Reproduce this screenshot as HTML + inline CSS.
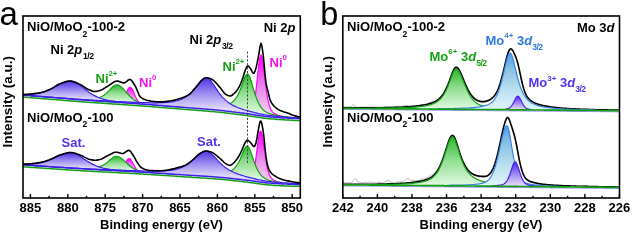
<!DOCTYPE html>
<html><head><meta charset="utf-8"><style>
html,body{margin:0;padding:0;background:#fff;width:632px;height:233px;overflow:hidden}
svg{position:absolute;left:0;top:0;display:block;will-change:transform} path{stroke-linejoin:round}
</style></head><body>
<svg width="632" height="233" viewBox="0 0 632 233">
<defs><linearGradient id="gm1" gradientUnits="userSpaceOnUse" x1="0" y1="87.3" x2="0" y2="103.2"><stop offset="0" stop-color="#ff00ff"/><stop offset="0.5" stop-color="#e884e8"/><stop offset="1" stop-color="#f2d6f2"/></linearGradient><linearGradient id="gm2" gradientUnits="userSpaceOnUse" x1="0" y1="54.8" x2="0" y2="115.8"><stop offset="0" stop-color="#ff00ff"/><stop offset="0.5" stop-color="#e884e8"/><stop offset="1" stop-color="#f2d6f2"/></linearGradient><linearGradient id="gg3" gradientUnits="userSpaceOnUse" x1="0" y1="84.9" x2="0" y2="102.3"><stop offset="0" stop-color="#2cb82c"/><stop offset="0.45" stop-color="#8cdc8c"/><stop offset="1" stop-color="#e2fae2"/></linearGradient><linearGradient id="gg4" gradientUnits="userSpaceOnUse" x1="0" y1="74.1" x2="0" y2="113.8"><stop offset="0" stop-color="#2cb82c"/><stop offset="0.45" stop-color="#8cdc8c"/><stop offset="1" stop-color="#e2fae2"/></linearGradient><linearGradient id="gp5" gradientUnits="userSpaceOnUse" x1="0" y1="81.2" x2="0" y2="99.0"><stop offset="0" stop-color="#4f32e6"/><stop offset="0.45" stop-color="#9484f0"/><stop offset="1" stop-color="#e2dafa"/></linearGradient><linearGradient id="gp6" gradientUnits="userSpaceOnUse" x1="0" y1="77.6" x2="0" y2="109.1"><stop offset="0" stop-color="#4f32e6"/><stop offset="0.45" stop-color="#9484f0"/><stop offset="1" stop-color="#e2dafa"/></linearGradient><linearGradient id="gm7" gradientUnits="userSpaceOnUse" x1="0" y1="158.6" x2="0" y2="171.4"><stop offset="0" stop-color="#ff00ff"/><stop offset="0.5" stop-color="#e884e8"/><stop offset="1" stop-color="#f2d6f2"/></linearGradient><linearGradient id="gm8" gradientUnits="userSpaceOnUse" x1="0" y1="131.1" x2="0" y2="182.2"><stop offset="0" stop-color="#ff00ff"/><stop offset="0.5" stop-color="#e884e8"/><stop offset="1" stop-color="#f2d6f2"/></linearGradient><linearGradient id="gg9" gradientUnits="userSpaceOnUse" x1="0" y1="156.4" x2="0" y2="170.7"><stop offset="0" stop-color="#2cb82c"/><stop offset="0.45" stop-color="#8cdc8c"/><stop offset="1" stop-color="#e2fae2"/></linearGradient><linearGradient id="gg10" gradientUnits="userSpaceOnUse" x1="0" y1="146.1" x2="0" y2="180.2"><stop offset="0" stop-color="#2cb82c"/><stop offset="0.45" stop-color="#8cdc8c"/><stop offset="1" stop-color="#e2fae2"/></linearGradient><linearGradient id="gp11" gradientUnits="userSpaceOnUse" x1="0" y1="152.8" x2="0" y2="168.2"><stop offset="0" stop-color="#4f32e6"/><stop offset="0.45" stop-color="#9484f0"/><stop offset="1" stop-color="#e2dafa"/></linearGradient><linearGradient id="gp12" gradientUnits="userSpaceOnUse" x1="0" y1="151.0" x2="0" y2="176.3"><stop offset="0" stop-color="#4f32e6"/><stop offset="0.45" stop-color="#9484f0"/><stop offset="1" stop-color="#e2dafa"/></linearGradient><linearGradient id="gg13" gradientUnits="userSpaceOnUse" x1="0" y1="69.0" x2="0" y2="109.3"><stop offset="0" stop-color="#2cb82c"/><stop offset="0.45" stop-color="#8cdc8c"/><stop offset="1" stop-color="#e2fae2"/></linearGradient><linearGradient id="gb14" gradientUnits="userSpaceOnUse" x1="0" y1="53.2" x2="0" y2="109.8"><stop offset="0" stop-color="#529ae6"/><stop offset="0.3" stop-color="#8cc2e0"/><stop offset="0.6" stop-color="#b4dcee"/><stop offset="1" stop-color="#e0f5fc"/></linearGradient><linearGradient id="gq15" gradientUnits="userSpaceOnUse" x1="0" y1="96.2" x2="0" y2="109.8"><stop offset="0" stop-color="#5028f0"/><stop offset="0.5" stop-color="#9c88f2"/><stop offset="1" stop-color="#e8e0fb"/></linearGradient><linearGradient id="gg16" gradientUnits="userSpaceOnUse" x1="0" y1="136.9" x2="0" y2="185.8"><stop offset="0" stop-color="#2cb82c"/><stop offset="0.45" stop-color="#8cdc8c"/><stop offset="1" stop-color="#e2fae2"/></linearGradient><linearGradient id="gb17" gradientUnits="userSpaceOnUse" x1="0" y1="125.8" x2="0" y2="186.3"><stop offset="0" stop-color="#529ae6"/><stop offset="0.3" stop-color="#8cc2e0"/><stop offset="0.6" stop-color="#b4dcee"/><stop offset="1" stop-color="#e0f5fc"/></linearGradient><linearGradient id="gq18" gradientUnits="userSpaceOnUse" x1="0" y1="161.9" x2="0" y2="186.4"><stop offset="0" stop-color="#5028f0"/><stop offset="0.5" stop-color="#9c88f2"/><stop offset="1" stop-color="#e8e0fb"/></linearGradient></defs>
<path d="M23 97L24 97.1L25 97.2L26 97.3L27 97.3L28 97.4L29 97.5L30 97.6L31 97.7L32 97.8L33 97.8L34 97.9L35 98L36 98.1L37 98.2L38 98.3L39 98.3L40 98.4L41 98.5L42 98.6L43 98.7L44 98.7L45 98.8L46 98.9L47 99L48 99.1L49 99.2L50 99.2L51 99.3L52 99.4L53 99.5L54 99.6L55 99.6L56 99.7L57 99.8L58 99.9L59 100L60 100.1L61 100.1L62 100.2L63 100.3L64 100.4L65 100.5L66 100.5L67 100.6L68 100.7L69 100.8L70 100.9L71 100.9L72 101L73 101.1L74 101.2L75 101.3L76 101.3L77 101.4L78 101.5L79 101.6L80 101.6L81 101.7L82 101.8L83 101.9L84 101.9L85 102L86 102.1L87 102.2L88 102.2L89 102.3L90 102.4L91 102.5L92 102.5L93 102.6L94 102.7L95 102.7L96 102.8L97 102.9L98 102.9L99 103L100 103.1L101 103.1L102 103.2L103 103.3L104 103.3L105 103.4L106 103.5L107 103.5L108 103.6L109 103.7L110 103.7L111 103.8L112 103.9L113 103.9L114 104L115 104.1L116 104.1L117 104.2L118 104.3L119 104.3L120 104.4L121 104.5L122 104.5L123 104.6L124 104.7L125 104.7L126 104.8L127 104.9L128 104.9L129 105L130 105.1L131 105.2L132 105.2L133 105.3L134 105.4L135 105.4L136 105.5L137 105.6L138 105.7L139 105.7L140 105.8L141 105.9L142 105.9L143 106L144 106.1L145 106.2L146 106.3L147 106.3L148 106.4L149 106.5L150 106.6L151 106.6L152 106.7L153 106.8L154 106.9L155 107L156 107L157 107.1L158 107.2L159 107.3L160 107.4L161 107.4L162 107.5L163 107.6L164 107.7L165 107.8L166 107.8L167 107.9L168 108L169 108.1L170 108.2L171 108.3L172 108.3L173 108.4L174 108.5L175 108.6L176 108.7L177 108.7L178 108.8L179 108.9L180 109L181 109.1L182 109.2L183 109.2L184 109.3L185 109.4L186 109.5L187 109.6L188 109.6L189 109.7L190 109.8L191 109.9L192 110L193 110L194 110.1L195 110.2L196 110.3L197 110.3L198 110.4L199 110.5L200 110.6L201 110.6L202 110.7L203 110.8L204 110.9L205 110.9L206 111L207 111.1L208 111.2L209 111.3L210 111.4L211 111.4L212 111.5L213 111.6L214 111.7L215 111.8L216 111.9L217 112L218 112.1L219 112.2L220 112.3L221 112.4L222 112.5L223 112.6L224 112.7L225 112.8L226 113L227 113.1L228 113.2L229 113.3L230 113.4L231 113.5L232 113.7L233 113.8L234 113.9L235 114L236 114.2L237 114.3L238 114.4L239 114.5L240 114.7L241 114.8L242 114.9L243 115L244 115.2L245 115.3L246 115.4L247 115.6L248 115.7L249 115.9L250 116L251 116.2L252 116.3L253 116.5L254 116.6L255 116.8L256 117L257 117.1L258 117.3L259 117.4L260 117.6L261 117.7L262 117.9L263 118L264 118.2L265 118.3L266 118.4L267 118.5L268 118.6L269 118.7L270 118.8L271 118.9L272 119L273 119L274 119.1L275 119.2L276 119.3L277 119.4L278 119.4L279 119.5L280 119.6L281 119.6L282 119.7L283 119.8L284 119.8L285 119.9L286 120L287 120L288 120.1L289 120.1L290 120.2L291 120.2L292 120.3L293 120.3L294 120.4L295 120.4L296 120.4L297 120.4L298 120.5L299 120.5L300 120.5" fill="none" stroke="#12a012" stroke-width="1.5"/>
<path d="M118 102.2L119 102.1L120 101.8L121 101.3L122 100.5L123 99.4L124 97.8L125 95.8L126 93.6L127 91.3L128 89.3L129 87.9L130 87.3L131 87.7L132 88.9L133 90.8L134 93.2L135 95.6L136 97.8L137 99.7L138 101.2L139 102.3L140 103L141 103.5L142 103.8L142 104L141 104L140 103.9L139 103.8L138 103.8L137 103.7L136 103.6L135 103.5L134 103.5L133 103.4L132 103.3L131 103.3L130 103.2L129 103.1L128 103L127 103L126 102.9L125 102.8L124 102.8L123 102.7L122 102.6L121 102.6L120 102.5L119 102.4L118 102.4Z" fill="url(#gm1)"/>
<path d="M118 102.2L119 102.1L120 101.8L121 101.3L122 100.5L123 99.4L124 97.8L125 95.8L126 93.6L127 91.3L128 89.3L129 87.9L130 87.3L131 87.7L132 88.9L133 90.8L134 93.2L135 95.6L136 97.8L137 99.7L138 101.2L139 102.3L140 103L141 103.5L142 103.8" fill="none" stroke="#ff00ff" stroke-width="1.2"/>
<path d="M236 112.1L237 112.2L238 112.4L239 112.5L240 112.6L241 112.7L242 112.8L243 112.9L244 113L245 113.1L246 113.2L247 113.2L248 113.3L249 113.2L250 112.9L251 112.1L252 110.7L253 108.2L254 104.1L255 98.3L256 90.5L257 81.3L258 71.7L259 63L260 56.9L261 54.8L262 57.2L263 63.3L264 71.4L265 79.9L266 87.9L267 94.7L268 100.2L269 104.4L270 107.5L271 109.7L272 111.3L273 112.4L274 113.3L275 113.9L276 114.4L277 114.8L278 115.2L279 115.5L280 115.8L281 116L282 116.2L283 116.4L284 116.6L285 116.8L286 116.9L287 117.1L288 117.2L289 117.3L290 117.4L291 117.5L292 117.6L293 117.7L294 117.8L295 117.9L296 117.9L297 118L298 118L299 118.1L300 118.1L300 118.6L299 118.6L298 118.6L297 118.5L296 118.5L295 118.5L294 118.5L293 118.4L292 118.4L291 118.3L290 118.3L289 118.2L288 118.2L287 118.1L286 118.1L285 118L284 117.9L283 117.9L282 117.8L281 117.7L280 117.7L279 117.6L278 117.5L277 117.5L276 117.4L275 117.3L274 117.2L273 117.1L272 117.1L271 117L270 116.9L269 116.8L268 116.7L267 116.6L266 116.5L265 116.4L264 116.3L263 116.1L262 116L261 115.8L260 115.7L259 115.5L258 115.4L257 115.2L256 115.1L255 114.9L254 114.7L253 114.6L252 114.4L251 114.3L250 114.1L249 114L248 113.8L247 113.7L246 113.5L245 113.4L244 113.3L243 113.1L242 113L241 112.9L240 112.8L239 112.6L238 112.5L237 112.4L236 112.3Z" fill="url(#gm2)"/>
<path d="M236 112.1L237 112.2L238 112.4L239 112.5L240 112.6L241 112.7L242 112.8L243 112.9L244 113L245 113.1L246 113.2L247 113.2L248 113.3L249 113.2L250 112.9L251 112.1L252 110.7L253 108.2L254 104.1L255 98.3L256 90.5L257 81.3L258 71.7L259 63L260 56.9L261 54.8L262 57.2L263 63.3L264 71.4L265 79.9L266 87.9L267 94.7L268 100.2L269 104.4L270 107.5L271 109.7L272 111.3L273 112.4L274 113.3L275 113.9L276 114.4L277 114.8L278 115.2L279 115.5L280 115.8L281 116L282 116.2L283 116.4L284 116.6L285 116.8L286 116.9L287 117.1L288 117.2L289 117.3L290 117.4L291 117.5L292 117.6L293 117.7L294 117.8L295 117.9L296 117.9L297 118L298 118L299 118.1L300 118.1" fill="none" stroke="#ff00ff" stroke-width="1.2"/>
<path d="M23 95L24 95.1L25 95.1L26 95.2L27 95.3L28 95.4L29 95.5L30 95.5L31 95.6L32 95.7L33 95.8L34 95.9L35 95.9L36 96L37 96.1L38 96.2L39 96.2L40 96.3L41 96.4L42 96.5L43 96.6L44 96.6L45 96.7L46 96.8L47 96.9L48 96.9L49 97L50 97.1L51 97.2L52 97.2L53 97.3L54 97.4L55 97.4L56 97.5L57 97.6L58 97.7L59 97.7L60 97.8L61 97.9L62 97.9L63 98L64 98.1L65 98.1L66 98.2L67 98.3L68 98.3L69 98.4L70 98.5L71 98.5L72 98.6L73 98.6L74 98.7L75 98.7L76 98.8L77 98.8L78 98.9L79 98.9L80 98.9L81 99L82 99L83 99L84 99.1L85 99.1L86 99.1L87 99.1L88 99.1L89 99L90 99L91 99L92 98.9L93 98.8L94 98.7L95 98.6L96 98.4L97 98.2L98 98L99 97.7L100 97.3L101 96.9L102 96.4L103 95.8L104 95.2L105 94.4L106 93.6L107 92.7L108 91.7L109 90.7L110 89.6L111 88.5L112 87.5L113 86.5L114 85.7L115 85.2L116 84.9L117 84.9L118 85.1L119 85.5L120 86.1L121 86.8L122 87.7L123 88.6L124 89.7L125 90.8L126 91.9L127 93.1L128 94.2L129 95.3L130 96.3L131 97.3L132 98.2L133 99.1L134 99.9L135 100.5L136 101.1L137 101.7L138 102.1L139 102.5L140 102.9L141 103.2L142 103.4L143 103.7L144 103.8L145 104L146 104.2L147 104.3L147 104.4L146 104.4L145 104.3L144 104.2L143 104.1L142 104L141 104L140 103.9L139 103.8L138 103.8L137 103.7L136 103.6L135 103.5L134 103.5L133 103.4L132 103.3L131 103.3L130 103.2L129 103.1L128 103L127 103L126 102.9L125 102.8L124 102.8L123 102.7L122 102.6L121 102.6L120 102.5L119 102.4L118 102.4L117 102.3L116 102.2L115 102.2L114 102.1L113 102L112 102L111 101.9L110 101.8L109 101.8L108 101.7L107 101.6L106 101.6L105 101.5L104 101.4L103 101.4L102 101.3L101 101.2L100 101.2L99 101.1L98 101L97 101L96 100.9L95 100.8L94 100.8L93 100.7L92 100.6L91 100.6L90 100.5L89 100.4L88 100.3L87 100.3L86 100.2L85 100.1L84 100L83 100L82 99.9L81 99.8L80 99.7L79 99.7L78 99.6L77 99.5L76 99.4L75 99.4L74 99.3L73 99.2L72 99.1L71 99L70 99L69 98.9L68 98.8L67 98.7L66 98.6L65 98.6L64 98.5L63 98.4L62 98.3L61 98.2L60 98.2L59 98.1L58 98L57 97.9L56 97.8L55 97.7L54 97.7L53 97.6L52 97.5L51 97.4L50 97.3L49 97.3L48 97.2L47 97.1L46 97L45 96.9L44 96.8L43 96.8L42 96.7L41 96.6L40 96.5L39 96.4L38 96.4L37 96.3L36 96.2L35 96.1L34 96L33 95.9L32 95.9L31 95.8L30 95.7L29 95.6L28 95.5L27 95.4L26 95.4L25 95.3L24 95.2L23 95.1Z" fill="url(#gg3)"/>
<path d="M23 95L24 95.1L25 95.1L26 95.2L27 95.3L28 95.4L29 95.5L30 95.5L31 95.6L32 95.7L33 95.8L34 95.9L35 95.9L36 96L37 96.1L38 96.2L39 96.2L40 96.3L41 96.4L42 96.5L43 96.6L44 96.6L45 96.7L46 96.8L47 96.9L48 96.9L49 97L50 97.1L51 97.2L52 97.2L53 97.3L54 97.4L55 97.4L56 97.5L57 97.6L58 97.7L59 97.7L60 97.8L61 97.9L62 97.9L63 98L64 98.1L65 98.1L66 98.2L67 98.3L68 98.3L69 98.4L70 98.5L71 98.5L72 98.6L73 98.6L74 98.7L75 98.7L76 98.8L77 98.8L78 98.9L79 98.9L80 98.9L81 99L82 99L83 99L84 99.1L85 99.1L86 99.1L87 99.1L88 99.1L89 99L90 99L91 99L92 98.9L93 98.8L94 98.7L95 98.6L96 98.4L97 98.2L98 98L99 97.7L100 97.3L101 96.9L102 96.4L103 95.8L104 95.2L105 94.4L106 93.6L107 92.7L108 91.7L109 90.7L110 89.6L111 88.5L112 87.5L113 86.5L114 85.7L115 85.2L116 84.9L117 84.9L118 85.1L119 85.5L120 86.1L121 86.8L122 87.7L123 88.6L124 89.7L125 90.8L126 91.9L127 93.1L128 94.2L129 95.3L130 96.3L131 97.3L132 98.2L133 99.1L134 99.9L135 100.5L136 101.1L137 101.7L138 102.1L139 102.5L140 102.9L141 103.2L142 103.4L143 103.7L144 103.8L145 104L146 104.2L147 104.3" fill="none" stroke="#12a012" stroke-width="1.2"/>
<path d="M91 100.4L92 100.5L93 100.6L94 100.6L95 100.7L96 100.8L97 100.8L98 100.9L99 101L100 101L101 101.1L102 101.2L103 101.2L104 101.3L105 101.4L106 101.4L107 101.5L108 101.6L109 101.6L110 101.7L111 101.7L112 101.8L113 101.9L114 101.9L115 102L116 102.1L117 102.1L118 102.2L119 102.3L120 102.3L121 102.4L122 102.4L123 102.5L124 102.6L125 102.6L126 102.7L127 102.8L128 102.8L129 102.9L130 103L131 103L132 103.1L133 103.2L134 103.2L135 103.3L136 103.4L137 103.4L138 103.5L139 103.6L140 103.6L141 103.7L142 103.8L143 103.9L144 103.9L145 104L146 104.1L147 104.1L148 104.2L149 104.3L150 104.4L151 104.4L152 104.5L153 104.6L154 104.6L155 104.7L156 104.8L157 104.9L158 104.9L159 105L160 105.1L161 105.1L162 105.2L163 105.3L164 105.4L165 105.4L166 105.5L167 105.6L168 105.6L169 105.7L170 105.8L171 105.9L172 105.9L173 106L174 106.1L175 106.1L176 106.2L177 106.3L178 106.3L179 106.4L180 106.4L181 106.5L182 106.6L183 106.6L184 106.7L185 106.8L186 106.8L187 106.9L188 106.9L189 107L190 107L191 107.1L192 107.1L193 107.2L194 107.2L195 107.2L196 107.3L197 107.3L198 107.3L199 107.4L200 107.4L201 107.4L202 107.4L203 107.5L204 107.5L205 107.5L206 107.5L207 107.5L208 107.5L209 107.5L210 107.5L211 107.4L212 107.4L213 107.4L214 107.3L215 107.3L216 107.2L217 107.1L218 107.1L219 107L220 106.8L221 106.7L222 106.5L223 106.3L224 106.1L225 105.9L226 105.6L227 105.2L228 104.8L229 104.3L230 103.8L231 103.1L232 102.4L233 101.5L234 100.5L235 99.4L236 98L237 96.5L238 94.7L239 92.6L240 90.3L241 87.7L242 85L243 82.1L244 79.3L245 76.9L246 75L247 74.1L248 74.1L249 75.3L250 77.5L251 80.5L252 83.8L253 87.3L254 90.8L255 94L256 96.9L257 99.6L258 101.9L259 104L260 105.7L261 107.2L262 108.5L263 109.6L264 110.5L265 111.3L266 112L267 112.5L268 113L269 113.4L270 113.8L271 114.1L272 114.4L273 114.7L274 114.9L275 115.2L276 115.4L277 115.6L278 115.8L279 116L280 116.1L281 116.3L282 116.4L283 116.6L284 116.7L285 116.8L286 116.9L287 117.1L288 117.2L289 117.3L290 117.4L291 117.4L292 117.5L293 117.6L294 117.7L295 117.7L296 117.8L297 117.9L298 117.9L299 117.9L300 118L300 118.6L299 118.6L298 118.6L297 118.5L296 118.5L295 118.5L294 118.5L293 118.4L292 118.4L291 118.3L290 118.3L289 118.2L288 118.2L287 118.1L286 118.1L285 118L284 117.9L283 117.9L282 117.8L281 117.7L280 117.7L279 117.6L278 117.5L277 117.5L276 117.4L275 117.3L274 117.2L273 117.1L272 117.1L271 117L270 116.9L269 116.8L268 116.7L267 116.6L266 116.5L265 116.4L264 116.3L263 116.1L262 116L261 115.8L260 115.7L259 115.5L258 115.4L257 115.2L256 115.1L255 114.9L254 114.7L253 114.6L252 114.4L251 114.3L250 114.1L249 114L248 113.8L247 113.7L246 113.5L245 113.4L244 113.3L243 113.1L242 113L241 112.9L240 112.8L239 112.6L238 112.5L237 112.4L236 112.3L235 112.1L234 112L233 111.9L232 111.8L231 111.6L230 111.5L229 111.4L228 111.3L227 111.2L226 111.1L225 110.9L224 110.8L223 110.7L222 110.6L221 110.5L220 110.4L219 110.3L218 110.2L217 110.1L216 110L215 109.9L214 109.8L213 109.7L212 109.6L211 109.5L210 109.5L209 109.4L208 109.3L207 109.2L206 109.1L205 109L204 109L203 108.9L202 108.8L201 108.7L200 108.7L199 108.6L198 108.5L197 108.4L196 108.4L195 108.3L194 108.2L193 108.1L192 108.1L191 108L190 107.9L189 107.8L188 107.7L187 107.7L186 107.6L185 107.5L184 107.4L183 107.3L182 107.3L181 107.2L180 107.1L179 107L178 106.9L177 106.8L176 106.8L175 106.7L174 106.6L173 106.5L172 106.4L171 106.4L170 106.3L169 106.2L168 106.1L167 106L166 105.9L165 105.9L164 105.8L163 105.7L162 105.6L161 105.5L160 105.5L159 105.4L158 105.3L157 105.2L156 105.1L155 105.1L154 105L153 104.9L152 104.8L151 104.7L150 104.7L149 104.6L148 104.5L147 104.4L146 104.4L145 104.3L144 104.2L143 104.1L142 104L141 104L140 103.9L139 103.8L138 103.8L137 103.7L136 103.6L135 103.5L134 103.5L133 103.4L132 103.3L131 103.3L130 103.2L129 103.1L128 103L127 103L126 102.9L125 102.8L124 102.8L123 102.7L122 102.6L121 102.6L120 102.5L119 102.4L118 102.4L117 102.3L116 102.2L115 102.2L114 102.1L113 102L112 102L111 101.9L110 101.8L109 101.8L108 101.7L107 101.6L106 101.6L105 101.5L104 101.4L103 101.4L102 101.3L101 101.2L100 101.2L99 101.1L98 101L97 101L96 100.9L95 100.8L94 100.8L93 100.7L92 100.6L91 100.6Z" fill="url(#gg4)"/>
<path d="M91 100.4L92 100.5L93 100.6L94 100.6L95 100.7L96 100.8L97 100.8L98 100.9L99 101L100 101L101 101.1L102 101.2L103 101.2L104 101.3L105 101.4L106 101.4L107 101.5L108 101.6L109 101.6L110 101.7L111 101.7L112 101.8L113 101.9L114 101.9L115 102L116 102.1L117 102.1L118 102.2L119 102.3L120 102.3L121 102.4L122 102.4L123 102.5L124 102.6L125 102.6L126 102.7L127 102.8L128 102.8L129 102.9L130 103L131 103L132 103.1L133 103.2L134 103.2L135 103.3L136 103.4L137 103.4L138 103.5L139 103.6L140 103.6L141 103.7L142 103.8L143 103.9L144 103.9L145 104L146 104.1L147 104.1L148 104.2L149 104.3L150 104.4L151 104.4L152 104.5L153 104.6L154 104.6L155 104.7L156 104.8L157 104.9L158 104.9L159 105L160 105.1L161 105.1L162 105.2L163 105.3L164 105.4L165 105.4L166 105.5L167 105.6L168 105.6L169 105.7L170 105.8L171 105.9L172 105.9L173 106L174 106.1L175 106.1L176 106.2L177 106.3L178 106.3L179 106.4L180 106.4L181 106.5L182 106.6L183 106.6L184 106.7L185 106.8L186 106.8L187 106.9L188 106.9L189 107L190 107L191 107.1L192 107.1L193 107.2L194 107.2L195 107.2L196 107.3L197 107.3L198 107.3L199 107.4L200 107.4L201 107.4L202 107.4L203 107.5L204 107.5L205 107.5L206 107.5L207 107.5L208 107.5L209 107.5L210 107.5L211 107.4L212 107.4L213 107.4L214 107.3L215 107.3L216 107.2L217 107.1L218 107.1L219 107L220 106.8L221 106.7L222 106.5L223 106.3L224 106.1L225 105.9L226 105.6L227 105.2L228 104.8L229 104.3L230 103.8L231 103.1L232 102.4L233 101.5L234 100.5L235 99.4L236 98L237 96.5L238 94.7L239 92.6L240 90.3L241 87.7L242 85L243 82.1L244 79.3L245 76.9L246 75L247 74.1L248 74.1L249 75.3L250 77.5L251 80.5L252 83.8L253 87.3L254 90.8L255 94L256 96.9L257 99.6L258 101.9L259 104L260 105.7L261 107.2L262 108.5L263 109.6L264 110.5L265 111.3L266 112L267 112.5L268 113L269 113.4L270 113.8L271 114.1L272 114.4L273 114.7L274 114.9L275 115.2L276 115.4L277 115.6L278 115.8L279 116L280 116.1L281 116.3L282 116.4L283 116.6L284 116.7L285 116.8L286 116.9L287 117.1L288 117.2L289 117.3L290 117.4L291 117.4L292 117.5L293 117.6L294 117.7L295 117.7L296 117.8L297 117.9L298 117.9L299 117.9L300 118" fill="none" stroke="#12a012" stroke-width="1.2"/>
<path d="M23 94.4L24 94.4L25 94.4L26 94.5L27 94.5L28 94.4L29 94.4L30 94.4L31 94.3L32 94.3L33 94.2L34 94.1L35 94L36 93.8L37 93.7L38 93.5L39 93.3L40 93.1L41 92.8L42 92.5L43 92.2L44 91.9L45 91.5L46 91.1L47 90.7L48 90.3L49 89.8L50 89.3L51 88.8L52 88.3L53 87.8L54 87.2L55 86.7L56 86.1L57 85.6L58 85.1L59 84.5L60 84L61 83.5L62 83.1L63 82.7L64 82.3L65 82L66 81.7L67 81.5L68 81.3L69 81.2L70 81.2L71 81.2L72 81.4L73 81.6L74 81.9L75 82.3L76 82.8L77 83.3L78 84L79 84.6L80 85.3L81 86.1L82 86.8L83 87.6L84 88.4L85 89.2L86 89.9L87 90.7L88 91.4L89 92.2L90 92.9L91 93.5L92 94.2L93 94.8L94 95.4L95 95.9L96 96.4L97 96.9L98 97.3L99 97.8L100 98.1L101 98.5L102 98.8L103 99.1L104 99.4L105 99.7L106 99.9L107 100.1L108 100.3L109 100.5L110 100.7L111 100.8L112 101L113 101.1L114 101.2L115 101.4L116 101.5L117 101.6L118 101.7L119 101.8L120 101.9L121 102L122 102.1L123 102.2L124 102.3L125 102.3L126 102.4L127 102.5L128 102.6L129 102.7L130 102.8L131 102.9L132 102.9L133 103L134 103.1L135 103.2L136 103.3L137 103.3L138 103.4L139 103.5L140 103.6L141 103.7L142 103.8L143 103.8L144 103.9L145 104L146 104.1L147 104.2L148 104.3L149 104.3L150 104.4L151 104.5L152 104.6L153 104.7L154 104.8L155 104.8L156 104.9L157 105L158 105.1L159 105.2L160 105.3L161 105.4L162 105.4L163 105.5L164 105.6L165 105.7L166 105.8L167 105.9L168 105.9L169 106L170 106.1L171 106.2L172 106.3L173 106.4L174 106.5L175 106.5L176 106.6L177 106.7L178 106.8L179 106.9L180 107L181 107L182 107.1L183 107.2L183 107.3L182 107.3L181 107.2L180 107.1L179 107L178 106.9L177 106.8L176 106.8L175 106.7L174 106.6L173 106.5L172 106.4L171 106.4L170 106.3L169 106.2L168 106.1L167 106L166 105.9L165 105.9L164 105.8L163 105.7L162 105.6L161 105.5L160 105.5L159 105.4L158 105.3L157 105.2L156 105.1L155 105.1L154 105L153 104.9L152 104.8L151 104.7L150 104.7L149 104.6L148 104.5L147 104.4L146 104.4L145 104.3L144 104.2L143 104.1L142 104L141 104L140 103.9L139 103.8L138 103.8L137 103.7L136 103.6L135 103.5L134 103.5L133 103.4L132 103.3L131 103.3L130 103.2L129 103.1L128 103L127 103L126 102.9L125 102.8L124 102.8L123 102.7L122 102.6L121 102.6L120 102.5L119 102.4L118 102.4L117 102.3L116 102.2L115 102.2L114 102.1L113 102L112 102L111 101.9L110 101.8L109 101.8L108 101.7L107 101.6L106 101.6L105 101.5L104 101.4L103 101.4L102 101.3L101 101.2L100 101.2L99 101.1L98 101L97 101L96 100.9L95 100.8L94 100.8L93 100.7L92 100.6L91 100.6L90 100.5L89 100.4L88 100.3L87 100.3L86 100.2L85 100.1L84 100L83 100L82 99.9L81 99.8L80 99.7L79 99.7L78 99.6L77 99.5L76 99.4L75 99.4L74 99.3L73 99.2L72 99.1L71 99L70 99L69 98.9L68 98.8L67 98.7L66 98.6L65 98.6L64 98.5L63 98.4L62 98.3L61 98.2L60 98.2L59 98.1L58 98L57 97.9L56 97.8L55 97.7L54 97.7L53 97.6L52 97.5L51 97.4L50 97.3L49 97.3L48 97.2L47 97.1L46 97L45 96.9L44 96.8L43 96.8L42 96.7L41 96.6L40 96.5L39 96.4L38 96.4L37 96.3L36 96.2L35 96.1L34 96L33 95.9L32 95.9L31 95.8L30 95.7L29 95.6L28 95.5L27 95.4L26 95.4L25 95.3L24 95.2L23 95.1Z" fill="url(#gp5)"/>
<path d="M23 94.4L24 94.4L25 94.4L26 94.5L27 94.5L28 94.4L29 94.4L30 94.4L31 94.3L32 94.3L33 94.2L34 94.1L35 94L36 93.8L37 93.7L38 93.5L39 93.3L40 93.1L41 92.8L42 92.5L43 92.2L44 91.9L45 91.5L46 91.1L47 90.7L48 90.3L49 89.8L50 89.3L51 88.8L52 88.3L53 87.8L54 87.2L55 86.7L56 86.1L57 85.6L58 85.1L59 84.5L60 84L61 83.5L62 83.1L63 82.7L64 82.3L65 82L66 81.7L67 81.5L68 81.3L69 81.2L70 81.2L71 81.2L72 81.4L73 81.6L74 81.9L75 82.3L76 82.8L77 83.3L78 84L79 84.6L80 85.3L81 86.1L82 86.8L83 87.6L84 88.4L85 89.2L86 89.9L87 90.7L88 91.4L89 92.2L90 92.9L91 93.5L92 94.2L93 94.8L94 95.4L95 95.9L96 96.4L97 96.9L98 97.3L99 97.8L100 98.1L101 98.5L102 98.8L103 99.1L104 99.4L105 99.7L106 99.9L107 100.1L108 100.3L109 100.5L110 100.7L111 100.8L112 101L113 101.1L114 101.2L115 101.4L116 101.5L117 101.6L118 101.7L119 101.8L120 101.9L121 102L122 102.1L123 102.2L124 102.3L125 102.3L126 102.4L127 102.5L128 102.6L129 102.7L130 102.8L131 102.9L132 102.9L133 103L134 103.1L135 103.2L136 103.3L137 103.3L138 103.4L139 103.5L140 103.6L141 103.7L142 103.8L143 103.8L144 103.9L145 104L146 104.1L147 104.2L148 104.3L149 104.3L150 104.4L151 104.5L152 104.6L153 104.7L154 104.8L155 104.8L156 104.9L157 105L158 105.1L159 105.2L160 105.3L161 105.4L162 105.4L163 105.5L164 105.6L165 105.7L166 105.8L167 105.9L168 105.9L169 106L170 106.1L171 106.2L172 106.3L173 106.4L174 106.5L175 106.5L176 106.6L177 106.7L178 106.8L179 106.9L180 107L181 107L182 107.1L183 107.2" fill="none" stroke="#3c20ea" stroke-width="1.2"/>
<path d="M23 94.9L24 95L25 95.1L26 95.2L27 95.2L28 95.3L29 95.4L30 95.5L31 95.6L32 95.6L33 95.7L34 95.8L35 95.9L36 96L37 96L38 96.1L39 96.2L40 96.3L41 96.4L42 96.4L43 96.5L44 96.6L45 96.7L46 96.8L47 96.8L48 96.9L49 97L50 97.1L51 97.2L52 97.2L53 97.3L54 97.4L55 97.5L56 97.5L57 97.6L58 97.7L59 97.8L60 97.9L61 97.9L62 98L63 98.1L64 98.2L65 98.2L66 98.3L67 98.4L68 98.5L69 98.5L70 98.6L71 98.7L72 98.8L73 98.8L74 98.9L75 99L76 99.1L77 99.1L78 99.2L79 99.3L80 99.3L81 99.4L82 99.5L83 99.6L84 99.6L85 99.7L86 99.8L87 99.8L88 99.9L89 99.9L90 100L91 100.1L92 100.1L93 100.2L94 100.3L95 100.3L96 100.4L97 100.4L98 100.5L99 100.5L100 100.6L101 100.7L102 100.7L103 100.8L104 100.8L105 100.9L106 100.9L107 101L108 101L109 101.1L110 101.2L111 101.2L112 101.3L113 101.3L114 101.4L115 101.4L116 101.5L117 101.5L118 101.6L119 101.6L120 101.7L121 101.7L122 101.8L123 101.8L124 101.8L125 101.9L126 101.9L127 102L128 102L129 102.1L130 102.1L131 102.2L132 102.2L133 102.2L134 102.3L135 102.3L136 102.4L137 102.4L138 102.4L139 102.5L140 102.5L141 102.5L142 102.6L143 102.6L144 102.6L145 102.6L146 102.7L147 102.7L148 102.7L149 102.7L150 102.8L151 102.8L152 102.8L153 102.8L154 102.8L155 102.8L156 102.8L157 102.8L158 102.8L159 102.7L160 102.7L161 102.7L162 102.7L163 102.6L164 102.6L165 102.5L166 102.4L167 102.3L168 102.3L169 102.1L170 102L171 101.9L172 101.8L173 101.6L174 101.4L175 101.2L176 101L177 100.7L178 100.4L179 100.1L180 99.8L181 99.4L182 99L183 98.5L184 98L185 97.4L186 96.8L187 96.1L188 95.4L189 94.6L190 93.7L191 92.8L192 91.8L193 90.7L194 89.5L195 88.3L196 87.1L197 85.8L198 84.5L199 83.2L200 82L201 80.8L202 79.8L203 78.9L204 78.3L205 77.8L206 77.6L207 77.8L208 78.2L209 78.9L210 79.9L211 81L212 82.4L213 83.8L214 85.3L215 86.9L216 88.4L217 89.9L218 91.4L219 92.8L220 94.1L221 95.4L222 96.6L223 97.7L224 98.7L225 99.7L226 100.6L227 101.4L228 102.2L229 102.9L230 103.6L231 104.2L232 104.8L233 105.4L234 105.9L235 106.4L236 106.8L237 107.2L238 107.7L239 108L240 108.4L241 108.8L242 109.1L243 109.4L244 109.7L245 110L246 110.3L247 110.6L248 110.8L249 111.1L250 111.4L251 111.6L252 111.9L253 112.2L254 112.4L255 112.7L256 112.9L257 113.1L258 113.4L259 113.6L260 113.8L261 114L262 114.2L263 114.4L264 114.6L265 114.8L266 115L267 115.1L268 115.3L269 115.4L270 115.6L271 115.7L272 115.8L273 115.9L274 116L275 116.1L276 116.2L277 116.3L278 116.5L279 116.6L280 116.7L281 116.8L282 116.8L283 116.9L284 117L285 117.1L286 117.2L287 117.3L288 117.3L289 117.4L290 117.5L291 117.6L292 117.6L293 117.7L294 117.7L295 117.8L296 117.8L297 117.9L298 117.9L299 117.9L300 118L300 118.6L299 118.6L298 118.6L297 118.5L296 118.5L295 118.5L294 118.5L293 118.4L292 118.4L291 118.3L290 118.3L289 118.2L288 118.2L287 118.1L286 118.1L285 118L284 117.9L283 117.9L282 117.8L281 117.7L280 117.7L279 117.6L278 117.5L277 117.5L276 117.4L275 117.3L274 117.2L273 117.1L272 117.1L271 117L270 116.9L269 116.8L268 116.7L267 116.6L266 116.5L265 116.4L264 116.3L263 116.1L262 116L261 115.8L260 115.7L259 115.5L258 115.4L257 115.2L256 115.1L255 114.9L254 114.7L253 114.6L252 114.4L251 114.3L250 114.1L249 114L248 113.8L247 113.7L246 113.5L245 113.4L244 113.3L243 113.1L242 113L241 112.9L240 112.8L239 112.6L238 112.5L237 112.4L236 112.3L235 112.1L234 112L233 111.9L232 111.8L231 111.6L230 111.5L229 111.4L228 111.3L227 111.2L226 111.1L225 110.9L224 110.8L223 110.7L222 110.6L221 110.5L220 110.4L219 110.3L218 110.2L217 110.1L216 110L215 109.9L214 109.8L213 109.7L212 109.6L211 109.5L210 109.5L209 109.4L208 109.3L207 109.2L206 109.1L205 109L204 109L203 108.9L202 108.8L201 108.7L200 108.7L199 108.6L198 108.5L197 108.4L196 108.4L195 108.3L194 108.2L193 108.1L192 108.1L191 108L190 107.9L189 107.8L188 107.7L187 107.7L186 107.6L185 107.5L184 107.4L183 107.3L182 107.3L181 107.2L180 107.1L179 107L178 106.9L177 106.8L176 106.8L175 106.7L174 106.6L173 106.5L172 106.4L171 106.4L170 106.3L169 106.2L168 106.1L167 106L166 105.9L165 105.9L164 105.8L163 105.7L162 105.6L161 105.5L160 105.5L159 105.4L158 105.3L157 105.2L156 105.1L155 105.1L154 105L153 104.9L152 104.8L151 104.7L150 104.7L149 104.6L148 104.5L147 104.4L146 104.4L145 104.3L144 104.2L143 104.1L142 104L141 104L140 103.9L139 103.8L138 103.8L137 103.7L136 103.6L135 103.5L134 103.5L133 103.4L132 103.3L131 103.3L130 103.2L129 103.1L128 103L127 103L126 102.9L125 102.8L124 102.8L123 102.7L122 102.6L121 102.6L120 102.5L119 102.4L118 102.4L117 102.3L116 102.2L115 102.2L114 102.1L113 102L112 102L111 101.9L110 101.8L109 101.8L108 101.7L107 101.6L106 101.6L105 101.5L104 101.4L103 101.4L102 101.3L101 101.2L100 101.2L99 101.1L98 101L97 101L96 100.9L95 100.8L94 100.8L93 100.7L92 100.6L91 100.6L90 100.5L89 100.4L88 100.3L87 100.3L86 100.2L85 100.1L84 100L83 100L82 99.9L81 99.8L80 99.7L79 99.7L78 99.6L77 99.5L76 99.4L75 99.4L74 99.3L73 99.2L72 99.1L71 99L70 99L69 98.9L68 98.8L67 98.7L66 98.6L65 98.6L64 98.5L63 98.4L62 98.3L61 98.2L60 98.2L59 98.1L58 98L57 97.9L56 97.8L55 97.7L54 97.7L53 97.6L52 97.5L51 97.4L50 97.3L49 97.3L48 97.2L47 97.1L46 97L45 96.9L44 96.8L43 96.8L42 96.7L41 96.6L40 96.5L39 96.4L38 96.4L37 96.3L36 96.2L35 96.1L34 96L33 95.9L32 95.9L31 95.8L30 95.7L29 95.6L28 95.5L27 95.4L26 95.4L25 95.3L24 95.2L23 95.1Z" fill="url(#gp6)"/>
<path d="M23 94.9L24 95L25 95.1L26 95.2L27 95.2L28 95.3L29 95.4L30 95.5L31 95.6L32 95.6L33 95.7L34 95.8L35 95.9L36 96L37 96L38 96.1L39 96.2L40 96.3L41 96.4L42 96.4L43 96.5L44 96.6L45 96.7L46 96.8L47 96.8L48 96.9L49 97L50 97.1L51 97.2L52 97.2L53 97.3L54 97.4L55 97.5L56 97.5L57 97.6L58 97.7L59 97.8L60 97.9L61 97.9L62 98L63 98.1L64 98.2L65 98.2L66 98.3L67 98.4L68 98.5L69 98.5L70 98.6L71 98.7L72 98.8L73 98.8L74 98.9L75 99L76 99.1L77 99.1L78 99.2L79 99.3L80 99.3L81 99.4L82 99.5L83 99.6L84 99.6L85 99.7L86 99.8L87 99.8L88 99.9L89 99.9L90 100L91 100.1L92 100.1L93 100.2L94 100.3L95 100.3L96 100.4L97 100.4L98 100.5L99 100.5L100 100.6L101 100.7L102 100.7L103 100.8L104 100.8L105 100.9L106 100.9L107 101L108 101L109 101.1L110 101.2L111 101.2L112 101.3L113 101.3L114 101.4L115 101.4L116 101.5L117 101.5L118 101.6L119 101.6L120 101.7L121 101.7L122 101.8L123 101.8L124 101.8L125 101.9L126 101.9L127 102L128 102L129 102.1L130 102.1L131 102.2L132 102.2L133 102.2L134 102.3L135 102.3L136 102.4L137 102.4L138 102.4L139 102.5L140 102.5L141 102.5L142 102.6L143 102.6L144 102.6L145 102.6L146 102.7L147 102.7L148 102.7L149 102.7L150 102.8L151 102.8L152 102.8L153 102.8L154 102.8L155 102.8L156 102.8L157 102.8L158 102.8L159 102.7L160 102.7L161 102.7L162 102.7L163 102.6L164 102.6L165 102.5L166 102.4L167 102.3L168 102.3L169 102.1L170 102L171 101.9L172 101.8L173 101.6L174 101.4L175 101.2L176 101L177 100.7L178 100.4L179 100.1L180 99.8L181 99.4L182 99L183 98.5L184 98L185 97.4L186 96.8L187 96.1L188 95.4L189 94.6L190 93.7L191 92.8L192 91.8L193 90.7L194 89.5L195 88.3L196 87.1L197 85.8L198 84.5L199 83.2L200 82L201 80.8L202 79.8L203 78.9L204 78.3L205 77.8L206 77.6L207 77.8L208 78.2L209 78.9L210 79.9L211 81L212 82.4L213 83.8L214 85.3L215 86.9L216 88.4L217 89.9L218 91.4L219 92.8L220 94.1L221 95.4L222 96.6L223 97.7L224 98.7L225 99.7L226 100.6L227 101.4L228 102.2L229 102.9L230 103.6L231 104.2L232 104.8L233 105.4L234 105.9L235 106.4L236 106.8L237 107.2L238 107.7L239 108L240 108.4L241 108.8L242 109.1L243 109.4L244 109.7L245 110L246 110.3L247 110.6L248 110.8L249 111.1L250 111.4L251 111.6L252 111.9L253 112.2L254 112.4L255 112.7L256 112.9L257 113.1L258 113.4L259 113.6L260 113.8L261 114L262 114.2L263 114.4L264 114.6L265 114.8L266 115L267 115.1L268 115.3L269 115.4L270 115.6L271 115.7L272 115.8L273 115.9L274 116L275 116.1L276 116.2L277 116.3L278 116.5L279 116.6L280 116.7L281 116.8L282 116.8L283 116.9L284 117L285 117.1L286 117.2L287 117.3L288 117.3L289 117.4L290 117.5L291 117.6L292 117.6L293 117.7L294 117.7L295 117.8L296 117.8L297 117.9L298 117.9L299 117.9L300 118" fill="none" stroke="#3c20ea" stroke-width="1.2"/>
<path d="M23 95.1L24 95.2L25 95.3L26 95.4L27 95.4L28 95.5L29 95.6L30 95.7L31 95.8L32 95.9L33 95.9L34 96L35 96.1L36 96.2L37 96.3L38 96.4L39 96.4L40 96.5L41 96.6L42 96.7L43 96.8L44 96.8L45 96.9L46 97L47 97.1L48 97.2L49 97.3L50 97.3L51 97.4L52 97.5L53 97.6L54 97.7L55 97.7L56 97.8L57 97.9L58 98L59 98.1L60 98.2L61 98.2L62 98.3L63 98.4L64 98.5L65 98.6L66 98.6L67 98.7L68 98.8L69 98.9L70 99L71 99L72 99.1L73 99.2L74 99.3L75 99.4L76 99.4L77 99.5L78 99.6L79 99.7L80 99.7L81 99.8L82 99.9L83 100L84 100L85 100.1L86 100.2L87 100.3L88 100.3L89 100.4L90 100.5L91 100.6L92 100.6L93 100.7L94 100.8L95 100.8L96 100.9L97 101L98 101L99 101.1L100 101.2L101 101.2L102 101.3L103 101.4L104 101.4L105 101.5L106 101.6L107 101.6L108 101.7L109 101.8L110 101.8L111 101.9L112 102L113 102L114 102.1L115 102.2L116 102.2L117 102.3L118 102.4L119 102.4L120 102.5L121 102.6L122 102.6L123 102.7L124 102.8L125 102.8L126 102.9L127 103L128 103L129 103.1L130 103.2L131 103.3L132 103.3L133 103.4L134 103.5L135 103.5L136 103.6L137 103.7L138 103.8L139 103.8L140 103.9L141 104L142 104L143 104.1L144 104.2L145 104.3L146 104.4L147 104.4L148 104.5L149 104.6L150 104.7L151 104.7L152 104.8L153 104.9L154 105L155 105.1L156 105.1L157 105.2L158 105.3L159 105.4L160 105.5L161 105.5L162 105.6L163 105.7L164 105.8L165 105.9L166 105.9L167 106L168 106.1L169 106.2L170 106.3L171 106.4L172 106.4L173 106.5L174 106.6L175 106.7L176 106.8L177 106.8L178 106.9L179 107L180 107.1L181 107.2L182 107.3L183 107.3L184 107.4L185 107.5L186 107.6L187 107.7L188 107.7L189 107.8L190 107.9L191 108L192 108.1L193 108.1L194 108.2L195 108.3L196 108.4L197 108.4L198 108.5L199 108.6L200 108.7L201 108.7L202 108.8L203 108.9L204 109L205 109L206 109.1L207 109.2L208 109.3L209 109.4L210 109.5L211 109.5L212 109.6L213 109.7L214 109.8L215 109.9L216 110L217 110.1L218 110.2L219 110.3L220 110.4L221 110.5L222 110.6L223 110.7L224 110.8L225 110.9L226 111.1L227 111.2L228 111.3L229 111.4L230 111.5L231 111.6L232 111.8L233 111.9L234 112L235 112.1L236 112.3L237 112.4L238 112.5L239 112.6L240 112.8L241 112.9L242 113L243 113.1L244 113.3L245 113.4L246 113.5L247 113.7L248 113.8L249 114L250 114.1L251 114.3L252 114.4L253 114.6L254 114.7L255 114.9L256 115.1L257 115.2L258 115.4L259 115.5L260 115.7L261 115.8L262 116L263 116.1L264 116.3L265 116.4L266 116.5L267 116.6L268 116.7L269 116.8L270 116.9L271 117L272 117.1L273 117.1L274 117.2L275 117.3L276 117.4L277 117.5L278 117.5L279 117.6L280 117.7L281 117.7L282 117.8L283 117.9L284 117.9L285 118L286 118.1L287 118.1L288 118.2L289 118.2L290 118.3L291 118.3L292 118.4L293 118.4L294 118.5L295 118.5L296 118.5L297 118.5L298 118.6L299 118.6L300 118.6" fill="none" stroke="#3c20ea" stroke-width="1.5"/>
<path d="M23 94.5L24 94.5L25 94.5L26 94.4L27 94.4L28 94.3L29 94.2L30 94.1L31 94L32 93.9L33 93.8L34 93.6L35 93.5L36 93.3L37 93.2L38 93L39 92.9L40 92.7L41 92.5L42 92.3L43 92L44 91.7L45 91.4L46 91L47 90.6L48 90.2L49 89.8L50 89.4L51 88.9L52 88.4L53 87.8L54 87.2L55 86.5L56 85.9L57 85.3L58 84.7L59 84.2L60 83.8L61 83.4L62 83L63 82.6L64 82.3L65 81.9L66 81.6L67 81.4L68 81.2L69 81L70 81L71 81.1L72 81.2L73 81.5L74 81.8L75 82.2L76 82.6L77 83L78 83.5L79 84L80 84.4L81 84.9L82 85.5L83 86.1L84 86.8L85 87.5L86 88.2L87 88.8L88 89.3L89 89.7L90 90.1L91 90.5L92 90.9L93 91.2L94 91.4L95 91.5L96 91.4L97 91.3L98 91.1L99 90.8L100 90.5L101 90.1L102 89.7L103 89.1L104 88.5L105 87.9L106 87.2L107 86.6L108 86L109 85.4L110 84.7L111 84L112 83.3L113 82.6L114 82L115 81.5L116 81.2L117 81L118 81.1L119 81.4L120 81.8L121 82.2L122 82.6L123 82.9L124 83L125 82.6L126 81.9L127 81.1L128 80.2L129 79.6L130 79.4L131 79.9L132 81L133 82.5L134 84L135 85.7L136 87.7L137 89.9L138 92.2L139 94.8L140 96.6L141 97.4L142 98.1L143 98.7L144 99.2L145 99.6L146 100L147 100.3L148 100.5L149 100.7L150 100.9L151 101.1L152 101.2L153 101.4L154 101.5L155 101.6L156 101.7L157 101.8L158 101.8L159 101.9L160 101.9L161 101.9L162 101.8L163 101.8L164 101.7L165 101.6L166 101.5L167 101.3L168 101.2L169 101L170 100.9L171 100.7L172 100.6L173 100.4L174 100.2L175 99.9L176 99.7L177 99.4L178 99.1L179 98.8L180 98.5L181 98.2L182 97.8L183 97.5L184 97.1L185 96.6L186 96.2L187 95.6L188 95.1L189 94.5L190 93.8L191 92.9L192 91.8L193 90.6L194 89.4L195 88.3L196 87.1L197 85.9L198 84.8L199 83.5L200 82.1L201 80.9L202 80L203 79.3L204 78.6L205 78L206 77.7L207 77.7L208 77.9L209 78.2L210 78.6L211 79L212 79.5L213 80.1L214 80.9L215 81.8L216 82.9L217 84L218 85.2L219 86.4L220 87.5L221 88.7L222 90L223 91.4L224 92.7L225 93.8L226 94.5L227 95L228 95.5L229 95.8L230 96L231 95.9L232 95.3L233 94.4L234 93.5L235 92.6L236 91.6L237 90.4L238 88.9L239 87.1L240 85L241 82.7L242 80.2L243 77.4L244 74.1L245 71L246 68.5L247 66.4L248 66L249 66.7L250 67.9L251 69.3L252 71.3L253 73.1L254 73.3L255 71.1L256 68L257 63.9L258 58.7L259 53.3L260 46.7L261 43.2L262 46.5L263 53.5L264 63.1L265 73.9L266 82.9L267 87.8L268 91.2L269 95.8L270 99.7L271 101.9L272 103.6L273 104.9L274 106L275 107L276 107.9L277 108.7L278 109.4L279 109.9L280 110.4L281 110.8L282 111.2L283 111.6L284 111.9L285 112.2L286 112.5L287 112.8L288 113.2L289 113.6L290 114L291 114.5L292 114.9L293 115.3L294 115.6L295 115.9L296 116.1L297 116.4L298 116.6L299 116.7L300 116.9" fill="none" stroke="#000" stroke-width="1.6"/>
<path d="M23 166.8L24 166.9L25 166.9L26 167L27 167.1L28 167.1L29 167.2L30 167.3L31 167.4L32 167.4L33 167.5L34 167.6L35 167.6L36 167.7L37 167.8L38 167.8L39 167.9L40 168L41 168L42 168.1L43 168.2L44 168.2L45 168.3L46 168.4L47 168.4L48 168.5L49 168.6L50 168.6L51 168.7L52 168.8L53 168.8L54 168.9L55 169L56 169.1L57 169.1L58 169.2L59 169.3L60 169.3L61 169.4L62 169.5L63 169.5L64 169.6L65 169.7L66 169.7L67 169.8L68 169.9L69 169.9L70 170L71 170.1L72 170.1L73 170.2L74 170.2L75 170.3L76 170.4L77 170.4L78 170.5L79 170.6L80 170.6L81 170.7L82 170.7L83 170.8L84 170.9L85 170.9L86 171L87 171L88 171.1L89 171.2L90 171.2L91 171.3L92 171.3L93 171.4L94 171.4L95 171.5L96 171.5L97 171.6L98 171.7L99 171.7L100 171.8L101 171.8L102 171.9L103 171.9L104 172L105 172L106 172.1L107 172.1L108 172.2L109 172.2L110 172.3L111 172.3L112 172.4L113 172.4L114 172.5L115 172.5L116 172.6L117 172.6L118 172.7L119 172.7L120 172.8L121 172.9L122 172.9L123 173L124 173L125 173.1L126 173.1L127 173.2L128 173.2L129 173.3L130 173.3L131 173.4L132 173.4L133 173.5L134 173.6L135 173.6L136 173.7L137 173.7L138 173.8L139 173.9L140 173.9L141 174L142 174L143 174.1L144 174.2L145 174.2L146 174.3L147 174.3L148 174.4L149 174.5L150 174.5L151 174.6L152 174.7L153 174.7L154 174.8L155 174.9L156 174.9L157 175L158 175L159 175.1L160 175.2L161 175.2L162 175.3L163 175.4L164 175.4L165 175.5L166 175.6L167 175.6L168 175.7L169 175.8L170 175.8L171 175.9L172 176L173 176.1L174 176.1L175 176.2L176 176.3L177 176.3L178 176.4L179 176.5L180 176.5L181 176.6L182 176.7L183 176.7L184 176.8L185 176.9L186 176.9L187 177L188 177.1L189 177.1L190 177.2L191 177.3L192 177.3L193 177.4L194 177.4L195 177.5L196 177.6L197 177.6L198 177.7L199 177.7L200 177.8L201 177.9L202 177.9L203 178L204 178.1L205 178.1L206 178.2L207 178.2L208 178.3L209 178.4L210 178.5L211 178.5L212 178.6L213 178.7L214 178.7L215 178.8L216 178.9L217 179L218 179.1L219 179.2L220 179.3L221 179.3L222 179.4L223 179.5L224 179.6L225 179.7L226 179.8L227 179.9L228 180L229 180.1L230 180.2L231 180.3L232 180.4L233 180.6L234 180.7L235 180.8L236 180.9L237 181L238 181.1L239 181.2L240 181.3L241 181.4L242 181.6L243 181.7L244 181.8L245 181.9L246 182L247 182.1L248 182.3L249 182.4L250 182.5L251 182.7L252 182.8L253 183L254 183.1L255 183.2L256 183.4L257 183.5L258 183.7L259 183.8L260 184L261 184.1L262 184.2L263 184.4L264 184.5L265 184.6L266 184.7L267 184.8L268 184.9L269 185L270 185L271 185.1L272 185.2L273 185.2L274 185.3L275 185.4L276 185.4L277 185.5L278 185.5L279 185.6L280 185.7L281 185.7L282 185.8L283 185.8L284 185.9L285 185.9L286 186L287 186L288 186.1L289 186.1L290 186.1L291 186.2L292 186.2L293 186.2L294 186.2L295 186.3L296 186.3L297 186.3L298 186.3L299 186.3L300 186.3" fill="none" stroke="#12a012" stroke-width="1.5"/>
<path d="M117 170.6L118 170.5L119 170.3L120 169.8L121 169.2L122 168.2L123 166.9L124 165.3L125 163.4L126 161.6L127 160.1L128 159L129 158.6L130 158.9L131 160L132 161.6L133 163.5L134 165.4L135 167.2L136 168.7L137 169.9L138 170.7L139 171.3L140 171.7L141 171.9L141 172.1L140 172L139 172L138 171.9L137 171.8L136 171.8L135 171.7L134 171.7L133 171.6L132 171.5L131 171.5L130 171.4L129 171.4L128 171.3L127 171.3L126 171.2L125 171.2L124 171.1L123 171.1L122 171L121 171L120 170.9L119 170.8L118 170.8L117 170.7Z" fill="url(#gm7)"/>
<path d="M117 170.6L118 170.5L119 170.3L120 169.8L121 169.2L122 168.2L123 166.9L124 165.3L125 163.4L126 161.6L127 160.1L128 159L129 158.6L130 158.9L131 160L132 161.6L133 163.5L134 165.4L135 167.2L136 168.7L137 169.9L138 170.7L139 171.3L140 171.7L141 171.9" fill="none" stroke="#ff00ff" stroke-width="1.2"/>
<path d="M238 179.1L239 179.2L240 179.3L241 179.4L242 179.5L243 179.6L244 179.6L245 179.7L246 179.8L247 179.8L248 179.8L249 179.7L250 179.3L251 178.5L252 177L253 174.4L254 170.4L255 164.8L256 157.8L257 149.8L258 141.8L259 135.2L260 131.4L261 131.1L262 134.5L263 140.5L264 147.6L265 154.7L266 161L267 166.3L268 170.5L269 173.7L270 176L271 177.6L272 178.8L273 179.6L274 180.3L275 180.7L276 181.1L277 181.5L278 181.8L279 182L280 182.2L281 182.4L282 182.6L283 182.8L284 182.9L285 183L286 183.2L287 183.3L288 183.4L289 183.5L290 183.5L291 183.6L292 183.7L293 183.7L294 183.8L295 183.9L296 183.9L297 183.9L298 184L299 184L300 184L300 184.4L299 184.4L298 184.4L297 184.4L296 184.4L295 184.4L294 184.3L293 184.3L292 184.3L291 184.3L290 184.2L289 184.2L288 184.2L287 184.1L286 184.1L285 184L284 184L283 183.9L282 183.9L281 183.8L280 183.8L279 183.7L278 183.6L277 183.6L276 183.5L275 183.5L274 183.4L273 183.3L272 183.3L271 183.2L270 183.1L269 183.1L268 183L267 182.9L266 182.8L265 182.7L264 182.6L263 182.5L262 182.3L261 182.2L260 182.1L259 181.9L258 181.8L257 181.6L256 181.5L255 181.3L254 181.2L253 181.1L252 180.9L251 180.8L250 180.6L249 180.5L248 180.4L247 180.2L246 180.1L245 180L244 179.9L243 179.8L242 179.7L241 179.5L240 179.4L239 179.3L238 179.2Z" fill="url(#gm8)"/>
<path d="M238 179.1L239 179.2L240 179.3L241 179.4L242 179.5L243 179.6L244 179.6L245 179.7L246 179.8L247 179.8L248 179.8L249 179.7L250 179.3L251 178.5L252 177L253 174.4L254 170.4L255 164.8L256 157.8L257 149.8L258 141.8L259 135.2L260 131.4L261 131.1L262 134.5L263 140.5L264 147.6L265 154.7L266 161L267 166.3L268 170.5L269 173.7L270 176L271 177.6L272 178.8L273 179.6L274 180.3L275 180.7L276 181.1L277 181.5L278 181.8L279 182L280 182.2L281 182.4L282 182.6L283 182.8L284 182.9L285 183L286 183.2L287 183.3L288 183.4L289 183.5L290 183.5L291 183.6L292 183.7L293 183.7L294 183.8L295 183.9L296 183.9L297 183.9L298 184L299 184L300 184" fill="none" stroke="#ff00ff" stroke-width="1.2"/>
<path d="M29 165.2L30 165.3L31 165.3L32 165.4L33 165.5L34 165.5L35 165.6L36 165.7L37 165.7L38 165.8L39 165.8L40 165.9L41 166L42 166L43 166.1L44 166.2L45 166.2L46 166.3L47 166.4L48 166.4L49 166.5L50 166.5L51 166.6L52 166.7L53 166.7L54 166.8L55 166.8L56 166.9L57 167L58 167L59 167.1L60 167.1L61 167.2L62 167.2L63 167.3L64 167.4L65 167.4L66 167.5L67 167.5L68 167.6L69 167.6L70 167.7L71 167.7L72 167.8L73 167.8L74 167.8L75 167.9L76 167.9L77 168L78 168L79 168L80 168.1L81 168.1L82 168.1L83 168.1L84 168.1L85 168.1L86 168.1L87 168.1L88 168.1L89 168.1L90 168.1L91 168L92 168L93 167.9L94 167.8L95 167.7L96 167.5L97 167.4L98 167.1L99 166.9L100 166.6L101 166.2L102 165.8L103 165.3L104 164.7L105 164.1L106 163.4L107 162.6L108 161.8L109 160.9L110 160L111 159.1L112 158.3L113 157.5L114 156.9L115 156.5L116 156.4L117 156.4L118 156.7L119 157L120 157.5L121 158.2L122 158.9L123 159.7L124 160.6L125 161.5L126 162.4L127 163.4L128 164.3L129 165.2L130 166L131 166.8L132 167.6L133 168.2L134 168.8L135 169.4L136 169.9L137 170.3L138 170.6L139 171L140 171.2L141 171.5L142 171.7L143 171.8L144 172L145 172.1L146 172.2L146 172.4L145 172.3L144 172.3L143 172.2L142 172.1L141 172.1L140 172L139 172L138 171.9L137 171.8L136 171.8L135 171.7L134 171.7L133 171.6L132 171.5L131 171.5L130 171.4L129 171.4L128 171.3L127 171.3L126 171.2L125 171.2L124 171.1L123 171.1L122 171L121 171L120 170.9L119 170.8L118 170.8L117 170.7L116 170.7L115 170.6L114 170.6L113 170.5L112 170.5L111 170.4L110 170.4L109 170.3L108 170.3L107 170.2L106 170.2L105 170.1L104 170.1L103 170L102 170L101 169.9L100 169.9L99 169.8L98 169.8L97 169.7L96 169.6L95 169.6L94 169.5L93 169.5L92 169.4L91 169.4L90 169.3L89 169.3L88 169.2L87 169.1L86 169.1L85 169L84 169L83 168.9L82 168.8L81 168.8L80 168.7L79 168.7L78 168.6L77 168.5L76 168.5L75 168.4L74 168.3L73 168.3L72 168.2L71 168.2L70 168.1L69 168L68 168L67 167.9L66 167.8L65 167.8L64 167.7L63 167.6L62 167.6L61 167.5L60 167.4L59 167.4L58 167.3L57 167.2L56 167.2L55 167.1L54 167L53 166.9L52 166.9L51 166.8L50 166.7L49 166.7L48 166.6L47 166.5L46 166.5L45 166.4L44 166.3L43 166.3L42 166.2L41 166.1L40 166.1L39 166L38 165.9L37 165.9L36 165.8L35 165.7L34 165.7L33 165.6L32 165.5L31 165.5L30 165.4L29 165.3Z" fill="url(#gg9)"/>
<path d="M29 165.2L30 165.3L31 165.3L32 165.4L33 165.5L34 165.5L35 165.6L36 165.7L37 165.7L38 165.8L39 165.8L40 165.9L41 166L42 166L43 166.1L44 166.2L45 166.2L46 166.3L47 166.4L48 166.4L49 166.5L50 166.5L51 166.6L52 166.7L53 166.7L54 166.8L55 166.8L56 166.9L57 167L58 167L59 167.1L60 167.1L61 167.2L62 167.2L63 167.3L64 167.4L65 167.4L66 167.5L67 167.5L68 167.6L69 167.6L70 167.7L71 167.7L72 167.8L73 167.8L74 167.8L75 167.9L76 167.9L77 168L78 168L79 168L80 168.1L81 168.1L82 168.1L83 168.1L84 168.1L85 168.1L86 168.1L87 168.1L88 168.1L89 168.1L90 168.1L91 168L92 168L93 167.9L94 167.8L95 167.7L96 167.5L97 167.4L98 167.1L99 166.9L100 166.6L101 166.2L102 165.8L103 165.3L104 164.7L105 164.1L106 163.4L107 162.6L108 161.8L109 160.9L110 160L111 159.1L112 158.3L113 157.5L114 156.9L115 156.5L116 156.4L117 156.4L118 156.7L119 157L120 157.5L121 158.2L122 158.9L123 159.7L124 160.6L125 161.5L126 162.4L127 163.4L128 164.3L129 165.2L130 166L131 166.8L132 167.6L133 168.2L134 168.8L135 169.4L136 169.9L137 170.3L138 170.6L139 171L140 171.2L141 171.5L142 171.7L143 171.8L144 172L145 172.1L146 172.2" fill="none" stroke="#12a012" stroke-width="1.2"/>
<path d="M102 169.8L103 169.9L104 169.9L105 170L106 170L107 170.1L108 170.1L109 170.2L110 170.2L111 170.3L112 170.3L113 170.4L114 170.4L115 170.5L116 170.5L117 170.6L118 170.6L119 170.7L120 170.7L121 170.8L122 170.8L123 170.9L124 170.9L125 171L126 171L127 171.1L128 171.1L129 171.2L130 171.3L131 171.3L132 171.4L133 171.4L134 171.5L135 171.5L136 171.6L137 171.6L138 171.7L139 171.7L140 171.8L141 171.8L142 171.9L143 172L144 172L145 172.1L146 172.1L147 172.2L148 172.2L149 172.3L150 172.4L151 172.4L152 172.5L153 172.5L154 172.6L155 172.7L156 172.7L157 172.8L158 172.8L159 172.9L160 172.9L161 173L162 173.1L163 173.1L164 173.2L165 173.2L166 173.3L167 173.4L168 173.4L169 173.5L170 173.5L171 173.6L172 173.6L173 173.7L174 173.7L175 173.8L176 173.9L177 173.9L178 174L179 174L180 174.1L181 174.1L182 174.2L183 174.2L184 174.3L185 174.3L186 174.4L187 174.4L188 174.4L189 174.5L190 174.5L191 174.6L192 174.6L193 174.6L194 174.7L195 174.7L196 174.7L197 174.7L198 174.8L199 174.8L200 174.8L201 174.8L202 174.8L203 174.8L204 174.8L205 174.8L206 174.8L207 174.8L208 174.8L209 174.8L210 174.8L211 174.8L212 174.8L213 174.7L214 174.7L215 174.6L216 174.6L217 174.5L218 174.4L219 174.3L220 174.2L221 174.1L222 174L223 173.8L224 173.6L225 173.4L226 173.1L227 172.8L228 172.4L229 172L230 171.5L231 170.9L232 170.3L233 169.5L234 168.6L235 167.6L236 166.3L237 164.9L238 163.3L239 161.5L240 159.5L241 157.2L242 154.8L243 152.3L244 150L245 148.1L246 146.7L247 146.1L248 146.4L249 147.7L250 149.9L251 152.5L252 155.5L253 158.5L254 161.4L255 164.1L256 166.6L257 168.8L258 170.8L259 172.4L260 173.9L261 175.1L262 176.2L263 177.1L264 177.8L265 178.5L266 179L267 179.5L268 179.9L269 180.2L270 180.5L271 180.8L272 181.1L273 181.3L274 181.5L275 181.7L276 181.8L277 182L278 182.2L279 182.3L280 182.5L281 182.6L282 182.7L283 182.8L284 182.9L285 183L286 183.1L287 183.2L288 183.3L289 183.4L290 183.4L291 183.5L292 183.6L293 183.6L294 183.7L295 183.7L296 183.8L297 183.8L298 183.8L299 183.9L300 183.9L300 184.4L299 184.4L298 184.4L297 184.4L296 184.4L295 184.4L294 184.3L293 184.3L292 184.3L291 184.3L290 184.2L289 184.2L288 184.2L287 184.1L286 184.1L285 184L284 184L283 183.9L282 183.9L281 183.8L280 183.8L279 183.7L278 183.6L277 183.6L276 183.5L275 183.5L274 183.4L273 183.3L272 183.3L271 183.2L270 183.1L269 183.1L268 183L267 182.9L266 182.8L265 182.7L264 182.6L263 182.5L262 182.3L261 182.2L260 182.1L259 181.9L258 181.8L257 181.6L256 181.5L255 181.3L254 181.2L253 181.1L252 180.9L251 180.8L250 180.6L249 180.5L248 180.4L247 180.2L246 180.1L245 180L244 179.9L243 179.8L242 179.7L241 179.5L240 179.4L239 179.3L238 179.2L237 179.1L236 179L235 178.9L234 178.8L233 178.7L232 178.5L231 178.4L230 178.3L229 178.2L228 178.1L227 178L226 177.9L225 177.8L224 177.7L223 177.6L222 177.5L221 177.4L220 177.4L219 177.3L218 177.2L217 177.1L216 177L215 176.9L214 176.8L213 176.8L212 176.7L211 176.6L210 176.6L209 176.5L208 176.4L207 176.3L206 176.3L205 176.2L204 176.2L203 176.1L202 176L201 176L200 175.9L199 175.8L198 175.8L197 175.7L196 175.7L195 175.6L194 175.5L193 175.5L192 175.4L191 175.4L190 175.3L189 175.2L188 175.2L187 175.1L186 175L185 175L184 174.9L183 174.8L182 174.8L181 174.7L180 174.6L179 174.6L178 174.5L177 174.4L176 174.4L175 174.3L174 174.2L173 174.2L172 174.1L171 174L170 173.9L169 173.9L168 173.8L167 173.7L166 173.7L165 173.6L164 173.5L163 173.5L162 173.4L161 173.3L160 173.3L159 173.2L158 173.1L157 173.1L156 173L155 173L154 172.9L153 172.8L152 172.8L151 172.7L150 172.6L149 172.6L148 172.5L147 172.4L146 172.4L145 172.3L144 172.3L143 172.2L142 172.1L141 172.1L140 172L139 172L138 171.9L137 171.8L136 171.8L135 171.7L134 171.7L133 171.6L132 171.5L131 171.5L130 171.4L129 171.4L128 171.3L127 171.3L126 171.2L125 171.2L124 171.1L123 171.1L122 171L121 171L120 170.9L119 170.8L118 170.8L117 170.7L116 170.7L115 170.6L114 170.6L113 170.5L112 170.5L111 170.4L110 170.4L109 170.3L108 170.3L107 170.2L106 170.2L105 170.1L104 170.1L103 170L102 170Z" fill="url(#gg10)"/>
<path d="M102 169.8L103 169.9L104 169.9L105 170L106 170L107 170.1L108 170.1L109 170.2L110 170.2L111 170.3L112 170.3L113 170.4L114 170.4L115 170.5L116 170.5L117 170.6L118 170.6L119 170.7L120 170.7L121 170.8L122 170.8L123 170.9L124 170.9L125 171L126 171L127 171.1L128 171.1L129 171.2L130 171.3L131 171.3L132 171.4L133 171.4L134 171.5L135 171.5L136 171.6L137 171.6L138 171.7L139 171.7L140 171.8L141 171.8L142 171.9L143 172L144 172L145 172.1L146 172.1L147 172.2L148 172.2L149 172.3L150 172.4L151 172.4L152 172.5L153 172.5L154 172.6L155 172.7L156 172.7L157 172.8L158 172.8L159 172.9L160 172.9L161 173L162 173.1L163 173.1L164 173.2L165 173.2L166 173.3L167 173.4L168 173.4L169 173.5L170 173.5L171 173.6L172 173.6L173 173.7L174 173.7L175 173.8L176 173.9L177 173.9L178 174L179 174L180 174.1L181 174.1L182 174.2L183 174.2L184 174.3L185 174.3L186 174.4L187 174.4L188 174.4L189 174.5L190 174.5L191 174.6L192 174.6L193 174.6L194 174.7L195 174.7L196 174.7L197 174.7L198 174.8L199 174.8L200 174.8L201 174.8L202 174.8L203 174.8L204 174.8L205 174.8L206 174.8L207 174.8L208 174.8L209 174.8L210 174.8L211 174.8L212 174.8L213 174.7L214 174.7L215 174.6L216 174.6L217 174.5L218 174.4L219 174.3L220 174.2L221 174.1L222 174L223 173.8L224 173.6L225 173.4L226 173.1L227 172.8L228 172.4L229 172L230 171.5L231 170.9L232 170.3L233 169.5L234 168.6L235 167.6L236 166.3L237 164.9L238 163.3L239 161.5L240 159.5L241 157.2L242 154.8L243 152.3L244 150L245 148.1L246 146.7L247 146.1L248 146.4L249 147.7L250 149.9L251 152.5L252 155.5L253 158.5L254 161.4L255 164.1L256 166.6L257 168.8L258 170.8L259 172.4L260 173.9L261 175.1L262 176.2L263 177.1L264 177.8L265 178.5L266 179L267 179.5L268 179.9L269 180.2L270 180.5L271 180.8L272 181.1L273 181.3L274 181.5L275 181.7L276 181.8L277 182L278 182.2L279 182.3L280 182.5L281 182.6L282 182.7L283 182.8L284 182.9L285 183L286 183.1L287 183.2L288 183.3L289 183.4L290 183.4L291 183.5L292 183.6L293 183.6L294 183.7L295 183.7L296 183.8L297 183.8L298 183.8L299 183.9L300 183.9" fill="none" stroke="#12a012" stroke-width="1.2"/>
<path d="M23 164.3L24 164.3L25 164.3L26 164.3L27 164.3L28 164.3L29 164.3L30 164.3L31 164.2L32 164.2L33 164.1L34 164L35 163.9L36 163.8L37 163.6L38 163.5L39 163.3L40 163.1L41 162.9L42 162.6L43 162.3L44 162L45 161.7L46 161.4L47 161L48 160.6L49 160.2L50 159.8L51 159.4L52 158.9L53 158.5L54 158L55 157.5L56 157L57 156.6L58 156.1L59 155.6L60 155.2L61 154.8L62 154.4L63 154L64 153.7L65 153.4L66 153.2L67 153L68 152.8L69 152.7L70 152.7L71 152.8L72 152.9L73 153.1L74 153.3L75 153.7L76 154.1L77 154.5L78 155.1L79 155.6L80 156.2L81 156.9L82 157.5L83 158.2L84 158.9L85 159.5L86 160.2L87 160.9L88 161.5L89 162.1L90 162.7L91 163.3L92 163.9L93 164.4L94 164.9L95 165.3L96 165.8L97 166.2L98 166.6L99 166.9L100 167.2L101 167.5L102 167.8L103 168.1L104 168.3L105 168.5L106 168.7L107 168.9L108 169.1L109 169.2L110 169.4L111 169.5L112 169.6L113 169.7L114 169.8L115 169.9L116 170L117 170.1L118 170.2L119 170.3L120 170.4L121 170.4L122 170.5L123 170.6L124 170.7L125 170.7L126 170.8L127 170.9L128 170.9L129 171L130 171.1L131 171.1L132 171.2L133 171.3L134 171.3L135 171.4L136 171.5L137 171.5L138 171.6L139 171.7L140 171.7L141 171.8L142 171.9L143 171.9L144 172L145 172.1L146 172.2L147 172.2L148 172.3L149 172.4L150 172.4L151 172.5L152 172.6L153 172.6L154 172.7L155 172.8L156 172.8L157 172.9L158 173L159 173L160 173.1L161 173.2L162 173.3L163 173.3L164 173.4L165 173.5L166 173.5L167 173.6L168 173.7L169 173.7L170 173.8L171 173.9L172 174L173 174L174 174.1L175 174.2L175 174.3L174 174.2L173 174.2L172 174.1L171 174L170 173.9L169 173.9L168 173.8L167 173.7L166 173.7L165 173.6L164 173.5L163 173.5L162 173.4L161 173.3L160 173.3L159 173.2L158 173.1L157 173.1L156 173L155 173L154 172.9L153 172.8L152 172.8L151 172.7L150 172.6L149 172.6L148 172.5L147 172.4L146 172.4L145 172.3L144 172.3L143 172.2L142 172.1L141 172.1L140 172L139 172L138 171.9L137 171.8L136 171.8L135 171.7L134 171.7L133 171.6L132 171.5L131 171.5L130 171.4L129 171.4L128 171.3L127 171.3L126 171.2L125 171.2L124 171.1L123 171.1L122 171L121 171L120 170.9L119 170.8L118 170.8L117 170.7L116 170.7L115 170.6L114 170.6L113 170.5L112 170.5L111 170.4L110 170.4L109 170.3L108 170.3L107 170.2L106 170.2L105 170.1L104 170.1L103 170L102 170L101 169.9L100 169.9L99 169.8L98 169.8L97 169.7L96 169.6L95 169.6L94 169.5L93 169.5L92 169.4L91 169.4L90 169.3L89 169.3L88 169.2L87 169.1L86 169.1L85 169L84 169L83 168.9L82 168.8L81 168.8L80 168.7L79 168.7L78 168.6L77 168.5L76 168.5L75 168.4L74 168.3L73 168.3L72 168.2L71 168.2L70 168.1L69 168L68 168L67 167.9L66 167.8L65 167.8L64 167.7L63 167.6L62 167.6L61 167.5L60 167.4L59 167.4L58 167.3L57 167.2L56 167.2L55 167.1L54 167L53 166.9L52 166.9L51 166.8L50 166.7L49 166.7L48 166.6L47 166.5L46 166.5L45 166.4L44 166.3L43 166.3L42 166.2L41 166.1L40 166.1L39 166L38 165.9L37 165.9L36 165.8L35 165.7L34 165.7L33 165.6L32 165.5L31 165.5L30 165.4L29 165.3L28 165.2L27 165.2L26 165.1L25 165L24 165L23 164.9Z" fill="url(#gp11)"/>
<path d="M23 164.3L24 164.3L25 164.3L26 164.3L27 164.3L28 164.3L29 164.3L30 164.3L31 164.2L32 164.2L33 164.1L34 164L35 163.9L36 163.8L37 163.6L38 163.5L39 163.3L40 163.1L41 162.9L42 162.6L43 162.3L44 162L45 161.7L46 161.4L47 161L48 160.6L49 160.2L50 159.8L51 159.4L52 158.9L53 158.5L54 158L55 157.5L56 157L57 156.6L58 156.1L59 155.6L60 155.2L61 154.8L62 154.4L63 154L64 153.7L65 153.4L66 153.2L67 153L68 152.8L69 152.7L70 152.7L71 152.8L72 152.9L73 153.1L74 153.3L75 153.7L76 154.1L77 154.5L78 155.1L79 155.6L80 156.2L81 156.9L82 157.5L83 158.2L84 158.9L85 159.5L86 160.2L87 160.9L88 161.5L89 162.1L90 162.7L91 163.3L92 163.9L93 164.4L94 164.9L95 165.3L96 165.8L97 166.2L98 166.6L99 166.9L100 167.2L101 167.5L102 167.8L103 168.1L104 168.3L105 168.5L106 168.7L107 168.9L108 169.1L109 169.2L110 169.4L111 169.5L112 169.6L113 169.7L114 169.8L115 169.9L116 170L117 170.1L118 170.2L119 170.3L120 170.4L121 170.4L122 170.5L123 170.6L124 170.7L125 170.7L126 170.8L127 170.9L128 170.9L129 171L130 171.1L131 171.1L132 171.2L133 171.3L134 171.3L135 171.4L136 171.5L137 171.5L138 171.6L139 171.7L140 171.7L141 171.8L142 171.9L143 171.9L144 172L145 172.1L146 172.2L147 172.2L148 172.3L149 172.4L150 172.4L151 172.5L152 172.6L153 172.6L154 172.7L155 172.8L156 172.8L157 172.9L158 173L159 173L160 173.1L161 173.2L162 173.3L163 173.3L164 173.4L165 173.5L166 173.5L167 173.6L168 173.7L169 173.7L170 173.8L171 173.9L172 174L173 174L174 174.1L175 174.2" fill="none" stroke="#3c20ea" stroke-width="1.2"/>
<path d="M23 164.7L24 164.8L25 164.9L26 164.9L27 165L28 165.1L29 165.1L30 165.2L31 165.3L32 165.4L33 165.4L34 165.5L35 165.6L36 165.6L37 165.7L38 165.7L39 165.8L40 165.9L41 165.9L42 166L43 166.1L44 166.1L45 166.2L46 166.3L47 166.3L48 166.4L49 166.5L50 166.5L51 166.6L52 166.7L53 166.7L54 166.8L55 166.9L56 166.9L57 167L58 167L59 167.1L60 167.2L61 167.2L62 167.3L63 167.4L64 167.4L65 167.5L66 167.6L67 167.6L68 167.7L69 167.7L70 167.8L71 167.9L72 167.9L73 168L74 168L75 168.1L76 168.2L77 168.2L78 168.3L79 168.3L80 168.4L81 168.5L82 168.5L83 168.6L84 168.6L85 168.7L86 168.7L87 168.8L88 168.8L89 168.9L90 168.9L91 169L92 169L93 169.1L94 169.1L95 169.2L96 169.2L97 169.3L98 169.3L99 169.4L100 169.4L101 169.4L102 169.5L103 169.5L104 169.6L105 169.6L106 169.7L107 169.7L108 169.7L109 169.8L110 169.8L111 169.9L112 169.9L113 169.9L114 170L115 170L116 170.1L117 170.1L118 170.1L119 170.2L120 170.2L121 170.2L122 170.3L123 170.3L124 170.4L125 170.4L126 170.4L127 170.5L128 170.5L129 170.5L130 170.6L131 170.6L132 170.6L133 170.7L134 170.7L135 170.7L136 170.8L137 170.8L138 170.8L139 170.8L140 170.9L141 170.9L142 170.9L143 170.9L144 171L145 171L146 171L147 171L148 171.1L149 171.1L150 171.1L151 171.1L152 171.1L153 171.1L154 171.1L155 171.1L156 171.1L157 171.1L158 171.1L159 171.1L160 171.1L161 171L162 171L163 170.9L164 170.9L165 170.8L166 170.8L167 170.7L168 170.6L169 170.5L170 170.4L171 170.3L172 170.1L173 169.9L174 169.8L175 169.5L176 169.3L177 169L178 168.8L179 168.4L180 168.1L181 167.7L182 167.3L183 166.8L184 166.3L185 165.8L186 165.2L187 164.5L188 163.9L189 163.1L190 162.4L191 161.6L192 160.7L193 159.9L194 159L195 158L196 157.1L197 156.2L198 155.3L199 154.4L200 153.6L201 152.8L202 152.2L203 151.6L204 151.3L205 151L206 151L207 151.1L208 151.4L209 151.9L210 152.6L211 153.4L212 154.3L213 155.3L214 156.4L215 157.5L216 158.6L217 159.7L218 160.8L219 161.8L220 162.8L221 163.8L222 164.7L223 165.6L224 166.4L225 167.2L226 167.9L227 168.6L228 169.3L229 169.9L230 170.5L231 171L232 171.5L233 172L234 172.5L235 172.9L236 173.3L237 173.7L238 174.1L239 174.5L240 174.8L241 175.1L242 175.4L243 175.7L244 176L245 176.3L246 176.6L247 176.9L248 177.1L249 177.4L250 177.7L251 177.9L252 178.2L253 178.4L254 178.7L255 178.9L256 179.1L257 179.4L258 179.6L259 179.8L260 180L261 180.2L262 180.4L263 180.6L264 180.8L265 180.9L266 181.1L267 181.3L268 181.4L269 181.5L270 181.6L271 181.7L272 181.9L273 182L274 182.1L275 182.2L276 182.3L277 182.4L278 182.4L279 182.5L280 182.6L281 182.7L282 182.8L283 182.9L284 183L285 183L286 183.1L287 183.2L288 183.2L289 183.3L290 183.3L291 183.4L292 183.4L293 183.5L294 183.5L295 183.6L296 183.6L297 183.6L298 183.6L299 183.7L300 183.7L300 184.4L299 184.4L298 184.4L297 184.4L296 184.4L295 184.4L294 184.3L293 184.3L292 184.3L291 184.3L290 184.2L289 184.2L288 184.2L287 184.1L286 184.1L285 184L284 184L283 183.9L282 183.9L281 183.8L280 183.8L279 183.7L278 183.6L277 183.6L276 183.5L275 183.5L274 183.4L273 183.3L272 183.3L271 183.2L270 183.1L269 183.1L268 183L267 182.9L266 182.8L265 182.7L264 182.6L263 182.5L262 182.3L261 182.2L260 182.1L259 181.9L258 181.8L257 181.6L256 181.5L255 181.3L254 181.2L253 181.1L252 180.9L251 180.8L250 180.6L249 180.5L248 180.4L247 180.2L246 180.1L245 180L244 179.9L243 179.8L242 179.7L241 179.5L240 179.4L239 179.3L238 179.2L237 179.1L236 179L235 178.9L234 178.8L233 178.7L232 178.5L231 178.4L230 178.3L229 178.2L228 178.1L227 178L226 177.9L225 177.8L224 177.7L223 177.6L222 177.5L221 177.4L220 177.4L219 177.3L218 177.2L217 177.1L216 177L215 176.9L214 176.8L213 176.8L212 176.7L211 176.6L210 176.6L209 176.5L208 176.4L207 176.3L206 176.3L205 176.2L204 176.2L203 176.1L202 176L201 176L200 175.9L199 175.8L198 175.8L197 175.7L196 175.7L195 175.6L194 175.5L193 175.5L192 175.4L191 175.4L190 175.3L189 175.2L188 175.2L187 175.1L186 175L185 175L184 174.9L183 174.8L182 174.8L181 174.7L180 174.6L179 174.6L178 174.5L177 174.4L176 174.4L175 174.3L174 174.2L173 174.2L172 174.1L171 174L170 173.9L169 173.9L168 173.8L167 173.7L166 173.7L165 173.6L164 173.5L163 173.5L162 173.4L161 173.3L160 173.3L159 173.2L158 173.1L157 173.1L156 173L155 173L154 172.9L153 172.8L152 172.8L151 172.7L150 172.6L149 172.6L148 172.5L147 172.4L146 172.4L145 172.3L144 172.3L143 172.2L142 172.1L141 172.1L140 172L139 172L138 171.9L137 171.8L136 171.8L135 171.7L134 171.7L133 171.6L132 171.5L131 171.5L130 171.4L129 171.4L128 171.3L127 171.3L126 171.2L125 171.2L124 171.1L123 171.1L122 171L121 171L120 170.9L119 170.8L118 170.8L117 170.7L116 170.7L115 170.6L114 170.6L113 170.5L112 170.5L111 170.4L110 170.4L109 170.3L108 170.3L107 170.2L106 170.2L105 170.1L104 170.1L103 170L102 170L101 169.9L100 169.9L99 169.8L98 169.8L97 169.7L96 169.6L95 169.6L94 169.5L93 169.5L92 169.4L91 169.4L90 169.3L89 169.3L88 169.2L87 169.1L86 169.1L85 169L84 169L83 168.9L82 168.8L81 168.8L80 168.7L79 168.7L78 168.6L77 168.5L76 168.5L75 168.4L74 168.3L73 168.3L72 168.2L71 168.2L70 168.1L69 168L68 168L67 167.9L66 167.8L65 167.8L64 167.7L63 167.6L62 167.6L61 167.5L60 167.4L59 167.4L58 167.3L57 167.2L56 167.2L55 167.1L54 167L53 166.9L52 166.9L51 166.8L50 166.7L49 166.7L48 166.6L47 166.5L46 166.5L45 166.4L44 166.3L43 166.3L42 166.2L41 166.1L40 166.1L39 166L38 165.9L37 165.9L36 165.8L35 165.7L34 165.7L33 165.6L32 165.5L31 165.5L30 165.4L29 165.3L28 165.2L27 165.2L26 165.1L25 165L24 165L23 164.9Z" fill="url(#gp12)"/>
<path d="M23 164.7L24 164.8L25 164.9L26 164.9L27 165L28 165.1L29 165.1L30 165.2L31 165.3L32 165.4L33 165.4L34 165.5L35 165.6L36 165.6L37 165.7L38 165.7L39 165.8L40 165.9L41 165.9L42 166L43 166.1L44 166.1L45 166.2L46 166.3L47 166.3L48 166.4L49 166.5L50 166.5L51 166.6L52 166.7L53 166.7L54 166.8L55 166.9L56 166.9L57 167L58 167L59 167.1L60 167.2L61 167.2L62 167.3L63 167.4L64 167.4L65 167.5L66 167.6L67 167.6L68 167.7L69 167.7L70 167.8L71 167.9L72 167.9L73 168L74 168L75 168.1L76 168.2L77 168.2L78 168.3L79 168.3L80 168.4L81 168.5L82 168.5L83 168.6L84 168.6L85 168.7L86 168.7L87 168.8L88 168.8L89 168.9L90 168.9L91 169L92 169L93 169.1L94 169.1L95 169.2L96 169.2L97 169.3L98 169.3L99 169.4L100 169.4L101 169.4L102 169.5L103 169.5L104 169.6L105 169.6L106 169.7L107 169.7L108 169.7L109 169.8L110 169.8L111 169.9L112 169.9L113 169.9L114 170L115 170L116 170.1L117 170.1L118 170.1L119 170.2L120 170.2L121 170.2L122 170.3L123 170.3L124 170.4L125 170.4L126 170.4L127 170.5L128 170.5L129 170.5L130 170.6L131 170.6L132 170.6L133 170.7L134 170.7L135 170.7L136 170.8L137 170.8L138 170.8L139 170.8L140 170.9L141 170.9L142 170.9L143 170.9L144 171L145 171L146 171L147 171L148 171.1L149 171.1L150 171.1L151 171.1L152 171.1L153 171.1L154 171.1L155 171.1L156 171.1L157 171.1L158 171.1L159 171.1L160 171.1L161 171L162 171L163 170.9L164 170.9L165 170.8L166 170.8L167 170.7L168 170.6L169 170.5L170 170.4L171 170.3L172 170.1L173 169.9L174 169.8L175 169.5L176 169.3L177 169L178 168.8L179 168.4L180 168.1L181 167.7L182 167.3L183 166.8L184 166.3L185 165.8L186 165.2L187 164.5L188 163.9L189 163.1L190 162.4L191 161.6L192 160.7L193 159.9L194 159L195 158L196 157.1L197 156.2L198 155.3L199 154.4L200 153.6L201 152.8L202 152.2L203 151.6L204 151.3L205 151L206 151L207 151.1L208 151.4L209 151.9L210 152.6L211 153.4L212 154.3L213 155.3L214 156.4L215 157.5L216 158.6L217 159.7L218 160.8L219 161.8L220 162.8L221 163.8L222 164.7L223 165.6L224 166.4L225 167.2L226 167.9L227 168.6L228 169.3L229 169.9L230 170.5L231 171L232 171.5L233 172L234 172.5L235 172.9L236 173.3L237 173.7L238 174.1L239 174.5L240 174.8L241 175.1L242 175.4L243 175.7L244 176L245 176.3L246 176.6L247 176.9L248 177.1L249 177.4L250 177.7L251 177.9L252 178.2L253 178.4L254 178.7L255 178.9L256 179.1L257 179.4L258 179.6L259 179.8L260 180L261 180.2L262 180.4L263 180.6L264 180.8L265 180.9L266 181.1L267 181.3L268 181.4L269 181.5L270 181.6L271 181.7L272 181.9L273 182L274 182.1L275 182.2L276 182.3L277 182.4L278 182.4L279 182.5L280 182.6L281 182.7L282 182.8L283 182.9L284 183L285 183L286 183.1L287 183.2L288 183.2L289 183.3L290 183.3L291 183.4L292 183.4L293 183.5L294 183.5L295 183.6L296 183.6L297 183.6L298 183.6L299 183.7L300 183.7" fill="none" stroke="#3c20ea" stroke-width="1.2"/>
<path d="M23 164.9L24 165L25 165L26 165.1L27 165.2L28 165.2L29 165.3L30 165.4L31 165.5L32 165.5L33 165.6L34 165.7L35 165.7L36 165.8L37 165.9L38 165.9L39 166L40 166.1L41 166.1L42 166.2L43 166.3L44 166.3L45 166.4L46 166.5L47 166.5L48 166.6L49 166.7L50 166.7L51 166.8L52 166.9L53 166.9L54 167L55 167.1L56 167.2L57 167.2L58 167.3L59 167.4L60 167.4L61 167.5L62 167.6L63 167.6L64 167.7L65 167.8L66 167.8L67 167.9L68 168L69 168L70 168.1L71 168.2L72 168.2L73 168.3L74 168.3L75 168.4L76 168.5L77 168.5L78 168.6L79 168.7L80 168.7L81 168.8L82 168.8L83 168.9L84 169L85 169L86 169.1L87 169.1L88 169.2L89 169.3L90 169.3L91 169.4L92 169.4L93 169.5L94 169.5L95 169.6L96 169.6L97 169.7L98 169.8L99 169.8L100 169.9L101 169.9L102 170L103 170L104 170.1L105 170.1L106 170.2L107 170.2L108 170.3L109 170.3L110 170.4L111 170.4L112 170.5L113 170.5L114 170.6L115 170.6L116 170.7L117 170.7L118 170.8L119 170.8L120 170.9L121 171L122 171L123 171.1L124 171.1L125 171.2L126 171.2L127 171.3L128 171.3L129 171.4L130 171.4L131 171.5L132 171.5L133 171.6L134 171.7L135 171.7L136 171.8L137 171.8L138 171.9L139 172L140 172L141 172.1L142 172.1L143 172.2L144 172.3L145 172.3L146 172.4L147 172.4L148 172.5L149 172.6L150 172.6L151 172.7L152 172.8L153 172.8L154 172.9L155 173L156 173L157 173.1L158 173.1L159 173.2L160 173.3L161 173.3L162 173.4L163 173.5L164 173.5L165 173.6L166 173.7L167 173.7L168 173.8L169 173.9L170 173.9L171 174L172 174.1L173 174.2L174 174.2L175 174.3L176 174.4L177 174.4L178 174.5L179 174.6L180 174.6L181 174.7L182 174.8L183 174.8L184 174.9L185 175L186 175L187 175.1L188 175.2L189 175.2L190 175.3L191 175.4L192 175.4L193 175.5L194 175.5L195 175.6L196 175.7L197 175.7L198 175.8L199 175.8L200 175.9L201 176L202 176L203 176.1L204 176.2L205 176.2L206 176.3L207 176.3L208 176.4L209 176.5L210 176.6L211 176.6L212 176.7L213 176.8L214 176.8L215 176.9L216 177L217 177.1L218 177.2L219 177.3L220 177.4L221 177.4L222 177.5L223 177.6L224 177.7L225 177.8L226 177.9L227 178L228 178.1L229 178.2L230 178.3L231 178.4L232 178.5L233 178.7L234 178.8L235 178.9L236 179L237 179.1L238 179.2L239 179.3L240 179.4L241 179.5L242 179.7L243 179.8L244 179.9L245 180L246 180.1L247 180.2L248 180.4L249 180.5L250 180.6L251 180.8L252 180.9L253 181.1L254 181.2L255 181.3L256 181.5L257 181.6L258 181.8L259 181.9L260 182.1L261 182.2L262 182.3L263 182.5L264 182.6L265 182.7L266 182.8L267 182.9L268 183L269 183.1L270 183.1L271 183.2L272 183.3L273 183.3L274 183.4L275 183.5L276 183.5L277 183.6L278 183.6L279 183.7L280 183.8L281 183.8L282 183.9L283 183.9L284 184L285 184L286 184.1L287 184.1L288 184.2L289 184.2L290 184.2L291 184.3L292 184.3L293 184.3L294 184.3L295 184.4L296 184.4L297 184.4L298 184.4L299 184.4L300 184.4" fill="none" stroke="#3c20ea" stroke-width="1.5"/>
<path d="M23 164.1L24 164.1L25 164.1L26 164L27 164L28 163.9L29 163.8L30 163.8L31 163.7L32 163.6L33 163.5L34 163.3L35 163.2L36 163.1L37 162.9L38 162.8L39 162.6L40 162.5L41 162.3L42 162.1L43 161.9L44 161.6L45 161.3L46 160.9L47 160.6L48 160.2L49 159.9L50 159.5L51 159.1L52 158.7L53 158.2L54 157.7L55 157.2L56 156.7L57 156.2L58 155.7L59 155.3L60 155L61 154.7L62 154.4L63 154.1L64 153.7L65 153.5L66 153.2L67 153L68 152.8L69 152.6L70 152.5L71 152.5L72 152.6L73 152.7L74 152.9L75 153.2L76 153.5L77 153.9L78 154.3L79 154.6L80 155L81 155.4L82 155.8L83 156.3L84 156.9L85 157.4L86 157.9L87 158.4L88 158.9L89 159.2L90 159.5L91 159.7L92 159.9L93 160.1L94 160.3L95 160.3L96 160.3L97 160.1L98 159.9L99 159.7L100 159.5L101 159.2L102 158.8L103 158.3L104 157.7L105 157.1L106 156.5L107 156L108 155.5L109 155L110 154.5L111 154L112 153.5L113 153L114 152.6L115 152.3L116 152.2L117 152.2L118 152.4L119 152.7L120 153L121 153.3L122 153.5L123 153.5L124 153.1L125 152.5L126 151.7L127 151L128 150.5L129 150.3L130 150.9L131 152.1L132 153.5L133 155L134 156.6L135 158.4L136 160.3L137 162L138 163.5L139 165.1L140 166.4L141 167.4L142 168L143 168.5L144 169L145 169.4L146 169.7L147 170L148 170.2L149 170.4L150 170.5L151 170.6L152 170.6L153 170.6L154 170.7L155 170.7L156 170.7L157 170.8L158 170.8L159 170.8L160 170.8L161 170.8L162 170.7L163 170.6L164 170.5L165 170.4L166 170.2L167 170L168 169.9L169 169.7L170 169.5L171 169.3L172 169.1L173 168.9L174 168.7L175 168.4L176 168.1L177 167.9L178 167.6L179 167.3L180 167L181 166.7L182 166.4L183 166.1L184 165.7L185 165.4L186 164.9L187 164.3L188 163.7L189 162.9L190 162.1L191 161.3L192 160.5L193 159.7L194 158.8L195 157.8L196 156.8L197 155.9L198 154.9L199 154.1L200 153.5L201 152.9L202 152.4L203 151.8L204 151.4L205 151.1L206 151L207 151.1L208 151.2L209 151.5L210 151.8L211 152.1L212 152.5L213 152.9L214 153.5L215 154.3L216 155.1L217 155.9L218 156.8L219 157.7L220 158.5L221 159.4L222 160.3L223 161.3L224 162.3L225 163.1L226 163.8L227 164.4L228 164.9L229 165.3L230 165.4L231 165L232 164.3L233 163.5L234 162.6L235 161.6L236 160.3L237 159L238 157.5L239 155.8L240 154L241 152L242 150L243 147.6L244 145.1L245 143L246 141.4L247 140.3L248 140.4L249 141.1L250 142L251 143L252 144.5L253 145.9L254 146.6L255 145.6L256 143L257 138L258 132L259 126.4L260 121.6L261 121L262 124.4L263 129.8L264 137.9L265 148L266 156.5L267 163L268 166.8L269 169.6L270 171.5L271 172.8L272 173.8L273 174.6L274 175.3L275 176L276 176.7L277 177.3L278 177.8L279 178.3L280 178.7L281 179.1L282 179.4L283 179.7L284 180L285 180.2L286 180.5L287 180.7L288 180.9L289 181.1L290 181.3L291 181.5L292 181.7L293 181.9L294 182L295 182.2L296 182.4L297 182.5L298 182.6L299 182.8L300 182.9" fill="none" stroke="#000" stroke-width="1.6"/>
<line x1="247.5" y1="51.5" x2="247.5" y2="164" stroke="#444" stroke-width="1" stroke-dasharray="2.2,1.7"/>
<path d="M342.8 109.4L343.3 109.4L343.8 109.4L344.3 109.4L344.8 109.4L345.3 109.4L345.8 109.4L346.3 109.4L346.8 109.4L347.3 109.4L347.8 109.4L348.3 109.4L348.8 109.5L349.3 109.5L349.8 109.5L350.3 109.5L350.8 109.5L351.3 109.5L351.8 109.5L352.3 109.5L352.8 109.5L353.3 109.5L353.8 109.5L354.3 109.5L354.8 109.5L355.3 109.5L355.8 109.5L356.3 109.5L356.8 109.5L357.3 109.5L357.8 109.5L358.3 109.5L358.8 109.5L359.3 109.5L359.8 109.5L360.3 109.6L360.8 109.6L361.3 109.6L361.8 109.6L362.3 109.6L362.8 109.6L363.3 109.6L363.8 109.6L364.3 109.6L364.8 109.6L365.3 109.6L365.8 109.6L366.3 109.6L366.8 109.6L367.3 109.6L367.8 109.6L368.3 109.6L368.8 109.6L369.3 109.6L369.8 109.6L370.3 109.6L370.8 109.6L371.3 109.6L371.8 109.7L372.3 109.7L372.8 109.7L373.3 109.7L373.8 109.7L374.3 109.7L374.8 109.7L375.3 109.7L375.8 109.7L376.3 109.7L376.8 109.7L377.3 109.7L377.8 109.7L378.3 109.7L378.8 109.7L379.3 109.7L379.8 109.7L380.3 109.7L380.8 109.7L381.3 109.7L381.8 109.7L382.3 109.7L382.8 109.7L383.3 109.8L383.8 109.8L384.3 109.8L384.8 109.8L385.3 109.8L385.8 109.8L386.3 109.8L386.8 109.8L387.3 109.8L387.8 109.8L388.3 109.8L388.8 109.8L389.3 109.8L389.8 109.8L390.3 109.8L390.8 109.8L391.3 109.8L391.8 109.8L392.3 109.8L392.8 109.8L393.3 109.8L393.8 109.8L394.3 109.8L394.8 109.9L395.3 109.9L395.8 109.9L396.3 109.9L396.8 109.9L397.3 109.9L397.8 109.9L398.3 109.9L398.8 109.9L399.3 109.9L399.8 109.9L400.3 109.9L400.8 109.9L401.3 109.9L401.8 109.9L402.3 109.9L402.8 109.9L403.3 109.9L403.8 109.9L404.3 109.9L404.8 109.9L405.3 109.9L405.8 109.9L406.3 110L406.8 110L407.3 110L407.8 110L408.3 110L408.8 110L409.3 110L409.8 110L410.3 110L410.8 110L411.3 110L411.8 110L412.3 110L412.8 110L413.3 110L413.8 110L414.3 110L414.8 110L415.3 110L415.8 110L416.3 110L416.8 110L417.3 110L417.8 110.1L418.3 110.1L418.8 110.1L419.3 110.1L419.8 110.1L420.3 110.1L420.8 110.1L421.3 110.1L421.8 110.1L422.3 110.1L422.8 110.1L423.3 110.1L423.8 110.1L424.3 110.1L424.8 110.1L425.3 110.1L425.8 110.1L426.3 110.1L426.8 110.1L427.3 110.1L427.8 110.1L428.3 110.1L428.8 110.1L429.3 110.2L429.8 110.2L430.3 110.2L430.8 110.2L431.3 110.2L431.8 110.2L432.3 110.2L432.8 110.2L433.3 110.2L433.8 110.2L434.3 110.2L434.8 110.2L435.3 110.2L435.8 110.2L436.3 110.2L436.8 110.2L437.3 110.2L437.8 110.2L438.3 110.2L438.8 110.2L439.3 110.2L439.8 110.2L440.3 110.2L440.8 110.3L441.3 110.3L441.8 110.3L442.3 110.3L442.8 110.3L443.3 110.3L443.8 110.3L444.3 110.3L444.8 110.3L445.3 110.3L445.8 110.3L446.3 110.3L446.8 110.3L447.3 110.3L447.8 110.3L448.3 110.3L448.8 110.3L449.3 110.3L449.8 110.3L450.3 110.3L450.8 110.3L451.3 110.3L451.8 110.3L452.3 110.4L452.8 110.4L453.3 110.4L453.8 110.4L454.3 110.4L454.8 110.4L455.3 110.4L455.8 110.4L456.3 110.4L456.8 110.4L457.3 110.4L457.8 110.4L458.3 110.4L458.8 110.4L459.3 110.4L459.8 110.4L460.3 110.4L460.8 110.4L461.3 110.4L461.8 110.4L462.3 110.4L462.8 110.4L463.3 110.4L463.8 110.5L464.3 110.5L464.8 110.5L465.3 110.5L465.8 110.5L466.3 110.5L466.8 110.5L467.3 110.5L467.8 110.5L468.3 110.5L468.8 110.5L469.3 110.5L469.8 110.5L470.3 110.5L470.8 110.5L471.3 110.5L471.8 110.5L472.3 110.5L472.8 110.5L473.3 110.5L473.8 110.5L474.3 110.5L474.8 110.5L475.3 110.6L475.8 110.6L476.3 110.6L476.8 110.6L477.3 110.6L477.8 110.6L478.3 110.6L478.8 110.6L479.3 110.6L479.8 110.6L480.3 110.6L480.8 110.6L481.3 110.6L481.8 110.6L482.3 110.6L482.8 110.6L483.3 110.6L483.8 110.6L484.3 110.6L484.8 110.6L485.3 110.6L485.8 110.6L486.3 110.6L486.8 110.7L487.3 110.7L487.8 110.7L488.3 110.7L488.8 110.7L489.3 110.7L489.8 110.7L490.3 110.7L490.8 110.7L491.3 110.7L491.8 110.7L492.3 110.7L492.8 110.7L493.3 110.7L493.8 110.7L494.3 110.7L494.8 110.7L495.3 110.7L495.8 110.7L496.3 110.7L496.8 110.7L497.3 110.7L497.8 110.7L498.3 110.8L498.8 110.8L499.3 110.8L499.8 110.8L500.3 110.8L500.8 110.8L501.3 110.8L501.8 110.8L502.3 110.8L502.8 110.8L503.3 110.8L503.8 110.8L504.3 110.8L504.8 110.8L505.3 110.8L505.8 110.8L506.3 110.8L506.8 110.8L507.3 110.8L507.8 110.8L508.3 110.8L508.8 110.8L509.3 110.8L509.8 110.9L510.3 110.9L510.8 110.9L511.3 110.9L511.8 110.9L512.3 110.9L512.8 110.9L513.3 110.9L513.8 110.9L514.3 110.9L514.8 110.9L515.3 110.9L515.8 110.9L516.3 110.9L516.8 110.9L517.3 110.9L517.8 110.9L518.3 110.9L518.8 110.9L519.3 110.9L519.8 110.9L520.3 110.9L520.8 110.9L521.3 111L521.8 111L522.3 111L522.8 111L523.3 111L523.8 111L524.3 111L524.8 111L525.3 111L525.8 111L526.3 111L526.8 111L527.3 111L527.8 111L528.3 111L528.8 111L529.3 111L529.8 111L530.3 111L530.8 111L531.3 111L531.8 111L532.3 111L532.8 111.1L533.3 111.1L533.8 111.1L534.3 111.1L534.8 111.1L535.3 111.1L535.8 111.1L536.3 111.1L536.8 111.1L537.3 111.1L537.8 111.1L538.3 111.1L538.8 111.1L539.3 111.1L539.8 111.1L540.3 111.1L540.8 111.1L541.3 111.1L541.8 111.1L542.3 111.1L542.8 111.1L543.3 111.1L543.8 111.1L544.3 111.2L544.8 111.2L545.3 111.2L545.8 111.2L546.3 111.2L546.8 111.2L547.3 111.2L547.8 111.2L548.3 111.2L548.8 111.2L549.3 111.2L549.8 111.2L550.3 111.2L550.8 111.2L551.3 111.2L551.8 111.2L552.3 111.2L552.8 111.2L553.3 111.2L553.8 111.2L554.3 111.2L554.8 111.2L555.3 111.2L555.8 111.3L556.3 111.3L556.8 111.3L557.3 111.3L557.8 111.3L558.3 111.3L558.8 111.3L559.3 111.3L559.8 111.3L560.3 111.3L560.8 111.3L561.3 111.3L561.8 111.3L562.3 111.3L562.8 111.3L563.3 111.3L563.8 111.3L564.3 111.3L564.8 111.3L565.3 111.3L565.8 111.3L566.3 111.3L566.8 111.3L567.3 111.4L567.8 111.4L568.3 111.4L568.8 111.4L569.3 111.4L569.8 111.4L570.3 111.4L570.8 111.4L571.3 111.4L571.8 111.4L572.3 111.4L572.8 111.4L573.3 111.4L573.8 111.4L574.3 111.4L574.8 111.4L575.3 111.4L575.8 111.4L576.3 111.4L576.8 111.4L577.3 111.4L577.8 111.4L578.3 111.4L578.8 111.5L579.3 111.5L579.8 111.5L580.3 111.5L580.8 111.5L581.3 111.5L581.8 111.5L582.3 111.5L582.8 111.5L583.3 111.5L583.8 111.5L584.3 111.5L584.8 111.5L585.3 111.5L585.8 111.5L586.3 111.5L586.8 111.5L587.3 111.5L587.8 111.5L588.3 111.5L588.8 111.5L589.3 111.5L589.8 111.5L590.3 111.6L590.8 111.6L591.3 111.6L591.8 111.6L592.3 111.6L592.8 111.6L593.3 111.6L593.8 111.6L594.3 111.6L594.8 111.6L595.3 111.6L595.8 111.6L596.3 111.6L596.8 111.6L597.3 111.6L597.8 111.6L598.3 111.6L598.8 111.6L599.3 111.6L599.8 111.6L600.3 111.6L600.8 111.6L601.3 111.6L601.8 111.7L602.3 111.7L602.8 111.7L603.3 111.7L603.8 111.7L604.3 111.7L604.8 111.7L605.3 111.7L605.8 111.7L606.3 111.7L606.8 111.7L607.3 111.7L607.8 111.7L608.3 111.7L608.8 111.7L609.3 111.7L609.8 111.7L610.3 111.7L610.8 111.7L611.3 111.7L611.8 111.7L612.3 111.7L612.8 111.7L613.3 111.8L613.8 111.8L614.3 111.8L614.8 111.8L615.3 111.8L615.8 111.8L616.3 111.8L616.8 111.8L617.3 111.8L617.8 111.8L618.3 111.8L618.8 111.8L619.3 111.8" fill="none" stroke="#6a5af0" stroke-width="0.8"/>
<path d="M342.8 107.2L343.3 107.1L343.8 107L344.3 107.1L344.8 107L345.3 106.9L345.8 106.8L346.3 107L346.8 107.2L347.3 106.7L347.8 106.9L348.3 107.3L348.8 107.1L349.3 106.9L349.8 106.7L350.3 106.7L350.8 106.6L351.3 106.1L351.8 105.7L352.3 105.4L352.8 105.1L353.3 105L353.8 105.3L354.3 105.9L354.8 106.3L355.3 106.3L355.8 106.5L356.3 106.9L356.8 107.2L357.3 107.3L357.8 107.3L358.3 107.3L358.8 107.1L359.3 107.1L359.8 107.2L360.3 107.2L360.8 106.9L361.3 107L361.8 107L362.3 106.9L362.8 107.2L363.3 107.3L363.8 107.2L364.3 107.1L364.8 107.2L365.3 107.2L365.8 106.9L366.3 106.9L366.8 107L367.3 107.1L367.8 107.3L368.3 107.2L368.8 107.3L369.3 107.2L369.8 107.3L370.3 107.1L370.8 106.9L371.3 106.9L371.8 107.1L372.3 107.2L372.8 107L373.3 107L373.8 107.1L374.3 107L374.8 106.8L375.3 107L375.8 107.3L376.3 107.3L376.8 106.9L377.3 107L377.8 107.2L378.3 107.2L378.8 107.2L379.3 107.2L379.8 107.1L380.3 107.3L380.8 107.1L381.3 107.2L381.8 107L382.3 107.1L382.8 107L383.3 106.8L383.8 106.7L384.3 106.8L384.8 107.1L385.3 107L385.8 106.9L386.3 107L386.8 107.1L387.3 106.9L387.8 106.9L388.3 107L388.8 107.2L389.3 107.1L389.8 106.7L390.3 106.7L390.8 107.1L391.3 106.8L391.8 106.8L392.3 107L392.8 107.1L393.3 107.1L393.8 107L394.3 107L394.8 107L395.3 107L395.8 107L396.3 106.8L396.8 106.5L397.3 106.1L397.8 106.1L398.3 106.6L398.8 106.7L399.3 106.5L399.8 106.6L400.3 106.6L400.8 106.5L401.3 106.6L401.8 106.5L402.3 106.2L402.8 106L403.3 106L403.8 106.2L404.3 105.7L404.8 105.5L405.3 105.6L405.8 105.6L406.3 105.5L406.8 105.3L407.3 105.4L407.8 105.7L408.3 106L408.8 105.9L409.3 106.1L409.8 105.9L410.3 106L410.8 106.2L411.3 106.2L411.8 106.2L412.3 106.1L412.8 106.2L413.3 106L413.8 105.7L414.3 106L414.8 105.9L415.3 105.6L415.8 105.7L416.3 106L416.8 105.8L417.3 105.8L417.8 105.8L418.3 105.8L418.8 105.6L419.3 105.4L419.8 105.4L420.3 105.4L420.8 105.3L421.3 105.2L421.8 105.1L422.3 105.2L422.8 105.2L423.3 105.2L423.8 105L424.3 104.7L424.8 104.5L425.3 104.6L425.8 104.6L426.3 104.4L426.8 104.3L427.3 104L427.8 103.5L428.3 103.2L428.8 103L429.3 102.7L429.8 102.5L430.3 102.5L430.8 102.3L431.3 102L431.8 101.6L432.3 101.1L432.8 100.8L433.3 100.8L433.8 101.1L434.3 101.2L434.8 101.1L435.3 100.9L435.8 100.8L436.3 100.6L436.8 100.2L437.3 99.9L437.8 99.7L438.3 99.5L438.8 99L439.3 98.3L439.8 97.8L440.3 97.5L440.8 97.3L441.3 96.5L441.8 95.9L442.3 95.1L442.8 94.4L443.3 93.9L443.8 93.3L444.3 92.4L444.8 91.4L445.3 90.6L445.8 89.6L446.3 88.8L446.8 87.6L447.3 86.4L447.8 85.4L448.3 84.1L448.8 82.8L449.3 81.5L449.8 80.2L450.3 78.8L450.8 77.4L451.3 76L451.8 74.6L452.3 73.3L452.8 72.1L453.3 71L453.8 70.1L454.3 69.3L454.8 68.7L455.3 68.2L455.8 67.9L456.3 67.9L456.8 68L457.3 68.3L457.8 68.8L458.3 69.3L458.8 70.1L459.3 70.9L459.8 71.8L460.3 72.8L460.8 73.9L461.3 75L461.8 76.2L462.3 77.4L462.8 78.6L463.3 79.8L463.8 81.1L464.3 82.3L464.8 83.5L465.3 84.7L465.8 85.8L466.3 86.9L466.8 88L467.3 89.1L467.8 90.1L468.3 91L468.8 91.9L469.3 92.8L469.8 93.6L470.3 94.4L470.8 95.2L471.3 95.9L471.8 96.5L472.3 97.1L472.8 97.7L473.3 98.2L473.8 98.7L474.3 99.2L474.8 99.6L475.3 100L475.8 100.3L476.3 100.6L476.8 100.9L477.3 101.2L477.8 101.4L478.3 101.6L478.8 101.8L479.3 101.9L479.8 102.1L480.3 102.2L480.8 102.3L481.3 102.3L481.8 102.4L482.3 102.4L482.8 102.4L483.3 102.4L483.8 102.4L484.3 102.3L484.8 102.2L485.3 102.2L485.8 102.1L486.3 101.9L486.8 101.8L487.3 101.6L487.8 101.4L488.3 101.2L488.8 101L489.3 100.8L489.8 100.5L490.3 100.2L490.8 99.9L491.3 99.5L491.8 99.2L492.3 98.7L492.8 98.3L493.3 97.8L493.8 97.2L494.3 96.6L494.8 95.9L495.3 95.2L495.8 94.4L496.3 93.6L496.8 92.6L497.3 91.6L497.8 90.5L498.3 89.4L498.8 88.1L499.3 86.7L499.8 85.3L500.3 83.7L500.8 82.1L501.3 80.3L501.8 78.5L502.3 76.6L502.8 74.6L503.3 72.6L503.8 70.5L504.3 68.3L504.8 66.2L505.3 64L505.8 61.9L506.3 59.9L506.8 57.9L507.3 56.1L507.8 54.5L508.3 53L508.8 51.8L509.3 50.9L509.8 50.2L510.3 49.8L510.8 49.6L511.3 49.8L511.8 50.2L512.3 50.7L512.8 51.5L513.3 52.3L513.8 53.3L514.3 54.4L514.8 55.5L515.3 56.6L515.8 57.9L516.3 59.2L516.8 60.7L517.3 62.3L517.8 64.1L518.3 66.1L518.8 68.2L519.3 70.5L519.8 72.8L520.3 75.2L520.8 77.6L521.3 79.9L521.8 82.1L522.3 84.2L522.8 86.2L523.3 88.1L523.8 89.8L524.3 91.3L524.8 92.7L525.3 93.9L525.8 95L526.3 96L526.8 96.9L527.3 97.7L527.8 98.4L528.3 99L528.8 99.6L529.3 100.1L529.8 100.6L530.3 101L530.8 101.4L531.3 101.8L531.8 102.1L532.3 102.4L532.8 102.7L533.3 103L533.8 103.3L534.3 103.5L534.8 103.8L535.3 104L535.8 104.2L536.3 104.4L536.8 104.6L537.3 104.7L537.8 104.9L538.3 105.1L538.8 105.2L539.3 105.4L539.8 105.5L540.3 105.7L540.8 105.8L541.3 105.9L541.8 106L542.3 106.2L542.8 106.3L543.3 106.4L543.8 106.5L544.3 106.6L544.8 106.7L545.3 106.7L545.8 106.8L546.3 106.9L546.8 107L547.3 107.1L547.8 107.2L548.3 107.2L548.8 107.3L549.3 107.4L549.8 107.4L550.3 107.5L550.8 107.6L551.3 107.6L551.8 107.7L552.3 107.7L552.8 107.8L553.3 107.8L553.8 107.9L554.3 107.9L554.8 108L555.3 108L555.8 108.1L556.3 108.1L556.8 108.2L557.3 108.2L557.8 108.3L558.3 108.3L558.8 108.3L559.3 108.4L559.8 108.4L560.3 108.4L560.8 108.5L561.3 108.5L561.8 108.5L562.3 108.6L562.8 108.6L563.3 108.6L563.8 108.7L564.3 108.7L564.8 108.7L565.3 108.8L565.8 108.8L566.3 108.8L566.8 108.8L567.3 108.9L567.8 108.9L568.3 108.9L568.8 109L569.3 109L569.8 109L570.3 109L570.8 109L571.3 109.1L571.8 109.1L572.3 109.1L572.8 109.1L573.3 109.2L573.8 109.2L574.3 109.2L574.8 109.2L575.3 109.2L575.8 109.3L576.3 109.3L576.8 109.3L577.3 109.3L577.8 109.3L578.3 109.3L578.8 109.4L579.3 109.4L579.8 109.4L580.3 109.4L580.8 109.4L581.3 109.4L581.8 109.5L582.3 109.5L582.8 109.5L583.3 109.5L583.8 109.5L584.3 109.5L584.8 109.6L585.3 109.6L585.8 109.6L586.3 109.6L586.8 109.6L587.3 109.6L587.8 109.6L588.3 109.7L588.8 109.7L589.3 109.7L589.8 109.7L590.3 109.7L590.8 109.7L591.3 109.7L591.8 109.7L592.3 109.8L592.8 109.8L593.3 109.8L593.8 109.8L594.3 109.8L594.8 109.8L595.3 109.8L595.8 109.8L596.3 109.9L596.8 109.9L597.3 109.9L597.8 109.9L598.3 109.9L598.8 109.9L599.3 109.9L599.8 109.9L600.3 109.9L600.8 109.9L601.3 110L601.8 110L602.3 110L602.8 110L603.3 110L603.8 110L604.3 110L604.8 110L605.3 110L605.8 110L606.3 110.1L606.8 110.1L607.3 110.1L607.8 110.1L608.3 110.1L608.8 110.1L609.3 110.1L609.8 110.1L610.3 110.1L610.8 110.1L611.3 110.1L611.8 110.2L612.3 110.2L612.8 110.2L613.3 110.2L613.8 110.2L614.3 110.2L614.8 110.2L615.3 110.2L615.8 110.2L616.3 110.2L616.8 110.2L617.3 110.2L617.8 110.3L618.3 110.3L618.8 110.3L619.3 110.3" fill="none" stroke="#a8adad" stroke-width="0.9"/>
<path d="M342.8 107.9L343.3 107.9L343.8 107.9L344.3 107.9L344.8 107.9L345.3 107.9L345.8 107.9L346.3 107.9L346.8 107.9L347.3 107.9L347.8 107.9L348.3 107.9L348.8 107.9L349.3 107.9L349.8 107.9L350.3 107.9L350.8 107.9L351.3 107.9L351.8 107.9L352.3 107.9L352.8 107.9L353.3 107.9L353.8 107.9L354.3 107.9L354.8 107.9L355.3 107.9L355.8 107.9L356.3 107.9L356.8 107.9L357.3 107.9L357.8 107.9L358.3 107.9L358.8 107.9L359.3 107.9L359.8 107.9L360.3 107.9L360.8 107.8L361.3 107.8L361.8 107.8L362.3 107.8L362.8 107.8L363.3 107.8L363.8 107.8L364.3 107.8L364.8 107.8L365.3 107.8L365.8 107.8L366.3 107.8L366.8 107.8L367.3 107.8L367.8 107.8L368.3 107.8L368.8 107.8L369.3 107.8L369.8 107.8L370.3 107.8L370.8 107.8L371.3 107.8L371.8 107.8L372.3 107.8L372.8 107.8L373.3 107.8L373.8 107.8L374.3 107.8L374.8 107.8L375.3 107.8L375.8 107.8L376.3 107.8L376.8 107.8L377.3 107.7L377.8 107.7L378.3 107.7L378.8 107.7L379.3 107.7L379.8 107.7L380.3 107.7L380.8 107.7L381.3 107.7L381.8 107.7L382.3 107.7L382.8 107.7L383.3 107.7L383.8 107.7L384.3 107.7L384.8 107.6L385.3 107.6L385.8 107.6L386.3 107.6L386.8 107.6L387.3 107.6L387.8 107.6L388.3 107.6L388.8 107.6L389.3 107.6L389.8 107.5L390.3 107.5L390.8 107.5L391.3 107.5L391.8 107.5L392.3 107.5L392.8 107.5L393.3 107.5L393.8 107.4L394.3 107.4L394.8 107.4L395.3 107.4L395.8 107.4L396.3 107.4L396.8 107.4L397.3 107.3L397.8 107.3L398.3 107.3L398.8 107.3L399.3 107.3L399.8 107.2L400.3 107.2L400.8 107.2L401.3 107.2L401.8 107.2L402.3 107.1L402.8 107.1L403.3 107.1L403.8 107.1L404.3 107L404.8 107L405.3 107L405.8 106.9L406.3 106.9L406.8 106.9L407.3 106.9L407.8 106.8L408.3 106.8L408.8 106.8L409.3 106.7L409.8 106.7L410.3 106.6L410.8 106.6L411.3 106.6L411.8 106.5L412.3 106.5L412.8 106.4L413.3 106.4L413.8 106.3L414.3 106.3L414.8 106.2L415.3 106.2L415.8 106.1L416.3 106.1L416.8 106L417.3 105.9L417.8 105.9L418.3 105.8L418.8 105.7L419.3 105.7L419.8 105.6L420.3 105.5L420.8 105.4L421.3 105.4L421.8 105.3L422.3 105.2L422.8 105.1L423.3 105L423.8 105L424.3 104.9L424.8 104.8L425.3 104.7L425.8 104.6L426.3 104.5L426.8 104.4L427.3 104.3L427.8 104.2L428.3 104L428.8 103.9L429.3 103.8L429.8 103.6L430.3 103.5L430.8 103.3L431.3 103.2L431.8 103L432.3 102.8L432.8 102.6L433.3 102.4L433.8 102.2L434.3 101.9L434.8 101.7L435.3 101.4L435.8 101.2L436.3 100.9L436.8 100.5L437.3 100.2L437.8 99.8L438.3 99.5L438.8 99L439.3 98.6L439.8 98.1L440.3 97.6L440.8 97.1L441.3 96.5L441.8 95.9L442.3 95.3L442.8 94.6L443.3 93.9L443.8 93.1L444.3 92.3L444.8 91.4L445.3 90.4L445.8 89.5L446.3 88.4L446.8 87.3L447.3 86.2L447.8 85L448.3 83.7L448.8 82.4L449.3 81.1L449.8 79.7L450.3 78.3L450.8 77L451.3 75.6L451.8 74.2L452.3 72.9L452.8 71.7L453.3 70.6L453.8 69.6L454.3 68.7L454.8 68.1L455.3 67.6L455.8 67.3L456.3 67.3L456.8 67.4L457.3 67.6L457.8 68.1L458.3 68.6L458.8 69.3L459.3 70.1L459.8 71L460.3 72L460.8 73.1L461.3 74.2L461.8 75.4L462.3 76.6L462.8 77.8L463.3 79L463.8 80.3L464.3 81.5L464.8 82.7L465.3 83.9L465.8 85L466.3 86.1L466.8 87.2L467.3 88.3L467.8 89.3L468.3 90.2L468.8 91.1L469.3 92L469.8 92.8L470.3 93.6L470.8 94.4L471.3 95.1L471.8 95.7L472.3 96.3L472.8 96.9L473.3 97.4L473.8 97.9L474.3 98.4L474.8 98.8L475.3 99.2L475.8 99.5L476.3 99.8L476.8 100.1L477.3 100.4L477.8 100.6L478.3 100.8L478.8 101L479.3 101.1L479.8 101.3L480.3 101.4L480.8 101.5L481.3 101.5L481.8 101.6L482.3 101.6L482.8 101.6L483.3 101.6L483.8 101.6L484.3 101.5L484.8 101.4L485.3 101.4L485.8 101.3L486.3 101.1L486.8 101L487.3 100.8L487.8 100.6L488.3 100.4L488.8 100.2L489.3 100L489.8 99.7L490.3 99.4L490.8 99.1L491.3 98.7L491.8 98.4L492.3 97.9L492.8 97.5L493.3 97L493.8 96.4L494.3 95.8L494.8 95.1L495.3 94.4L495.8 93.6L496.3 92.8L496.8 91.8L497.3 90.8L497.8 89.7L498.3 88.6L498.8 87.3L499.3 85.9L499.8 84.5L500.3 82.9L500.8 81.3L501.3 79.5L501.8 77.7L502.3 75.8L502.8 73.8L503.3 71.8L503.8 69.7L504.3 67.5L504.8 65.4L505.3 63.2L505.8 61.1L506.3 59.1L506.8 57.1L507.3 55.3L507.8 53.7L508.3 52.2L508.8 51L509.3 50.1L509.8 49.4L510.3 49L510.8 48.8L511.3 49L511.8 49.4L512.3 49.9L512.8 50.7L513.3 51.5L513.8 52.5L514.3 53.6L514.8 54.7L515.3 55.8L515.8 57.1L516.3 58.4L516.8 59.9L517.3 61.5L517.8 63.3L518.3 65.3L518.8 67.4L519.3 69.7L519.8 72L520.3 74.4L520.8 76.8L521.3 79.1L521.8 81.3L522.3 83.4L522.8 85.4L523.3 87.3L523.8 89L524.3 90.5L524.8 91.9L525.3 93.1L525.8 94.2L526.3 95.2L526.8 96.1L527.3 96.9L527.8 97.6L528.3 98.2L528.8 98.8L529.3 99.3L529.8 99.8L530.3 100.2L530.8 100.6L531.3 101L531.8 101.3L532.3 101.6L532.8 101.9L533.3 102.2L533.8 102.5L534.3 102.7L534.8 103L535.3 103.2L535.8 103.4L536.3 103.6L536.8 103.8L537.3 103.9L537.8 104.1L538.3 104.3L538.8 104.4L539.3 104.6L539.8 104.7L540.3 104.9L540.8 105L541.3 105.1L541.8 105.2L542.3 105.4L542.8 105.5L543.3 105.6L543.8 105.7L544.3 105.8L544.8 105.9L545.3 105.9L545.8 106L546.3 106.1L546.8 106.2L547.3 106.3L547.8 106.4L548.3 106.5L548.8 106.6L549.3 106.6L549.8 106.7L550.3 106.8L550.8 106.9L551.3 107L551.8 107L552.3 107.1L552.8 107.2L553.3 107.2L553.8 107.3L554.3 107.4L554.8 107.4L555.3 107.5L555.8 107.5L556.3 107.6L556.8 107.6L557.3 107.7L557.8 107.7L558.3 107.8L558.8 107.8L559.3 107.9L559.8 107.9L560.3 108L560.8 108L561.3 108.1L561.8 108.1L562.3 108.1L562.8 108.2L563.3 108.2L563.8 108.3L564.3 108.3L564.8 108.3L565.3 108.4L565.8 108.4L566.3 108.4L566.8 108.5L567.3 108.5L567.8 108.5L568.3 108.6L568.8 108.6L569.3 108.6L569.8 108.7L570.3 108.7L570.8 108.7L571.3 108.7L571.8 108.8L572.3 108.8L572.8 108.8L573.3 108.8L573.8 108.9L574.3 108.9L574.8 108.9L575.3 108.9L575.8 109L576.3 109L576.8 109L577.3 109L577.8 109.1L578.3 109.1L578.8 109.1L579.3 109.1L579.8 109.1L580.3 109.2L580.8 109.2L581.3 109.2L581.8 109.2L582.3 109.2L582.8 109.3L583.3 109.3L583.8 109.3L584.3 109.3L584.8 109.3L585.3 109.3L585.8 109.4L586.3 109.4L586.8 109.4L587.3 109.4L587.8 109.4L588.3 109.4L588.8 109.5L589.3 109.5L589.8 109.5L590.3 109.5L590.8 109.5L591.3 109.5L591.8 109.6L592.3 109.6L592.8 109.6L593.3 109.6L593.8 109.6L594.3 109.6L594.8 109.6L595.3 109.7L595.8 109.7L596.3 109.7L596.8 109.7L597.3 109.7L597.8 109.7L598.3 109.7L598.8 109.7L599.3 109.8L599.8 109.8L600.3 109.8L600.8 109.8L601.3 109.8L601.8 109.8L602.3 109.8L602.8 109.8L603.3 109.8L603.8 109.9L604.3 109.9L604.8 109.9L605.3 109.9L605.8 109.9L606.3 109.9L606.8 109.9L607.3 109.9L607.8 109.9L608.3 110L608.8 110L609.3 110L609.8 110L610.3 110L610.8 110L611.3 110L611.8 110L612.3 110L612.8 110L613.3 110.1L613.8 110.1L614.3 110.1L614.8 110.1L615.3 110.1L615.8 110.1L616.3 110.1L616.8 110.1L617.3 110.1L617.8 110.1L618.3 110.1L618.8 110.2L619.3 110.2" fill="none" stroke="#000" stroke-width="1.6"/>
<path d="M342.8 108L343.3 108L343.8 108.1L344.3 108.1L344.8 108.1L345.3 108.1L345.8 108.1L346.3 108.1L346.8 108.1L347.3 108.1L347.8 108.1L348.3 108.1L348.8 108.1L349.3 108.1L349.8 108.1L350.3 108.1L350.8 108.1L351.3 108.1L351.8 108.1L352.3 108.1L352.8 108.1L353.3 108.1L353.8 108.1L354.3 108.1L354.8 108.1L355.3 108.1L355.8 108.1L356.3 108.1L356.8 108.1L357.3 108.1L357.8 108.1L358.3 108.1L358.8 108.1L359.3 108.1L359.8 108.1L360.3 108.1L360.8 108.1L361.3 108.1L361.8 108.1L362.3 108.1L362.8 108.1L363.3 108.1L363.8 108.1L364.3 108.1L364.8 108.1L365.3 108.1L365.8 108.1L366.3 108.1L366.8 108.1L367.3 108.1L367.8 108.1L368.3 108.1L368.8 108.1L369.3 108.1L369.8 108.1L370.3 108.1L370.8 108.1L371.3 108.1L371.8 108.1L372.3 108.1L372.8 108.1L373.3 108.1L373.8 108.1L374.3 108.1L374.8 108.1L375.3 108.1L375.8 108.1L376.3 108.1L376.8 108.1L377.3 108.1L377.8 108.1L378.3 108.1L378.8 108.1L379.3 108.1L379.8 108.1L380.3 108.1L380.8 108.1L381.3 108.1L381.8 108.1L382.3 108.1L382.8 108L383.3 108L383.8 108L384.3 108L384.8 108L385.3 108L385.8 108L386.3 108L386.8 108L387.3 108L387.8 108L388.3 108L388.8 108L389.3 108L389.8 108L390.3 108L390.8 108L391.3 108L391.8 108L392.3 107.9L392.8 107.9L393.3 107.9L393.8 107.9L394.3 107.9L394.8 107.9L395.3 107.9L395.8 107.9L396.3 107.9L396.8 107.9L397.3 107.9L397.8 107.8L398.3 107.8L398.8 107.8L399.3 107.8L399.8 107.8L400.3 107.8L400.8 107.8L401.3 107.7L401.8 107.7L402.3 107.7L402.8 107.7L403.3 107.7L403.8 107.7L404.3 107.7L404.8 107.6L405.3 107.6L405.8 107.6L406.3 107.6L406.8 107.6L407.3 107.5L407.8 107.5L408.3 107.5L408.8 107.5L409.3 107.4L409.8 107.4L410.3 107.4L410.8 107.4L411.3 107.3L411.8 107.3L412.3 107.3L412.8 107.2L413.3 107.2L413.8 107.2L414.3 107.1L414.8 107.1L415.3 107.1L415.8 107L416.3 107L416.8 106.9L417.3 106.9L417.8 106.8L418.3 106.8L418.8 106.8L419.3 106.7L419.8 106.6L420.3 106.6L420.8 106.5L421.3 106.5L421.8 106.4L422.3 106.3L422.8 106.3L423.3 106.2L423.8 106.1L424.3 106L424.8 106L425.3 105.9L425.8 105.8L426.3 105.7L426.8 105.6L427.3 105.5L427.8 105.4L428.3 105.2L428.8 105.1L429.3 105L429.8 104.9L430.3 104.7L430.8 104.6L431.3 104.4L431.8 104.2L432.3 104L432.8 103.9L433.3 103.7L433.8 103.4L434.3 103.2L434.8 103L435.3 102.7L435.8 102.4L436.3 102.2L436.8 101.8L437.3 101.5L437.8 101.2L438.3 100.8L438.8 100.4L439.3 99.9L439.8 99.5L440.3 99L440.8 98.5L441.3 97.9L441.8 97.3L442.3 96.7L442.8 96L443.3 95.3L443.8 94.5L444.3 93.7L444.8 92.8L445.3 91.9L445.8 90.9L446.3 89.9L446.8 88.8L447.3 87.7L447.8 86.5L448.3 85.2L448.8 83.9L449.3 82.6L449.8 81.3L450.3 79.9L450.8 78.5L451.3 77.1L451.8 75.8L452.3 74.5L452.8 73.3L453.3 72.2L453.8 71.2L454.3 70.4L454.8 69.7L455.3 69.3L455.8 69L456.3 69L456.8 69.1L457.3 69.4L457.8 69.8L458.3 70.4L458.8 71.1L459.3 72L459.8 72.9L460.3 73.9L460.8 75L461.3 76.1L461.8 77.3L462.3 78.5L462.8 79.8L463.3 81L463.8 82.3L464.3 83.5L464.8 84.8L465.3 86L465.8 87.1L466.3 88.3L466.8 89.4L467.3 90.5L467.8 91.5L468.3 92.5L468.8 93.5L469.3 94.4L469.8 95.2L470.3 96.1L470.8 96.8L471.3 97.6L471.8 98.3L472.3 98.9L472.8 99.6L473.3 100.1L473.8 100.7L474.3 101.2L474.8 101.7L475.3 102.1L475.8 102.5L476.3 102.9L476.8 103.2L477.3 103.6L477.8 103.9L478.3 104.2L478.8 104.4L479.3 104.7L479.8 104.9L480.3 105.1L480.8 105.3L481.3 105.5L481.8 105.7L482.3 105.8L482.8 106L483.3 106.1L483.8 106.3L484.3 106.4L484.8 106.5L485.3 106.6L485.8 106.7L486.3 106.8L486.8 106.9L487.3 107L487.8 107.1L488.3 107.1L488.8 107.2L489.3 107.3L489.8 107.4L490.3 107.4L490.8 107.5L491.3 107.5L491.8 107.6L492.3 107.7L492.8 107.7L493.3 107.8L493.8 107.8L494.3 107.9L494.8 107.9L495.3 108L495.8 108L496.3 108L496.8 108.1L497.3 108.1L497.8 108.2L498.3 108.2L498.8 108.2L499.3 108.3L499.8 108.3L500.3 108.3L500.8 108.4L501.3 108.4L501.8 108.4L502.3 108.5L502.8 108.5L503.3 108.5L503.8 108.5L504.3 108.6L504.8 108.6L505.3 108.6L505.8 108.7L506.3 108.7L506.8 108.7L507.3 108.7L507.8 108.7L508.3 108.8L508.8 108.8L509.3 108.8L509.8 108.8L510.3 108.9L510.8 108.9L511.3 108.9L511.8 108.9L512.3 108.9L512.8 109L513.3 109L513.8 109L514.3 109L514.8 109L515.3 109L515.8 109.1L516.3 109.1L516.8 109.1L517.3 109.1L517.8 109.1L518.3 109.1L518.8 109.2L519.3 109.2L519.8 109.2L520.3 109.2L520.8 109.2L521.3 109.2L521.8 109.2L522.3 109.2L522.8 109.3L523.3 109.3L523.8 109.3L524.3 109.3L524.8 109.3L525.3 109.3L525.8 109.3L526.3 109.4L526.8 109.4L527.3 109.4L527.8 109.4L528.3 109.4L528.8 109.4L529.3 109.4L529.8 109.4L530.3 109.4L530.8 109.5L531.3 109.5L531.8 109.5L532.3 109.5L532.8 109.5L533.3 109.5L533.8 109.5L534.3 109.5L534.8 109.5L535.3 109.5L535.8 109.6L536.3 109.6L536.8 109.6L537.3 109.6L537.8 109.6L538.3 109.6L538.8 109.6L539.3 109.6L539.8 109.6L540.3 109.6L540.8 109.6L541.3 109.7L541.8 109.7L542.3 109.7L542.8 109.7L543.3 109.7L543.8 109.7L544.3 109.7L544.8 109.7L545.3 109.7L545.8 109.7L546.3 109.7L546.8 109.7L547.3 109.8L547.8 109.8L548.3 109.8L548.8 109.8L549.3 109.8L549.8 109.8L550.3 109.8L550.8 109.8L551.3 109.8L551.8 109.8L552.3 109.8L552.8 109.8L553.3 109.8L553.8 109.9L554.3 109.9L554.8 109.9L555.3 109.9L555.8 109.9L556.3 109.9L556.8 109.9L557.3 109.9L557.8 109.9L558.3 109.9L558.8 109.9L559.3 109.9L559.8 109.9L560.3 109.9L560.8 109.9L561.3 110L561.8 110L562.3 110L562.8 110L563.3 110L563.8 110L564.3 110L564.8 110L565.3 110L565.8 110L566.3 110L566.8 110L567.3 110L567.8 110L568.3 110L568.8 110.1L569.3 110.1L569.8 110.1L570.3 110.1L570.8 110.1L571.3 110.1L571.8 110.1L572.3 110.1L572.8 110.1L573.3 110.1L573.8 110.1L574.3 110.1L574.8 110.1L575.3 110.1L575.8 110.1L576.3 110.1L576.8 110.1L577.3 110.2L577.8 110.2L578.3 110.2L578.8 110.2L579.3 110.2L579.8 110.2L580.3 110.2L580.8 110.2L581.3 110.2L581.8 110.2L582.3 110.2L582.8 110.2L583.3 110.2L583.8 110.2L584.3 110.2L584.8 110.2L585.3 110.2L585.8 110.3L586.3 110.3L586.8 110.3L587.3 110.3L587.8 110.3L588.3 110.3L588.8 110.3L589.3 110.3L589.8 110.3L590.3 110.3L590.8 110.3L591.3 110.3L591.8 110.3L592.3 110.3L592.8 110.3L593.3 110.3L593.8 110.3L594.3 110.3L594.8 110.4L595.3 110.4L595.8 110.4L596.3 110.4L596.8 110.4L597.3 110.4L597.8 110.4L598.3 110.4L598.8 110.4L599.3 110.4L599.8 110.4L600.3 110.4L600.8 110.4L601.3 110.4L601.8 110.4L602.3 110.4L602.8 110.4L603.3 110.4L603.8 110.4L604.3 110.5L604.8 110.5L605.3 110.5L605.8 110.5L606.3 110.5L606.8 110.5L606.8 110.6L606.3 110.6L605.8 110.6L605.3 110.6L604.8 110.6L604.3 110.6L603.8 110.6L603.3 110.6L602.8 110.6L602.3 110.6L601.8 110.6L601.3 110.5L600.8 110.5L600.3 110.5L599.8 110.5L599.3 110.5L598.8 110.5L598.3 110.5L597.8 110.5L597.3 110.5L596.8 110.5L596.3 110.5L595.8 110.5L595.3 110.5L594.8 110.5L594.3 110.5L593.8 110.5L593.3 110.5L592.8 110.5L592.3 110.5L591.8 110.5L591.3 110.5L590.8 110.5L590.3 110.5L589.8 110.4L589.3 110.4L588.8 110.4L588.3 110.4L587.8 110.4L587.3 110.4L586.8 110.4L586.3 110.4L585.8 110.4L585.3 110.4L584.8 110.4L584.3 110.4L583.8 110.4L583.3 110.4L582.8 110.4L582.3 110.4L581.8 110.4L581.3 110.4L580.8 110.4L580.3 110.4L579.8 110.4L579.3 110.4L578.8 110.4L578.3 110.3L577.8 110.3L577.3 110.3L576.8 110.3L576.3 110.3L575.8 110.3L575.3 110.3L574.8 110.3L574.3 110.3L573.8 110.3L573.3 110.3L572.8 110.3L572.3 110.3L571.8 110.3L571.3 110.3L570.8 110.3L570.3 110.3L569.8 110.3L569.3 110.3L568.8 110.3L568.3 110.3L567.8 110.3L567.3 110.3L566.8 110.2L566.3 110.2L565.8 110.2L565.3 110.2L564.8 110.2L564.3 110.2L563.8 110.2L563.3 110.2L562.8 110.2L562.3 110.2L561.8 110.2L561.3 110.2L560.8 110.2L560.3 110.2L559.8 110.2L559.3 110.2L558.8 110.2L558.3 110.2L557.8 110.2L557.3 110.2L556.8 110.2L556.3 110.2L555.8 110.2L555.3 110.1L554.8 110.1L554.3 110.1L553.8 110.1L553.3 110.1L552.8 110.1L552.3 110.1L551.8 110.1L551.3 110.1L550.8 110.1L550.3 110.1L549.8 110.1L549.3 110.1L548.8 110.1L548.3 110.1L547.8 110.1L547.3 110.1L546.8 110.1L546.3 110.1L545.8 110.1L545.3 110.1L544.8 110.1L544.3 110.1L543.8 110L543.3 110L542.8 110L542.3 110L541.8 110L541.3 110L540.8 110L540.3 110L539.8 110L539.3 110L538.8 110L538.3 110L537.8 110L537.3 110L536.8 110L536.3 110L535.8 110L535.3 110L534.8 110L534.3 110L533.8 110L533.3 110L532.8 110L532.3 109.9L531.8 109.9L531.3 109.9L530.8 109.9L530.3 109.9L529.8 109.9L529.3 109.9L528.8 109.9L528.3 109.9L527.8 109.9L527.3 109.9L526.8 109.9L526.3 109.9L525.8 109.9L525.3 109.9L524.8 109.9L524.3 109.9L523.8 109.9L523.3 109.9L522.8 109.9L522.3 109.9L521.8 109.9L521.3 109.9L520.8 109.8L520.3 109.8L519.8 109.8L519.3 109.8L518.8 109.8L518.3 109.8L517.8 109.8L517.3 109.8L516.8 109.8L516.3 109.8L515.8 109.8L515.3 109.8L514.8 109.8L514.3 109.8L513.8 109.8L513.3 109.8L512.8 109.8L512.3 109.8L511.8 109.8L511.3 109.8L510.8 109.8L510.3 109.8L509.8 109.8L509.3 109.7L508.8 109.7L508.3 109.7L507.8 109.7L507.3 109.7L506.8 109.7L506.3 109.7L505.8 109.7L505.3 109.7L504.8 109.7L504.3 109.7L503.8 109.7L503.3 109.7L502.8 109.7L502.3 109.7L501.8 109.7L501.3 109.7L500.8 109.7L500.3 109.7L499.8 109.7L499.3 109.7L498.8 109.7L498.3 109.7L497.8 109.6L497.3 109.6L496.8 109.6L496.3 109.6L495.8 109.6L495.3 109.6L494.8 109.6L494.3 109.6L493.8 109.6L493.3 109.6L492.8 109.6L492.3 109.6L491.8 109.6L491.3 109.6L490.8 109.6L490.3 109.6L489.8 109.6L489.3 109.6L488.8 109.6L488.3 109.6L487.8 109.6L487.3 109.6L486.8 109.6L486.3 109.5L485.8 109.5L485.3 109.5L484.8 109.5L484.3 109.5L483.8 109.5L483.3 109.5L482.8 109.5L482.3 109.5L481.8 109.5L481.3 109.5L480.8 109.5L480.3 109.5L479.8 109.5L479.3 109.5L478.8 109.5L478.3 109.5L477.8 109.5L477.3 109.5L476.8 109.5L476.3 109.5L475.8 109.5L475.3 109.5L474.8 109.4L474.3 109.4L473.8 109.4L473.3 109.4L472.8 109.4L472.3 109.4L471.8 109.4L471.3 109.4L470.8 109.4L470.3 109.4L469.8 109.4L469.3 109.4L468.8 109.4L468.3 109.4L467.8 109.4L467.3 109.4L466.8 109.4L466.3 109.4L465.8 109.4L465.3 109.4L464.8 109.4L464.3 109.4L463.8 109.4L463.3 109.3L462.8 109.3L462.3 109.3L461.8 109.3L461.3 109.3L460.8 109.3L460.3 109.3L459.8 109.3L459.3 109.3L458.8 109.3L458.3 109.3L457.8 109.3L457.3 109.3L456.8 109.3L456.3 109.3L455.8 109.3L455.3 109.3L454.8 109.3L454.3 109.3L453.8 109.3L453.3 109.3L452.8 109.3L452.3 109.3L451.8 109.2L451.3 109.2L450.8 109.2L450.3 109.2L449.8 109.2L449.3 109.2L448.8 109.2L448.3 109.2L447.8 109.2L447.3 109.2L446.8 109.2L446.3 109.2L445.8 109.2L445.3 109.2L444.8 109.2L444.3 109.2L443.8 109.2L443.3 109.2L442.8 109.2L442.3 109.2L441.8 109.2L441.3 109.2L440.8 109.2L440.3 109.1L439.8 109.1L439.3 109.1L438.8 109.1L438.3 109.1L437.8 109.1L437.3 109.1L436.8 109.1L436.3 109.1L435.8 109.1L435.3 109.1L434.8 109.1L434.3 109.1L433.8 109.1L433.3 109.1L432.8 109.1L432.3 109.1L431.8 109.1L431.3 109.1L430.8 109.1L430.3 109.1L429.8 109.1L429.3 109.1L428.8 109L428.3 109L427.8 109L427.3 109L426.8 109L426.3 109L425.8 109L425.3 109L424.8 109L424.3 109L423.8 109L423.3 109L422.8 109L422.3 109L421.8 109L421.3 109L420.8 109L420.3 109L419.8 109L419.3 109L418.8 109L418.3 109L417.8 109L417.3 108.9L416.8 108.9L416.3 108.9L415.8 108.9L415.3 108.9L414.8 108.9L414.3 108.9L413.8 108.9L413.3 108.9L412.8 108.9L412.3 108.9L411.8 108.9L411.3 108.9L410.8 108.9L410.3 108.9L409.8 108.9L409.3 108.9L408.8 108.9L408.3 108.9L407.8 108.9L407.3 108.9L406.8 108.9L406.3 108.9L405.8 108.8L405.3 108.8L404.8 108.8L404.3 108.8L403.8 108.8L403.3 108.8L402.8 108.8L402.3 108.8L401.8 108.8L401.3 108.8L400.8 108.8L400.3 108.8L399.8 108.8L399.3 108.8L398.8 108.8L398.3 108.8L397.8 108.8L397.3 108.8L396.8 108.8L396.3 108.8L395.8 108.8L395.3 108.8L394.8 108.8L394.3 108.7L393.8 108.7L393.3 108.7L392.8 108.7L392.3 108.7L391.8 108.7L391.3 108.7L390.8 108.7L390.3 108.7L389.8 108.7L389.3 108.7L388.8 108.7L388.3 108.7L387.8 108.7L387.3 108.7L386.8 108.7L386.3 108.7L385.8 108.7L385.3 108.7L384.8 108.7L384.3 108.7L383.8 108.7L383.3 108.7L382.8 108.6L382.3 108.6L381.8 108.6L381.3 108.6L380.8 108.6L380.3 108.6L379.8 108.6L379.3 108.6L378.8 108.6L378.3 108.6L377.8 108.6L377.3 108.6L376.8 108.6L376.3 108.6L375.8 108.6L375.3 108.6L374.8 108.6L374.3 108.6L373.8 108.6L373.3 108.6L372.8 108.6L372.3 108.6L371.8 108.6L371.3 108.5L370.8 108.5L370.3 108.5L369.8 108.5L369.3 108.5L368.8 108.5L368.3 108.5L367.8 108.5L367.3 108.5L366.8 108.5L366.3 108.5L365.8 108.5L365.3 108.5L364.8 108.5L364.3 108.5L363.8 108.5L363.3 108.5L362.8 108.5L362.3 108.5L361.8 108.5L361.3 108.5L360.8 108.5L360.3 108.5L359.8 108.4L359.3 108.4L358.8 108.4L358.3 108.4L357.8 108.4L357.3 108.4L356.8 108.4L356.3 108.4L355.8 108.4L355.3 108.4L354.8 108.4L354.3 108.4L353.8 108.4L353.3 108.4L352.8 108.4L352.3 108.4L351.8 108.4L351.3 108.4L350.8 108.4L350.3 108.4L349.8 108.4L349.3 108.4L348.8 108.4L348.3 108.3L347.8 108.3L347.3 108.3L346.8 108.3L346.3 108.3L345.8 108.3L345.3 108.3L344.8 108.3L344.3 108.3L343.8 108.3L343.3 108.3L342.8 108.3Z" fill="url(#gg13)"/>
<path d="M375.8 108.1L376.3 108.1L376.8 108.1L377.3 108.1L377.8 108.1L378.3 108.1L378.8 108.1L379.3 108.1L379.8 108.1L380.3 108.1L380.8 108.1L381.3 108.1L381.8 108.1L382.3 108.1L382.8 108L383.3 108L383.8 108L384.3 108L384.8 108L385.3 108L385.8 108L386.3 108L386.8 108L387.3 108L387.8 108L388.3 108L388.8 108L389.3 108L389.8 108L390.3 108L390.8 108L391.3 108L391.8 108L392.3 107.9L392.8 107.9L393.3 107.9L393.8 107.9L394.3 107.9L394.8 107.9L395.3 107.9L395.8 107.9L396.3 107.9L396.8 107.9L397.3 107.9L397.8 107.8L398.3 107.8L398.8 107.8L399.3 107.8L399.8 107.8L400.3 107.8L400.8 107.8L401.3 107.7L401.8 107.7L402.3 107.7L402.8 107.7L403.3 107.7L403.8 107.7L404.3 107.7L404.8 107.6L405.3 107.6L405.8 107.6L406.3 107.6L406.8 107.6L407.3 107.5L407.8 107.5L408.3 107.5L408.8 107.5L409.3 107.4L409.8 107.4L410.3 107.4L410.8 107.4L411.3 107.3L411.8 107.3L412.3 107.3L412.8 107.2L413.3 107.2L413.8 107.2L414.3 107.1L414.8 107.1L415.3 107.1L415.8 107L416.3 107L416.8 106.9L417.3 106.9L417.8 106.8L418.3 106.8L418.8 106.8L419.3 106.7L419.8 106.6L420.3 106.6L420.8 106.5L421.3 106.5L421.8 106.4L422.3 106.3L422.8 106.3L423.3 106.2L423.8 106.1L424.3 106L424.8 106L425.3 105.9L425.8 105.8L426.3 105.7L426.8 105.6L427.3 105.5L427.8 105.4L428.3 105.2L428.8 105.1L429.3 105L429.8 104.9L430.3 104.7L430.8 104.6L431.3 104.4L431.8 104.2L432.3 104L432.8 103.9L433.3 103.7L433.8 103.4L434.3 103.2L434.8 103L435.3 102.7L435.8 102.4L436.3 102.2L436.8 101.8L437.3 101.5L437.8 101.2L438.3 100.8L438.8 100.4L439.3 99.9L439.8 99.5L440.3 99L440.8 98.5L441.3 97.9L441.8 97.3L442.3 96.7L442.8 96L443.3 95.3L443.8 94.5L444.3 93.7L444.8 92.8L445.3 91.9L445.8 90.9L446.3 89.9L446.8 88.8L447.3 87.7L447.8 86.5L448.3 85.2L448.8 83.9L449.3 82.6L449.8 81.3L450.3 79.9L450.8 78.5L451.3 77.1L451.8 75.8L452.3 74.5L452.8 73.3L453.3 72.2L453.8 71.2L454.3 70.4L454.8 69.7L455.3 69.3L455.8 69L456.3 69L456.8 69.1L457.3 69.4L457.8 69.8L458.3 70.4L458.8 71.1L459.3 72L459.8 72.9L460.3 73.9L460.8 75L461.3 76.1L461.8 77.3L462.3 78.5L462.8 79.8L463.3 81L463.8 82.3L464.3 83.5L464.8 84.8L465.3 86L465.8 87.1L466.3 88.3L466.8 89.4L467.3 90.5L467.8 91.5L468.3 92.5L468.8 93.5L469.3 94.4L469.8 95.2L470.3 96.1L470.8 96.8L471.3 97.6L471.8 98.3L472.3 98.9L472.8 99.6L473.3 100.1L473.8 100.7L474.3 101.2L474.8 101.7L475.3 102.1L475.8 102.5L476.3 102.9L476.8 103.2L477.3 103.6L477.8 103.9L478.3 104.2L478.8 104.4L479.3 104.7L479.8 104.9L480.3 105.1L480.8 105.3L481.3 105.5L481.8 105.7L482.3 105.8L482.8 106L483.3 106.1L483.8 106.3L484.3 106.4L484.8 106.5L485.3 106.6L485.8 106.7L486.3 106.8L486.8 106.9L487.3 107L487.8 107.1L488.3 107.1L488.8 107.2L489.3 107.3L489.8 107.4L490.3 107.4L490.8 107.5L491.3 107.5L491.8 107.6L492.3 107.7L492.8 107.7L493.3 107.8L493.8 107.8L494.3 107.9L494.8 107.9L495.3 108L495.8 108L496.3 108L496.8 108.1L497.3 108.1L497.8 108.2L498.3 108.2L498.8 108.2L499.3 108.3L499.8 108.3L500.3 108.3L500.8 108.4L501.3 108.4L501.8 108.4L502.3 108.5L502.8 108.5L503.3 108.5L503.8 108.5L504.3 108.6L504.8 108.6L505.3 108.6L505.8 108.7L506.3 108.7L506.8 108.7L507.3 108.7L507.8 108.7L508.3 108.8L508.8 108.8L509.3 108.8L509.8 108.8L510.3 108.9L510.8 108.9L511.3 108.9L511.8 108.9L512.3 108.9L512.8 109L513.3 109L513.8 109L514.3 109L514.8 109L515.3 109L515.8 109.1L516.3 109.1L516.8 109.1L517.3 109.1L517.8 109.1L518.3 109.1L518.8 109.2L519.3 109.2L519.8 109.2L520.3 109.2L520.8 109.2L521.3 109.2L521.8 109.2L522.3 109.2L522.8 109.3L523.3 109.3L523.8 109.3L524.3 109.3L524.8 109.3L525.3 109.3L525.8 109.3L526.3 109.4L526.8 109.4L527.3 109.4L527.8 109.4L528.3 109.4L528.8 109.4L529.3 109.4" fill="none" stroke="#12a012" stroke-width="1.2"/>
<path d="M361.8 108.3L362.3 108.3L362.8 108.4L363.3 108.4L363.8 108.4L364.3 108.4L364.8 108.4L365.3 108.4L365.8 108.4L366.3 108.4L366.8 108.4L367.3 108.4L367.8 108.4L368.3 108.4L368.8 108.4L369.3 108.4L369.8 108.4L370.3 108.4L370.8 108.4L371.3 108.4L371.8 108.4L372.3 108.4L372.8 108.4L373.3 108.4L373.8 108.4L374.3 108.4L374.8 108.4L375.3 108.4L375.8 108.4L376.3 108.4L376.8 108.4L377.3 108.4L377.8 108.5L378.3 108.5L378.8 108.5L379.3 108.5L379.8 108.5L380.3 108.5L380.8 108.5L381.3 108.5L381.8 108.5L382.3 108.5L382.8 108.5L383.3 108.5L383.8 108.5L384.3 108.5L384.8 108.5L385.3 108.5L385.8 108.5L386.3 108.5L386.8 108.5L387.3 108.5L387.8 108.5L388.3 108.5L388.8 108.5L389.3 108.5L389.8 108.5L390.3 108.5L390.8 108.5L391.3 108.5L391.8 108.5L392.3 108.5L392.8 108.5L393.3 108.5L393.8 108.5L394.3 108.6L394.8 108.6L395.3 108.6L395.8 108.6L396.3 108.6L396.8 108.6L397.3 108.6L397.8 108.6L398.3 108.6L398.8 108.6L399.3 108.6L399.8 108.6L400.3 108.6L400.8 108.6L401.3 108.6L401.8 108.6L402.3 108.6L402.8 108.6L403.3 108.6L403.8 108.6L404.3 108.6L404.8 108.6L405.3 108.6L405.8 108.6L406.3 108.6L406.8 108.6L407.3 108.6L407.8 108.6L408.3 108.6L408.8 108.6L409.3 108.6L409.8 108.6L410.3 108.6L410.8 108.6L411.3 108.6L411.8 108.6L412.3 108.6L412.8 108.6L413.3 108.6L413.8 108.6L414.3 108.6L414.8 108.6L415.3 108.6L415.8 108.6L416.3 108.6L416.8 108.6L417.3 108.6L417.8 108.6L418.3 108.6L418.8 108.6L419.3 108.6L419.8 108.6L420.3 108.6L420.8 108.6L421.3 108.6L421.8 108.6L422.3 108.6L422.8 108.7L423.3 108.7L423.8 108.7L424.3 108.7L424.8 108.7L425.3 108.7L425.8 108.7L426.3 108.7L426.8 108.7L427.3 108.7L427.8 108.7L428.3 108.7L428.8 108.7L429.3 108.6L429.8 108.6L430.3 108.6L430.8 108.6L431.3 108.6L431.8 108.6L432.3 108.6L432.8 108.6L433.3 108.6L433.8 108.6L434.3 108.6L434.8 108.6L435.3 108.6L435.8 108.6L436.3 108.6L436.8 108.6L437.3 108.6L437.8 108.6L438.3 108.6L438.8 108.6L439.3 108.6L439.8 108.6L440.3 108.6L440.8 108.6L441.3 108.6L441.8 108.6L442.3 108.6L442.8 108.6L443.3 108.6L443.8 108.6L444.3 108.6L444.8 108.6L445.3 108.6L445.8 108.6L446.3 108.6L446.8 108.6L447.3 108.5L447.8 108.5L448.3 108.5L448.8 108.5L449.3 108.5L449.8 108.5L450.3 108.5L450.8 108.5L451.3 108.5L451.8 108.5L452.3 108.5L452.8 108.5L453.3 108.5L453.8 108.4L454.3 108.4L454.8 108.4L455.3 108.4L455.8 108.4L456.3 108.4L456.8 108.4L457.3 108.4L457.8 108.4L458.3 108.3L458.8 108.3L459.3 108.3L459.8 108.3L460.3 108.3L460.8 108.3L461.3 108.2L461.8 108.2L462.3 108.2L462.8 108.2L463.3 108.2L463.8 108.2L464.3 108.1L464.8 108.1L465.3 108.1L465.8 108.1L466.3 108L466.8 108L467.3 108L467.8 108L468.3 107.9L468.8 107.9L469.3 107.9L469.8 107.8L470.3 107.8L470.8 107.8L471.3 107.7L471.8 107.7L472.3 107.7L472.8 107.6L473.3 107.6L473.8 107.5L474.3 107.5L474.8 107.4L475.3 107.4L475.8 107.3L476.3 107.3L476.8 107.2L477.3 107.2L477.8 107.1L478.3 107L478.8 107L479.3 106.9L479.8 106.8L480.3 106.7L480.8 106.6L481.3 106.5L481.8 106.4L482.3 106.3L482.8 106.2L483.3 106.1L483.8 106L484.3 105.9L484.8 105.8L485.3 105.6L485.8 105.5L486.3 105.3L486.8 105.1L487.3 104.9L487.8 104.7L488.3 104.5L488.8 104.2L489.3 104L489.8 103.7L490.3 103.4L490.8 103L491.3 102.7L491.8 102.2L492.3 101.8L492.8 101.3L493.3 100.8L493.8 100.2L494.3 99.5L494.8 98.8L495.3 98L495.8 97.2L496.3 96.3L496.8 95.3L497.3 94.2L497.8 93L498.3 91.8L498.8 90.5L499.3 89L499.8 87.5L500.3 85.9L500.8 84.2L501.3 82.4L501.8 80.5L502.3 78.5L502.8 76.5L503.3 74.4L503.8 72.3L504.3 70.1L504.8 68L505.3 65.8L505.8 63.7L506.3 61.7L506.8 59.8L507.3 58.1L507.8 56.5L508.3 55.3L508.8 54.3L509.3 53.6L509.8 53.2L510.3 53.2L510.8 53.6L511.3 54.3L511.8 55.3L512.3 56.6L512.8 58.2L513.3 60L513.8 61.9L514.3 64L514.8 66.1L515.3 68.2L515.8 70.4L516.3 72.5L516.8 74.5L517.3 76.5L517.8 78.4L518.3 80.2L518.8 82L519.3 83.6L519.8 85.2L520.3 86.6L520.8 88L521.3 89.3L521.8 90.5L522.3 91.6L522.8 92.7L523.3 93.6L523.8 94.6L524.3 95.4L524.8 96.2L525.3 96.9L525.8 97.6L526.3 98.2L526.8 98.8L527.3 99.4L527.8 99.9L528.3 100.4L528.8 100.8L529.3 101.3L529.8 101.6L530.3 102L530.8 102.4L531.3 102.7L531.8 103L532.3 103.3L532.8 103.5L533.3 103.8L533.8 104L534.3 104.2L534.8 104.5L535.3 104.7L535.8 104.8L536.3 105L536.8 105.2L537.3 105.4L537.8 105.5L538.3 105.7L538.8 105.8L539.3 105.9L539.8 106.1L540.3 106.2L540.8 106.3L541.3 106.4L541.8 106.5L542.3 106.6L542.8 106.7L543.3 106.8L543.8 106.9L544.3 107L544.8 107.1L545.3 107.2L545.8 107.3L546.3 107.4L546.8 107.4L547.3 107.5L547.8 107.6L548.3 107.6L548.8 107.7L549.3 107.8L549.8 107.8L550.3 107.9L550.8 107.9L551.3 108L551.8 108L552.3 108.1L552.8 108.1L553.3 108.2L553.8 108.2L554.3 108.3L554.8 108.3L555.3 108.4L555.8 108.4L556.3 108.5L556.8 108.5L557.3 108.5L557.8 108.6L558.3 108.6L558.8 108.6L559.3 108.7L559.8 108.7L560.3 108.7L560.8 108.8L561.3 108.8L561.8 108.8L562.3 108.9L562.8 108.9L563.3 108.9L563.8 109L564.3 109L564.8 109L565.3 109L565.8 109.1L566.3 109.1L566.8 109.1L567.3 109.1L567.8 109.2L568.3 109.2L568.8 109.2L569.3 109.2L569.8 109.2L570.3 109.3L570.8 109.3L571.3 109.3L571.8 109.3L572.3 109.3L572.8 109.4L573.3 109.4L573.8 109.4L574.3 109.4L574.8 109.4L575.3 109.5L575.8 109.5L576.3 109.5L576.8 109.5L577.3 109.5L577.8 109.5L578.3 109.6L578.8 109.6L579.3 109.6L579.8 109.6L580.3 109.6L580.8 109.6L581.3 109.6L581.8 109.7L582.3 109.7L582.8 109.7L583.3 109.7L583.8 109.7L584.3 109.7L584.8 109.7L585.3 109.8L585.8 109.8L586.3 109.8L586.8 109.8L587.3 109.8L587.8 109.8L588.3 109.8L588.8 109.8L589.3 109.9L589.8 109.9L590.3 109.9L590.8 109.9L591.3 109.9L591.8 109.9L592.3 109.9L592.8 109.9L593.3 109.9L593.8 110L594.3 110L594.8 110L595.3 110L595.8 110L596.3 110L596.8 110L597.3 110L597.8 110L598.3 110L598.8 110.1L599.3 110.1L599.8 110.1L600.3 110.1L600.8 110.1L601.3 110.1L601.8 110.1L602.3 110.1L602.8 110.1L603.3 110.1L603.8 110.1L604.3 110.2L604.8 110.2L605.3 110.2L605.8 110.2L606.3 110.2L606.8 110.2L607.3 110.2L607.8 110.2L608.3 110.2L608.8 110.2L609.3 110.2L609.8 110.2L610.3 110.3L610.8 110.3L611.3 110.3L611.8 110.3L612.3 110.3L612.8 110.3L613.3 110.3L613.8 110.3L614.3 110.3L614.8 110.3L615.3 110.3L615.8 110.3L616.3 110.3L616.8 110.4L617.3 110.4L617.8 110.4L618.3 110.4L618.8 110.4L619.3 110.4L619.3 110.7L618.8 110.7L618.3 110.7L617.8 110.7L617.3 110.7L616.8 110.7L616.3 110.7L615.8 110.7L615.3 110.7L614.8 110.7L614.3 110.7L613.8 110.7L613.3 110.7L612.8 110.6L612.3 110.6L611.8 110.6L611.3 110.6L610.8 110.6L610.3 110.6L609.8 110.6L609.3 110.6L608.8 110.6L608.3 110.6L607.8 110.6L607.3 110.6L606.8 110.6L606.3 110.6L605.8 110.6L605.3 110.6L604.8 110.6L604.3 110.6L603.8 110.6L603.3 110.6L602.8 110.6L602.3 110.6L601.8 110.6L601.3 110.5L600.8 110.5L600.3 110.5L599.8 110.5L599.3 110.5L598.8 110.5L598.3 110.5L597.8 110.5L597.3 110.5L596.8 110.5L596.3 110.5L595.8 110.5L595.3 110.5L594.8 110.5L594.3 110.5L593.8 110.5L593.3 110.5L592.8 110.5L592.3 110.5L591.8 110.5L591.3 110.5L590.8 110.5L590.3 110.5L589.8 110.4L589.3 110.4L588.8 110.4L588.3 110.4L587.8 110.4L587.3 110.4L586.8 110.4L586.3 110.4L585.8 110.4L585.3 110.4L584.8 110.4L584.3 110.4L583.8 110.4L583.3 110.4L582.8 110.4L582.3 110.4L581.8 110.4L581.3 110.4L580.8 110.4L580.3 110.4L579.8 110.4L579.3 110.4L578.8 110.4L578.3 110.3L577.8 110.3L577.3 110.3L576.8 110.3L576.3 110.3L575.8 110.3L575.3 110.3L574.8 110.3L574.3 110.3L573.8 110.3L573.3 110.3L572.8 110.3L572.3 110.3L571.8 110.3L571.3 110.3L570.8 110.3L570.3 110.3L569.8 110.3L569.3 110.3L568.8 110.3L568.3 110.3L567.8 110.3L567.3 110.3L566.8 110.2L566.3 110.2L565.8 110.2L565.3 110.2L564.8 110.2L564.3 110.2L563.8 110.2L563.3 110.2L562.8 110.2L562.3 110.2L561.8 110.2L561.3 110.2L560.8 110.2L560.3 110.2L559.8 110.2L559.3 110.2L558.8 110.2L558.3 110.2L557.8 110.2L557.3 110.2L556.8 110.2L556.3 110.2L555.8 110.2L555.3 110.1L554.8 110.1L554.3 110.1L553.8 110.1L553.3 110.1L552.8 110.1L552.3 110.1L551.8 110.1L551.3 110.1L550.8 110.1L550.3 110.1L549.8 110.1L549.3 110.1L548.8 110.1L548.3 110.1L547.8 110.1L547.3 110.1L546.8 110.1L546.3 110.1L545.8 110.1L545.3 110.1L544.8 110.1L544.3 110.1L543.8 110L543.3 110L542.8 110L542.3 110L541.8 110L541.3 110L540.8 110L540.3 110L539.8 110L539.3 110L538.8 110L538.3 110L537.8 110L537.3 110L536.8 110L536.3 110L535.8 110L535.3 110L534.8 110L534.3 110L533.8 110L533.3 110L532.8 110L532.3 109.9L531.8 109.9L531.3 109.9L530.8 109.9L530.3 109.9L529.8 109.9L529.3 109.9L528.8 109.9L528.3 109.9L527.8 109.9L527.3 109.9L526.8 109.9L526.3 109.9L525.8 109.9L525.3 109.9L524.8 109.9L524.3 109.9L523.8 109.9L523.3 109.9L522.8 109.9L522.3 109.9L521.8 109.9L521.3 109.9L520.8 109.8L520.3 109.8L519.8 109.8L519.3 109.8L518.8 109.8L518.3 109.8L517.8 109.8L517.3 109.8L516.8 109.8L516.3 109.8L515.8 109.8L515.3 109.8L514.8 109.8L514.3 109.8L513.8 109.8L513.3 109.8L512.8 109.8L512.3 109.8L511.8 109.8L511.3 109.8L510.8 109.8L510.3 109.8L509.8 109.8L509.3 109.7L508.8 109.7L508.3 109.7L507.8 109.7L507.3 109.7L506.8 109.7L506.3 109.7L505.8 109.7L505.3 109.7L504.8 109.7L504.3 109.7L503.8 109.7L503.3 109.7L502.8 109.7L502.3 109.7L501.8 109.7L501.3 109.7L500.8 109.7L500.3 109.7L499.8 109.7L499.3 109.7L498.8 109.7L498.3 109.7L497.8 109.6L497.3 109.6L496.8 109.6L496.3 109.6L495.8 109.6L495.3 109.6L494.8 109.6L494.3 109.6L493.8 109.6L493.3 109.6L492.8 109.6L492.3 109.6L491.8 109.6L491.3 109.6L490.8 109.6L490.3 109.6L489.8 109.6L489.3 109.6L488.8 109.6L488.3 109.6L487.8 109.6L487.3 109.6L486.8 109.6L486.3 109.5L485.8 109.5L485.3 109.5L484.8 109.5L484.3 109.5L483.8 109.5L483.3 109.5L482.8 109.5L482.3 109.5L481.8 109.5L481.3 109.5L480.8 109.5L480.3 109.5L479.8 109.5L479.3 109.5L478.8 109.5L478.3 109.5L477.8 109.5L477.3 109.5L476.8 109.5L476.3 109.5L475.8 109.5L475.3 109.5L474.8 109.4L474.3 109.4L473.8 109.4L473.3 109.4L472.8 109.4L472.3 109.4L471.8 109.4L471.3 109.4L470.8 109.4L470.3 109.4L469.8 109.4L469.3 109.4L468.8 109.4L468.3 109.4L467.8 109.4L467.3 109.4L466.8 109.4L466.3 109.4L465.8 109.4L465.3 109.4L464.8 109.4L464.3 109.4L463.8 109.4L463.3 109.3L462.8 109.3L462.3 109.3L461.8 109.3L461.3 109.3L460.8 109.3L460.3 109.3L459.8 109.3L459.3 109.3L458.8 109.3L458.3 109.3L457.8 109.3L457.3 109.3L456.8 109.3L456.3 109.3L455.8 109.3L455.3 109.3L454.8 109.3L454.3 109.3L453.8 109.3L453.3 109.3L452.8 109.3L452.3 109.3L451.8 109.2L451.3 109.2L450.8 109.2L450.3 109.2L449.8 109.2L449.3 109.2L448.8 109.2L448.3 109.2L447.8 109.2L447.3 109.2L446.8 109.2L446.3 109.2L445.8 109.2L445.3 109.2L444.8 109.2L444.3 109.2L443.8 109.2L443.3 109.2L442.8 109.2L442.3 109.2L441.8 109.2L441.3 109.2L440.8 109.2L440.3 109.1L439.8 109.1L439.3 109.1L438.8 109.1L438.3 109.1L437.8 109.1L437.3 109.1L436.8 109.1L436.3 109.1L435.8 109.1L435.3 109.1L434.8 109.1L434.3 109.1L433.8 109.1L433.3 109.1L432.8 109.1L432.3 109.1L431.8 109.1L431.3 109.1L430.8 109.1L430.3 109.1L429.8 109.1L429.3 109.1L428.8 109L428.3 109L427.8 109L427.3 109L426.8 109L426.3 109L425.8 109L425.3 109L424.8 109L424.3 109L423.8 109L423.3 109L422.8 109L422.3 109L421.8 109L421.3 109L420.8 109L420.3 109L419.8 109L419.3 109L418.8 109L418.3 109L417.8 109L417.3 108.9L416.8 108.9L416.3 108.9L415.8 108.9L415.3 108.9L414.8 108.9L414.3 108.9L413.8 108.9L413.3 108.9L412.8 108.9L412.3 108.9L411.8 108.9L411.3 108.9L410.8 108.9L410.3 108.9L409.8 108.9L409.3 108.9L408.8 108.9L408.3 108.9L407.8 108.9L407.3 108.9L406.8 108.9L406.3 108.9L405.8 108.8L405.3 108.8L404.8 108.8L404.3 108.8L403.8 108.8L403.3 108.8L402.8 108.8L402.3 108.8L401.8 108.8L401.3 108.8L400.8 108.8L400.3 108.8L399.8 108.8L399.3 108.8L398.8 108.8L398.3 108.8L397.8 108.8L397.3 108.8L396.8 108.8L396.3 108.8L395.8 108.8L395.3 108.8L394.8 108.8L394.3 108.7L393.8 108.7L393.3 108.7L392.8 108.7L392.3 108.7L391.8 108.7L391.3 108.7L390.8 108.7L390.3 108.7L389.8 108.7L389.3 108.7L388.8 108.7L388.3 108.7L387.8 108.7L387.3 108.7L386.8 108.7L386.3 108.7L385.8 108.7L385.3 108.7L384.8 108.7L384.3 108.7L383.8 108.7L383.3 108.7L382.8 108.6L382.3 108.6L381.8 108.6L381.3 108.6L380.8 108.6L380.3 108.6L379.8 108.6L379.3 108.6L378.8 108.6L378.3 108.6L377.8 108.6L377.3 108.6L376.8 108.6L376.3 108.6L375.8 108.6L375.3 108.6L374.8 108.6L374.3 108.6L373.8 108.6L373.3 108.6L372.8 108.6L372.3 108.6L371.8 108.6L371.3 108.5L370.8 108.5L370.3 108.5L369.8 108.5L369.3 108.5L368.8 108.5L368.3 108.5L367.8 108.5L367.3 108.5L366.8 108.5L366.3 108.5L365.8 108.5L365.3 108.5L364.8 108.5L364.3 108.5L363.8 108.5L363.3 108.5L362.8 108.5L362.3 108.5L361.8 108.5Z" fill="url(#gb14)"/>
<path d="M437.8 108.6L438.3 108.6L438.8 108.6L439.3 108.6L439.8 108.6L440.3 108.6L440.8 108.6L441.3 108.6L441.8 108.6L442.3 108.6L442.8 108.6L443.3 108.6L443.8 108.6L444.3 108.6L444.8 108.6L445.3 108.6L445.8 108.6L446.3 108.6L446.8 108.6L447.3 108.5L447.8 108.5L448.3 108.5L448.8 108.5L449.3 108.5L449.8 108.5L450.3 108.5L450.8 108.5L451.3 108.5L451.8 108.5L452.3 108.5L452.8 108.5L453.3 108.5L453.8 108.4L454.3 108.4L454.8 108.4L455.3 108.4L455.8 108.4L456.3 108.4L456.8 108.4L457.3 108.4L457.8 108.4L458.3 108.3L458.8 108.3L459.3 108.3L459.8 108.3L460.3 108.3L460.8 108.3L461.3 108.2L461.8 108.2L462.3 108.2L462.8 108.2L463.3 108.2L463.8 108.2L464.3 108.1L464.8 108.1L465.3 108.1L465.8 108.1L466.3 108L466.8 108L467.3 108L467.8 108L468.3 107.9L468.8 107.9L469.3 107.9L469.8 107.8L470.3 107.8L470.8 107.8L471.3 107.7L471.8 107.7L472.3 107.7L472.8 107.6L473.3 107.6L473.8 107.5L474.3 107.5L474.8 107.4L475.3 107.4L475.8 107.3L476.3 107.3L476.8 107.2L477.3 107.2L477.8 107.1L478.3 107L478.8 107L479.3 106.9L479.8 106.8L480.3 106.7L480.8 106.6L481.3 106.5L481.8 106.4L482.3 106.3L482.8 106.2L483.3 106.1L483.8 106L484.3 105.9L484.8 105.8L485.3 105.6L485.8 105.5L486.3 105.3L486.8 105.1L487.3 104.9L487.8 104.7L488.3 104.5L488.8 104.2L489.3 104L489.8 103.7L490.3 103.4L490.8 103L491.3 102.7L491.8 102.2L492.3 101.8L492.8 101.3L493.3 100.8L493.8 100.2L494.3 99.5L494.8 98.8L495.3 98L495.8 97.2L496.3 96.3L496.8 95.3L497.3 94.2L497.8 93L498.3 91.8L498.8 90.5L499.3 89L499.8 87.5L500.3 85.9L500.8 84.2L501.3 82.4L501.8 80.5L502.3 78.5L502.8 76.5L503.3 74.4L503.8 72.3L504.3 70.1L504.8 68L505.3 65.8L505.8 63.7L506.3 61.7L506.8 59.8L507.3 58.1L507.8 56.5L508.3 55.3L508.8 54.3L509.3 53.6L509.8 53.2L510.3 53.2L510.8 53.6L511.3 54.3L511.8 55.3L512.3 56.6L512.8 58.2L513.3 60L513.8 61.9L514.3 64L514.8 66.1L515.3 68.2L515.8 70.4L516.3 72.5L516.8 74.5L517.3 76.5L517.8 78.4L518.3 80.2L518.8 82L519.3 83.6L519.8 85.2L520.3 86.6L520.8 88L521.3 89.3L521.8 90.5L522.3 91.6L522.8 92.7L523.3 93.6L523.8 94.6L524.3 95.4L524.8 96.2L525.3 96.9L525.8 97.6L526.3 98.2L526.8 98.8L527.3 99.4L527.8 99.9L528.3 100.4L528.8 100.8L529.3 101.3L529.8 101.6L530.3 102L530.8 102.4L531.3 102.7L531.8 103L532.3 103.3L532.8 103.5L533.3 103.8L533.8 104L534.3 104.2L534.8 104.5L535.3 104.7L535.8 104.8L536.3 105L536.8 105.2L537.3 105.4L537.8 105.5L538.3 105.7L538.8 105.8L539.3 105.9L539.8 106.1L540.3 106.2L540.8 106.3L541.3 106.4L541.8 106.5L542.3 106.6L542.8 106.7L543.3 106.8L543.8 106.9L544.3 107L544.8 107.1L545.3 107.2L545.8 107.3L546.3 107.4L546.8 107.4L547.3 107.5L547.8 107.6L548.3 107.6L548.8 107.7L549.3 107.8L549.8 107.8L550.3 107.9L550.8 107.9L551.3 108L551.8 108L552.3 108.1L552.8 108.1L553.3 108.2L553.8 108.2L554.3 108.3L554.8 108.3L555.3 108.4L555.8 108.4L556.3 108.5L556.8 108.5L557.3 108.5L557.8 108.6L558.3 108.6L558.8 108.6L559.3 108.7L559.8 108.7L560.3 108.7L560.8 108.8L561.3 108.8L561.8 108.8L562.3 108.9L562.8 108.9L563.3 108.9L563.8 109L564.3 109L564.8 109L565.3 109L565.8 109.1L566.3 109.1L566.8 109.1L567.3 109.1L567.8 109.2L568.3 109.2L568.8 109.2L569.3 109.2L569.8 109.2L570.3 109.3L570.8 109.3L571.3 109.3L571.8 109.3L572.3 109.3L572.8 109.4L573.3 109.4L573.8 109.4L574.3 109.4L574.8 109.4L575.3 109.5L575.8 109.5L576.3 109.5L576.8 109.5L577.3 109.5L577.8 109.5L578.3 109.6L578.8 109.6L579.3 109.6L579.8 109.6L580.3 109.6L580.8 109.6L581.3 109.6L581.8 109.7L582.3 109.7L582.8 109.7L583.3 109.7L583.8 109.7L584.3 109.7L584.8 109.7L585.3 109.8L585.8 109.8L586.3 109.8L586.8 109.8L587.3 109.8L587.8 109.8L588.3 109.8L588.8 109.8L589.3 109.9L589.8 109.9L590.3 109.9L590.8 109.9L591.3 109.9L591.8 109.9L592.3 109.9L592.8 109.9L593.3 109.9L593.8 110L594.3 110L594.8 110L595.3 110L595.8 110L596.3 110" fill="none" stroke="#3a84e2" stroke-width="1.2"/>
<path d="M492.3 109.5L492.8 109.5L493.3 109.5L493.8 109.5L494.3 109.5L494.8 109.5L495.3 109.5L495.8 109.5L496.3 109.5L496.8 109.5L497.3 109.5L497.8 109.5L498.3 109.4L498.8 109.4L499.3 109.4L499.8 109.4L500.3 109.4L500.8 109.4L501.3 109.4L501.8 109.4L502.3 109.4L502.8 109.3L503.3 109.3L503.8 109.3L504.3 109.3L504.8 109.2L505.3 109.2L505.8 109.1L506.3 109.1L506.8 109L507.3 108.9L507.8 108.7L508.3 108.6L508.8 108.3L509.3 108L509.8 107.7L510.3 107.3L510.8 106.8L511.3 106.2L511.8 105.5L512.3 104.7L512.8 103.9L513.3 102.9L513.8 102L514.3 100.9L514.8 99.9L515.3 99L515.8 98.1L516.3 97.3L516.8 96.7L517.3 96.3L517.8 96.2L518.3 96.4L518.8 96.8L519.3 97.4L519.8 98.2L520.3 99.1L520.8 100.1L521.3 101.1L521.8 102.1L522.3 103.1L522.8 104L523.3 104.9L523.8 105.7L524.3 106.3L524.8 106.9L525.3 107.4L525.8 107.9L526.3 108.2L526.8 108.5L527.3 108.7L527.8 108.9L528.3 109.1L528.8 109.2L529.3 109.3L529.8 109.4L530.3 109.4L530.8 109.5L531.3 109.5L531.8 109.6L532.3 109.6L532.8 109.6L533.3 109.6L533.8 109.7L534.3 109.7L534.8 109.7L535.3 109.7L535.8 109.7L536.3 109.8L536.8 109.8L537.3 109.8L537.8 109.8L538.3 109.8L538.8 109.8L539.3 109.8L539.8 109.9L540.3 109.9L540.8 109.9L541.3 109.9L541.8 109.9L542.3 109.9L542.8 109.9L543.3 109.9L543.3 110L542.8 110L542.3 110L541.8 110L541.3 110L540.8 110L540.3 110L539.8 110L539.3 110L538.8 110L538.3 110L537.8 110L537.3 110L536.8 110L536.3 110L535.8 110L535.3 110L534.8 110L534.3 110L533.8 110L533.3 110L532.8 110L532.3 109.9L531.8 109.9L531.3 109.9L530.8 109.9L530.3 109.9L529.8 109.9L529.3 109.9L528.8 109.9L528.3 109.9L527.8 109.9L527.3 109.9L526.8 109.9L526.3 109.9L525.8 109.9L525.3 109.9L524.8 109.9L524.3 109.9L523.8 109.9L523.3 109.9L522.8 109.9L522.3 109.9L521.8 109.9L521.3 109.9L520.8 109.8L520.3 109.8L519.8 109.8L519.3 109.8L518.8 109.8L518.3 109.8L517.8 109.8L517.3 109.8L516.8 109.8L516.3 109.8L515.8 109.8L515.3 109.8L514.8 109.8L514.3 109.8L513.8 109.8L513.3 109.8L512.8 109.8L512.3 109.8L511.8 109.8L511.3 109.8L510.8 109.8L510.3 109.8L509.8 109.8L509.3 109.7L508.8 109.7L508.3 109.7L507.8 109.7L507.3 109.7L506.8 109.7L506.3 109.7L505.8 109.7L505.3 109.7L504.8 109.7L504.3 109.7L503.8 109.7L503.3 109.7L502.8 109.7L502.3 109.7L501.8 109.7L501.3 109.7L500.8 109.7L500.3 109.7L499.8 109.7L499.3 109.7L498.8 109.7L498.3 109.7L497.8 109.6L497.3 109.6L496.8 109.6L496.3 109.6L495.8 109.6L495.3 109.6L494.8 109.6L494.3 109.6L493.8 109.6L493.3 109.6L492.8 109.6L492.3 109.6Z" fill="url(#gq15)"/>
<path d="M505.3 109.2L505.8 109.1L506.3 109.1L506.8 109L507.3 108.9L507.8 108.7L508.3 108.6L508.8 108.3L509.3 108L509.8 107.7L510.3 107.3L510.8 106.8L511.3 106.2L511.8 105.5L512.3 104.7L512.8 103.9L513.3 102.9L513.8 102L514.3 100.9L514.8 99.9L515.3 99L515.8 98.1L516.3 97.3L516.8 96.7L517.3 96.3L517.8 96.2L518.3 96.4L518.8 96.8L519.3 97.4L519.8 98.2L520.3 99.1L520.8 100.1L521.3 101.1L521.8 102.1L522.3 103.1L522.8 104L523.3 104.9L523.8 105.7L524.3 106.3L524.8 106.9L525.3 107.4L525.8 107.9L526.3 108.2L526.8 108.5L527.3 108.7L527.8 108.9L528.3 109.1L528.8 109.2L529.3 109.3L529.8 109.4L530.3 109.4" fill="none" stroke="#4a20f0" stroke-width="1.2"/>
<path d="M342.8 108.3L343.3 108.3L343.8 108.3L344.3 108.3L344.8 108.3L345.3 108.3L345.8 108.3L346.3 108.3L346.8 108.3L347.3 108.3L347.8 108.3L348.3 108.3L348.8 108.4L349.3 108.4L349.8 108.4L350.3 108.4L350.8 108.4L351.3 108.4L351.8 108.4L352.3 108.4L352.8 108.4L353.3 108.4L353.8 108.4L354.3 108.4L354.8 108.4L355.3 108.4L355.8 108.4L356.3 108.4L356.8 108.4L357.3 108.4L357.8 108.4L358.3 108.4L358.8 108.4L359.3 108.4L359.8 108.4L360.3 108.5L360.8 108.5L361.3 108.5L361.8 108.5L362.3 108.5L362.8 108.5L363.3 108.5L363.8 108.5L364.3 108.5L364.8 108.5L365.3 108.5L365.8 108.5L366.3 108.5L366.8 108.5L367.3 108.5L367.8 108.5L368.3 108.5L368.8 108.5L369.3 108.5L369.8 108.5L370.3 108.5L370.8 108.5L371.3 108.5L371.8 108.6L372.3 108.6L372.8 108.6L373.3 108.6L373.8 108.6L374.3 108.6L374.8 108.6L375.3 108.6L375.8 108.6L376.3 108.6L376.8 108.6L377.3 108.6L377.8 108.6L378.3 108.6L378.8 108.6L379.3 108.6L379.8 108.6L380.3 108.6L380.8 108.6L381.3 108.6L381.8 108.6L382.3 108.6L382.8 108.6L383.3 108.7L383.8 108.7L384.3 108.7L384.8 108.7L385.3 108.7L385.8 108.7L386.3 108.7L386.8 108.7L387.3 108.7L387.8 108.7L388.3 108.7L388.8 108.7L389.3 108.7L389.8 108.7L390.3 108.7L390.8 108.7L391.3 108.7L391.8 108.7L392.3 108.7L392.8 108.7L393.3 108.7L393.8 108.7L394.3 108.7L394.8 108.8L395.3 108.8L395.8 108.8L396.3 108.8L396.8 108.8L397.3 108.8L397.8 108.8L398.3 108.8L398.8 108.8L399.3 108.8L399.8 108.8L400.3 108.8L400.8 108.8L401.3 108.8L401.8 108.8L402.3 108.8L402.8 108.8L403.3 108.8L403.8 108.8L404.3 108.8L404.8 108.8L405.3 108.8L405.8 108.8L406.3 108.9L406.8 108.9L407.3 108.9L407.8 108.9L408.3 108.9L408.8 108.9L409.3 108.9L409.8 108.9L410.3 108.9L410.8 108.9L411.3 108.9L411.8 108.9L412.3 108.9L412.8 108.9L413.3 108.9L413.8 108.9L414.3 108.9L414.8 108.9L415.3 108.9L415.8 108.9L416.3 108.9L416.8 108.9L417.3 108.9L417.8 109L418.3 109L418.8 109L419.3 109L419.8 109L420.3 109L420.8 109L421.3 109L421.8 109L422.3 109L422.8 109L423.3 109L423.8 109L424.3 109L424.8 109L425.3 109L425.8 109L426.3 109L426.8 109L427.3 109L427.8 109L428.3 109L428.8 109L429.3 109.1L429.8 109.1L430.3 109.1L430.8 109.1L431.3 109.1L431.8 109.1L432.3 109.1L432.8 109.1L433.3 109.1L433.8 109.1L434.3 109.1L434.8 109.1L435.3 109.1L435.8 109.1L436.3 109.1L436.8 109.1L437.3 109.1L437.8 109.1L438.3 109.1L438.8 109.1L439.3 109.1L439.8 109.1L440.3 109.1L440.8 109.2L441.3 109.2L441.8 109.2L442.3 109.2L442.8 109.2L443.3 109.2L443.8 109.2L444.3 109.2L444.8 109.2L445.3 109.2L445.8 109.2L446.3 109.2L446.8 109.2L447.3 109.2L447.8 109.2L448.3 109.2L448.8 109.2L449.3 109.2L449.8 109.2L450.3 109.2L450.8 109.2L451.3 109.2L451.8 109.2L452.3 109.3L452.8 109.3L453.3 109.3L453.8 109.3L454.3 109.3L454.8 109.3L455.3 109.3L455.8 109.3L456.3 109.3L456.8 109.3L457.3 109.3L457.8 109.3L458.3 109.3L458.8 109.3L459.3 109.3L459.8 109.3L460.3 109.3L460.8 109.3L461.3 109.3L461.8 109.3L462.3 109.3L462.8 109.3L463.3 109.3L463.8 109.4L464.3 109.4L464.8 109.4L465.3 109.4L465.8 109.4L466.3 109.4L466.8 109.4L467.3 109.4L467.8 109.4L468.3 109.4L468.8 109.4L469.3 109.4L469.8 109.4L470.3 109.4L470.8 109.4L471.3 109.4L471.8 109.4L472.3 109.4L472.8 109.4L473.3 109.4L473.8 109.4L474.3 109.4L474.8 109.4L475.3 109.5L475.8 109.5L476.3 109.5L476.8 109.5L477.3 109.5L477.8 109.5L478.3 109.5L478.8 109.5L479.3 109.5L479.8 109.5L480.3 109.5L480.8 109.5L481.3 109.5L481.8 109.5L482.3 109.5L482.8 109.5L483.3 109.5L483.8 109.5L484.3 109.5L484.8 109.5L485.3 109.5L485.8 109.5L486.3 109.5L486.8 109.6L487.3 109.6L487.8 109.6L488.3 109.6L488.8 109.6L489.3 109.6L489.8 109.6L490.3 109.6L490.8 109.6L491.3 109.6L491.8 109.6L492.3 109.6L492.8 109.6L493.3 109.6L493.8 109.6L494.3 109.6L494.8 109.6L495.3 109.6L495.8 109.6L496.3 109.6L496.8 109.6L497.3 109.6L497.8 109.6L498.3 109.7L498.8 109.7L499.3 109.7L499.8 109.7L500.3 109.7L500.8 109.7L501.3 109.7L501.8 109.7L502.3 109.7L502.8 109.7L503.3 109.7L503.8 109.7L504.3 109.7L504.8 109.7L505.3 109.7L505.8 109.7L506.3 109.7L506.8 109.7L507.3 109.7L507.8 109.7L508.3 109.7L508.8 109.7L509.3 109.7L509.8 109.8L510.3 109.8L510.8 109.8L511.3 109.8L511.8 109.8L512.3 109.8L512.8 109.8L513.3 109.8L513.8 109.8L514.3 109.8L514.8 109.8L515.3 109.8L515.8 109.8L516.3 109.8L516.8 109.8L517.3 109.8L517.8 109.8L518.3 109.8L518.8 109.8L519.3 109.8L519.8 109.8L520.3 109.8L520.8 109.8L521.3 109.9L521.8 109.9L522.3 109.9L522.8 109.9L523.3 109.9L523.8 109.9L524.3 109.9L524.8 109.9L525.3 109.9L525.8 109.9L526.3 109.9L526.8 109.9L527.3 109.9L527.8 109.9L528.3 109.9L528.8 109.9L529.3 109.9L529.8 109.9L530.3 109.9L530.8 109.9L531.3 109.9L531.8 109.9L532.3 109.9L532.8 110L533.3 110L533.8 110L534.3 110L534.8 110L535.3 110L535.8 110L536.3 110L536.8 110L537.3 110L537.8 110L538.3 110L538.8 110L539.3 110L539.8 110L540.3 110L540.8 110L541.3 110L541.8 110L542.3 110L542.8 110L543.3 110L543.8 110L544.3 110.1L544.8 110.1L545.3 110.1L545.8 110.1L546.3 110.1L546.8 110.1L547.3 110.1L547.8 110.1L548.3 110.1L548.8 110.1L549.3 110.1L549.8 110.1L550.3 110.1L550.8 110.1L551.3 110.1L551.8 110.1L552.3 110.1L552.8 110.1L553.3 110.1L553.8 110.1L554.3 110.1L554.8 110.1L555.3 110.1L555.8 110.2L556.3 110.2L556.8 110.2L557.3 110.2L557.8 110.2L558.3 110.2L558.8 110.2L559.3 110.2L559.8 110.2L560.3 110.2L560.8 110.2L561.3 110.2L561.8 110.2L562.3 110.2L562.8 110.2L563.3 110.2L563.8 110.2L564.3 110.2L564.8 110.2L565.3 110.2L565.8 110.2L566.3 110.2L566.8 110.2L567.3 110.3L567.8 110.3L568.3 110.3L568.8 110.3L569.3 110.3L569.8 110.3L570.3 110.3L570.8 110.3L571.3 110.3L571.8 110.3L572.3 110.3L572.8 110.3L573.3 110.3L573.8 110.3L574.3 110.3L574.8 110.3L575.3 110.3L575.8 110.3L576.3 110.3L576.8 110.3L577.3 110.3L577.8 110.3L578.3 110.3L578.8 110.4L579.3 110.4L579.8 110.4L580.3 110.4L580.8 110.4L581.3 110.4L581.8 110.4L582.3 110.4L582.8 110.4L583.3 110.4L583.8 110.4L584.3 110.4L584.8 110.4L585.3 110.4L585.8 110.4L586.3 110.4L586.8 110.4L587.3 110.4L587.8 110.4L588.3 110.4L588.8 110.4L589.3 110.4L589.8 110.4L590.3 110.5L590.8 110.5L591.3 110.5L591.8 110.5L592.3 110.5L592.8 110.5L593.3 110.5L593.8 110.5L594.3 110.5L594.8 110.5L595.3 110.5L595.8 110.5L596.3 110.5L596.8 110.5L597.3 110.5L597.8 110.5L598.3 110.5L598.8 110.5L599.3 110.5L599.8 110.5L600.3 110.5L600.8 110.5L601.3 110.5L601.8 110.6L602.3 110.6L602.8 110.6L603.3 110.6L603.8 110.6L604.3 110.6L604.8 110.6L605.3 110.6L605.8 110.6L606.3 110.6L606.8 110.6L607.3 110.6L607.8 110.6L608.3 110.6L608.8 110.6L609.3 110.6L609.8 110.6L610.3 110.6L610.8 110.6L611.3 110.6L611.8 110.6L612.3 110.6L612.8 110.6L613.3 110.7L613.8 110.7L614.3 110.7L614.8 110.7L615.3 110.7L615.8 110.7L616.3 110.7L616.8 110.7L617.3 110.7L617.8 110.7L618.3 110.7L618.8 110.7L619.3 110.7" fill="none" stroke="#12a012" stroke-width="1.7"/>
<path d="M342.8 185.9L343.3 185.9L343.8 185.9L344.3 185.9L344.8 185.9L345.3 185.9L345.8 185.9L346.3 185.9L346.8 185.9L347.3 185.9L347.8 185.9L348.3 186L348.8 186L349.3 186L349.8 186L350.3 186L350.8 186L351.3 186L351.8 186L352.3 186L352.8 186L353.3 186L353.8 186L354.3 186L354.8 186L355.3 186L355.8 186L356.3 186L356.8 186L357.3 186L357.8 186L358.3 186L358.8 186.1L359.3 186.1L359.8 186.1L360.3 186.1L360.8 186.1L361.3 186.1L361.8 186.1L362.3 186.1L362.8 186.1L363.3 186.1L363.8 186.1L364.3 186.1L364.8 186.1L365.3 186.1L365.8 186.1L366.3 186.1L366.8 186.1L367.3 186.1L367.8 186.1L368.3 186.1L368.8 186.1L369.3 186.1L369.8 186.2L370.3 186.2L370.8 186.2L371.3 186.2L371.8 186.2L372.3 186.2L372.8 186.2L373.3 186.2L373.8 186.2L374.3 186.2L374.8 186.2L375.3 186.2L375.8 186.2L376.3 186.2L376.8 186.2L377.3 186.2L377.8 186.2L378.3 186.2L378.8 186.2L379.3 186.2L379.8 186.2L380.3 186.3L380.8 186.3L381.3 186.3L381.8 186.3L382.3 186.3L382.8 186.3L383.3 186.3L383.8 186.3L384.3 186.3L384.8 186.3L385.3 186.3L385.8 186.3L386.3 186.3L386.8 186.3L387.3 186.3L387.8 186.3L388.3 186.3L388.8 186.3L389.3 186.3L389.8 186.3L390.3 186.3L390.8 186.4L391.3 186.4L391.8 186.4L392.3 186.4L392.8 186.4L393.3 186.4L393.8 186.4L394.3 186.4L394.8 186.4L395.3 186.4L395.8 186.4L396.3 186.4L396.8 186.4L397.3 186.4L397.8 186.4L398.3 186.4L398.8 186.4L399.3 186.4L399.8 186.4L400.3 186.4L400.8 186.4L401.3 186.4L401.8 186.5L402.3 186.5L402.8 186.5L403.3 186.5L403.8 186.5L404.3 186.5L404.8 186.5L405.3 186.5L405.8 186.5L406.3 186.5L406.8 186.5L407.3 186.5L407.8 186.5L408.3 186.5L408.8 186.5L409.3 186.5L409.8 186.5L410.3 186.5L410.8 186.5L411.3 186.5L411.8 186.5L412.3 186.6L412.8 186.6L413.3 186.6L413.8 186.6L414.3 186.6L414.8 186.6L415.3 186.6L415.8 186.6L416.3 186.6L416.8 186.6L417.3 186.6L417.8 186.6L418.3 186.6L418.8 186.6L419.3 186.6L419.8 186.6L420.3 186.6L420.8 186.6L421.3 186.6L421.8 186.6L422.3 186.6L422.8 186.7L423.3 186.7L423.8 186.7L424.3 186.7L424.8 186.7L425.3 186.7L425.8 186.7L426.3 186.7L426.8 186.7L427.3 186.7L427.8 186.7L428.3 186.7L428.8 186.7L429.3 186.7L429.8 186.7L430.3 186.7L430.8 186.7L431.3 186.7L431.8 186.7L432.3 186.7L432.8 186.7L433.3 186.8L433.8 186.8L434.3 186.8L434.8 186.8L435.3 186.8L435.8 186.8L436.3 186.8L436.8 186.8L437.3 186.8L437.8 186.8L438.3 186.8L438.8 186.8L439.3 186.8L439.8 186.8L440.3 186.8L440.8 186.8L441.3 186.8L441.8 186.8L442.3 186.8L442.8 186.8L443.3 186.8L443.8 186.8L444.3 186.9L444.8 186.9L445.3 186.9L445.8 186.9L446.3 186.9L446.8 186.9L447.3 186.9L447.8 186.9L448.3 186.9L448.8 186.9L449.3 186.9L449.8 186.9L450.3 186.9L450.8 186.9L451.3 186.9L451.8 186.9L452.3 186.9L452.8 186.9L453.3 186.9L453.8 186.9L454.3 186.9L454.8 187L455.3 187L455.8 187L456.3 187L456.8 187L457.3 187L457.8 187L458.3 187L458.8 187L459.3 187L459.8 187L460.3 187L460.8 187L461.3 187L461.8 187L462.3 187L462.8 187L463.3 187L463.8 187L464.3 187L464.8 187L465.3 187.1L465.8 187.1L466.3 187.1L466.8 187.1L467.3 187.1L467.8 187.1L468.3 187.1L468.8 187.1L469.3 187.1L469.8 187.1L470.3 187.1L470.8 187.1L471.3 187.1L471.8 187.1L472.3 187.1L472.8 187.1L473.3 187.1L473.8 187.1L474.3 187.1L474.8 187.1L475.3 187.1L475.8 187.2L476.3 187.2L476.8 187.2L477.3 187.2L477.8 187.2L478.3 187.2L478.8 187.2L479.3 187.2L479.8 187.2L480.3 187.2L480.8 187.2L481.3 187.2L481.8 187.2L482.3 187.2L482.8 187.2L483.3 187.2L483.8 187.2L484.3 187.2L484.8 187.2L485.3 187.2L485.8 187.2L486.3 187.2L486.8 187.3L487.3 187.3L487.8 187.3L488.3 187.3L488.8 187.3L489.3 187.3L489.8 187.3L490.3 187.3L490.8 187.3L491.3 187.3L491.8 187.3L492.3 187.3L492.8 187.3L493.3 187.3L493.8 187.3L494.3 187.3L494.8 187.3L495.3 187.3L495.8 187.3L496.3 187.3L496.8 187.3L497.3 187.4L497.8 187.4L498.3 187.4L498.8 187.4L499.3 187.4L499.8 187.4L500.3 187.4L500.8 187.4L501.3 187.4L501.8 187.4L502.3 187.4L502.8 187.4L503.3 187.4L503.8 187.4L504.3 187.4L504.8 187.4L505.3 187.4L505.8 187.4L506.3 187.4L506.8 187.4L507.3 187.4L507.8 187.5L508.3 187.5L508.8 187.5L509.3 187.5L509.8 187.5L510.3 187.5L510.8 187.5L511.3 187.5L511.8 187.5L512.3 187.5L512.8 187.5L513.3 187.5L513.8 187.5L514.3 187.5L514.8 187.5L515.3 187.5L515.8 187.5L516.3 187.5L516.8 187.5L517.3 187.5L517.8 187.5L518.3 187.5L518.8 187.6L519.3 187.6L519.8 187.6L520.3 187.6L520.8 187.6L521.3 187.6L521.8 187.6L522.3 187.6L522.8 187.6L523.3 187.6L523.8 187.6L524.3 187.6L524.8 187.6L525.3 187.6L525.8 187.6L526.3 187.6L526.8 187.6L527.3 187.6L527.8 187.6L528.3 187.6L528.8 187.6L529.3 187.7L529.8 187.7L530.3 187.7L530.8 187.7L531.3 187.7L531.8 187.7L532.3 187.7L532.8 187.7L533.3 187.7L533.8 187.7L534.3 187.7L534.8 187.7L535.3 187.7L535.8 187.7L536.3 187.7L536.8 187.7L537.3 187.7L537.8 187.7L538.3 187.7L538.8 187.7L539.3 187.7L539.8 187.8L540.3 187.8L540.8 187.8L541.3 187.8L541.8 187.8L542.3 187.8L542.8 187.8L543.3 187.8L543.8 187.8L544.3 187.8L544.8 187.8L545.3 187.8L545.8 187.8L546.3 187.8L546.8 187.8L547.3 187.8L547.8 187.8L548.3 187.8L548.8 187.8L549.3 187.8L549.8 187.8L550.3 187.9L550.8 187.9L551.3 187.9L551.8 187.9L552.3 187.9L552.8 187.9L553.3 187.9L553.8 187.9L554.3 187.9L554.8 187.9L555.3 187.9L555.8 187.9L556.3 187.9L556.8 187.9L557.3 187.9L557.8 187.9L558.3 187.9L558.8 187.9L559.3 187.9L559.8 187.9L560.3 187.9L560.8 187.9L561.3 188L561.8 188L562.3 188L562.8 188L563.3 188L563.8 188L564.3 188L564.8 188L565.3 188L565.8 188L566.3 188L566.8 188L567.3 188L567.8 188L568.3 188L568.8 188L569.3 188L569.8 188L570.3 188L570.8 188L571.3 188L571.8 188.1L572.3 188.1L572.8 188.1L573.3 188.1L573.8 188.1L574.3 188.1L574.8 188.1L575.3 188.1L575.8 188.1L576.3 188.1L576.8 188.1L577.3 188.1L577.8 188.1L578.3 188.1L578.8 188.1L579.3 188.1L579.8 188.1L580.3 188.1L580.8 188.1L581.3 188.1L581.8 188.1L582.3 188.2L582.8 188.2L583.3 188.2L583.8 188.2L584.3 188.2L584.8 188.2L585.3 188.2L585.8 188.2L586.3 188.2L586.8 188.2L587.3 188.2L587.8 188.2L588.3 188.2L588.8 188.2L589.3 188.2L589.8 188.2L590.3 188.2L590.8 188.2L591.3 188.2L591.8 188.2L592.3 188.2L592.8 188.2L593.3 188.3L593.8 188.3L594.3 188.3L594.8 188.3L595.3 188.3L595.8 188.3L596.3 188.3L596.8 188.3L597.3 188.3L597.8 188.3L598.3 188.3L598.8 188.3L599.3 188.3L599.8 188.3L600.3 188.3L600.8 188.3L601.3 188.3L601.8 188.3L602.3 188.3L602.8 188.3L603.3 188.3L603.8 188.4L604.3 188.4L604.8 188.4L605.3 188.4L605.8 188.4L606.3 188.4L606.8 188.4L607.3 188.4L607.8 188.4L608.3 188.4L608.8 188.4L609.3 188.4L609.8 188.4L610.3 188.4L610.8 188.4L611.3 188.4L611.8 188.4L612.3 188.4L612.8 188.4L613.3 188.4L613.8 188.4L614.3 188.5L614.8 188.5L615.3 188.5L615.8 188.5L616.3 188.5L616.8 188.5L617.3 188.5L617.8 188.5L618.3 188.5L618.8 188.5L619.3 188.5" fill="none" stroke="#6a5af0" stroke-width="0.8"/>
<path d="M342.8 182.5L343.3 182L343.8 182.2L344.3 182.9L344.8 182.7L345.3 182.8L345.8 182.9L346.3 182.8L346.8 183L347.3 182.9L347.8 182.8L348.3 182.5L348.8 182.7L349.3 182.9L349.8 183L350.3 182.6L350.8 182.5L351.3 182.6L351.8 182.6L352.3 182.2L352.8 181.3L353.3 180.6L353.8 180.2L354.3 179.4L354.8 178.6L355.3 178.5L355.8 178.8L356.3 179L356.8 179.6L357.3 180.9L357.8 181.6L358.3 182.2L358.8 182.4L359.3 182.6L359.8 182.5L360.3 182.6L360.8 182.5L361.3 182.5L361.8 183L362.3 182.8L362.8 183L363.3 182.6L363.8 182.9L364.3 182.5L364.8 182L365.3 181.8L365.8 181.9L366.3 182.6L366.8 183L367.3 182.7L367.8 182.2L368.3 182L368.8 182.1L369.3 182.2L369.8 182.5L370.3 182.5L370.8 182.4L371.3 182.2L371.8 181.7L372.3 181.9L372.8 182.3L373.3 182.3L373.8 182.6L374.3 182.7L374.8 182.8L375.3 182.8L375.8 182.9L376.3 182.8L376.8 182.8L377.3 182.7L377.8 182.4L378.3 182.3L378.8 182.4L379.3 182.1L379.8 181.7L380.3 182L380.8 182.7L381.3 182.7L381.8 182.6L382.3 182.8L382.8 182.7L383.3 182.8L383.8 182.7L384.3 182.4L384.8 182.3L385.3 181.8L385.8 181.1L386.3 181.1L386.8 181.1L387.3 180L387.8 180.2L388.3 180.8L388.8 180.9L389.3 180.9L389.8 180.7L390.3 181.4L390.8 182.2L391.3 182.4L391.8 182.5L392.3 182.3L392.8 182.4L393.3 182.6L393.8 182.5L394.3 182.6L394.8 182.1L395.3 181.9L395.8 182.3L396.3 182.4L396.8 182.5L397.3 182.4L397.8 182L398.3 181.3L398.8 181.2L399.3 181.9L399.8 182L400.3 182.1L400.8 181.3L401.3 180.8L401.8 181.6L402.3 181.5L402.8 181.2L403.3 180.8L403.8 180.5L404.3 180.4L404.8 180L405.3 179.4L405.8 179.2L406.3 179.2L406.8 179.5L407.3 178.8L407.8 178.2L408.3 178.5L408.8 179.5L409.3 180L409.8 179.9L410.3 179.6L410.8 179.6L411.3 179.8L411.8 180.3L412.3 181.2L412.8 180.7L413.3 180.5L413.8 180.4L414.3 180.4L414.8 180.7L415.3 181L415.8 181L416.3 180.5L416.8 180.1L417.3 180.6L417.8 180.7L418.3 180.2L418.8 180.5L419.3 180.7L419.8 180.5L420.3 179.5L420.8 178.8L421.3 178.5L421.8 178.8L422.3 179.6L422.8 179.7L423.3 179.4L423.8 179.1L424.3 179L424.8 179.1L425.3 178.9L425.8 178.2L426.3 177.9L426.8 177.8L427.3 177.7L427.8 177.6L428.3 176.8L428.8 176.2L429.3 175.9L429.8 175.8L430.3 175.7L430.8 175.1L431.3 174.7L431.8 174.5L432.3 174.4L432.8 174L433.3 173.9L433.8 173.4L434.3 173.1L434.8 172.5L435.3 171.9L435.8 171.5L436.3 171.1L436.8 170.6L437.3 169.6L437.8 168.6L438.3 168.3L438.8 167.6L439.3 166.8L439.8 165.3L440.3 164.1L440.8 163.3L441.3 162.5L441.8 161.3L442.3 160.1L442.8 158.7L443.3 157.1L443.8 155.9L444.3 154L444.8 152.5L445.3 151L445.8 149.4L446.3 148L446.8 146.5L447.3 145.1L447.8 143.6L448.3 142.2L448.8 140.8L449.3 139.4L449.8 138.3L450.3 137.3L450.8 136.2L451.3 135.8L451.8 135.6L452.3 135.6L452.8 135.7L453.3 136L453.8 136.5L454.3 137.2L454.8 138.3L455.3 139.5L455.8 140.8L456.3 142.3L456.8 143.8L457.3 145.6L457.8 147.2L458.3 148.9L458.8 150.5L459.3 152.2L459.8 153.7L460.3 155.2L460.8 156.7L461.3 158.1L461.8 159.4L462.3 160.6L462.8 161.8L463.3 162.9L463.8 164L464.3 165L464.8 165.9L465.3 166.8L465.8 167.6L466.3 168.4L466.8 169.2L467.3 169.8L467.8 170.5L468.3 171.1L468.8 171.6L469.3 172.2L469.8 172.6L470.3 173.1L470.8 173.5L471.3 173.9L471.8 174.2L472.3 174.6L472.8 174.9L473.3 175.1L473.8 175.4L474.3 175.6L474.8 175.8L475.3 176L475.8 176.1L476.3 176.3L476.8 176.4L477.3 176.5L477.8 176.6L478.3 176.7L478.8 176.8L479.3 176.9L479.8 177L480.3 177L480.8 177.1L481.3 177.1L481.8 177.2L482.3 177.2L482.8 177.2L483.3 177.3L483.8 177.3L484.3 177.2L484.8 177.2L485.3 177.1L485.8 177L486.3 176.9L486.8 176.7L487.3 176.5L487.8 176.2L488.3 175.9L488.8 175.5L489.3 175.1L489.8 174.6L490.3 174L490.8 173.3L491.3 172.6L491.8 171.7L492.3 170.8L492.8 169.8L493.3 168.7L493.8 167.4L494.3 166.1L494.8 164.7L495.3 163.1L495.8 161.5L496.3 159.7L496.8 157.9L497.3 155.9L497.8 153.9L498.3 151.8L498.8 149.6L499.3 147.3L499.8 145L500.3 142.7L500.8 140.4L501.3 138.1L501.8 135.7L502.3 133.5L502.8 131.3L503.3 129.2L503.8 127.2L504.3 125.4L504.8 123.7L505.3 122.2L505.8 120.9L506.3 119.8L506.8 119L507.3 118.4L507.8 118.3L508.3 118.7L508.8 119.5L509.3 120.6L509.8 121.8L510.3 123.3L510.8 124.8L511.3 126.3L511.8 127.8L512.3 129.4L512.8 130.9L513.3 132.5L513.8 134.2L514.3 135.9L514.8 137.9L515.3 140L515.8 142.3L516.3 144.7L516.8 147.3L517.3 150L517.8 152.7L518.3 155.4L518.8 158L519.3 160.5L519.8 162.9L520.3 165.2L520.8 167.2L521.3 169.1L521.8 170.9L522.3 172.4L522.8 173.8L523.3 175L523.8 176.1L524.3 177.1L524.8 177.9L525.3 178.6L525.8 179.2L526.3 179.8L526.8 180.2L527.3 180.7L527.8 181L528.3 181.3L528.8 181.6L529.3 181.9L529.8 182.1L530.3 182.3L530.8 182.5L531.3 182.6L531.8 182.8L532.3 182.9L532.8 183.1L533.3 183.2L533.8 183.3L534.3 183.4L534.8 183.5L535.3 183.6L535.8 183.7L536.3 183.8L536.8 183.9L537.3 184L537.8 184.1L538.3 184.1L538.8 184.2L539.3 184.3L539.8 184.4L540.3 184.4L540.8 184.5L541.3 184.5L541.8 184.6L542.3 184.6L542.8 184.7L543.3 184.8L543.8 184.8L544.3 184.8L544.8 184.9L545.3 184.9L545.8 185L546.3 185L546.8 185.1L547.3 185.1L547.8 185.1L548.3 185.2L548.8 185.2L549.3 185.2L549.8 185.3L550.3 185.3L550.8 185.3L551.3 185.4L551.8 185.4L552.3 185.4L552.8 185.5L553.3 185.5L553.8 185.5L554.3 185.5L554.8 185.6L555.3 185.6L555.8 185.6L556.3 185.6L556.8 185.7L557.3 185.7L557.8 185.7L558.3 185.7L558.8 185.8L559.3 185.8L559.8 185.8L560.3 185.8L560.8 185.8L561.3 185.9L561.8 185.9L562.3 185.9L562.8 185.9L563.3 185.9L563.8 186L564.3 186L564.8 186L565.3 186L565.8 186L566.3 186L566.8 186.1L567.3 186.1L567.8 186.1L568.3 186.1L568.8 186.1L569.3 186.1L569.8 186.1L570.3 186.2L570.8 186.2L571.3 186.2L571.8 186.2L572.3 186.2L572.8 186.2L573.3 186.2L573.8 186.3L574.3 186.3L574.8 186.3L575.3 186.3L575.8 186.3L576.3 186.3L576.8 186.3L577.3 186.3L577.8 186.4L578.3 186.4L578.8 186.4L579.3 186.4L579.8 186.4L580.3 186.4L580.8 186.4L581.3 186.3L581.8 186.3L582.3 186.2L582.8 186L583.3 185.9L583.8 185.7L584.3 185.6L584.8 185.5L585.3 185.5L585.8 185.6L586.3 185.8L586.8 186L587.3 186.1L587.8 186.3L588.3 186.4L588.8 186.5L589.3 186.6L589.8 186.6L590.3 186.6L590.8 186.6L591.3 186.6L591.8 186.7L592.3 186.7L592.8 186.7L593.3 186.7L593.8 186.7L594.3 186.7L594.8 186.7L595.3 186.7L595.8 186.7L596.3 186.7L596.8 186.7L597.3 186.8L597.8 186.8L598.3 186.8L598.8 186.8L599.3 186.8L599.8 186.8L600.3 186.8L600.8 186.8L601.3 186.8L601.8 186.8L602.3 186.8L602.8 186.8L603.3 186.9L603.8 186.9L604.3 186.9L604.8 186.9L605.3 186.9L605.8 186.9L606.3 186.9L606.8 186.9L607.3 186.9L607.8 186.9L608.3 186.8L608.8 186.8L609.3 186.7L609.8 186.6L610.3 186.5L610.8 186.3L611.3 186.2L611.8 186.2L612.3 186.2L612.8 186.3L613.3 186.4L613.8 186.5L614.3 186.7L614.8 186.8L615.3 186.9L615.8 187L616.3 187L616.8 187L617.3 187.1L617.8 187.1L618.3 187.1L618.8 187.1L619.3 187.1" fill="none" stroke="#a8adad" stroke-width="0.9"/>
<path d="M342.8 184.3L343.3 184.3L343.8 184.3L344.3 184.3L344.8 184.3L345.3 184.3L345.8 184.3L346.3 184.3L346.8 184.3L347.3 184.3L347.8 184.3L348.3 184.3L348.8 184.3L349.3 184.3L349.8 184.3L350.3 184.3L350.8 184.3L351.3 184.3L351.8 184.3L352.3 184.3L352.8 184.3L353.3 184.3L353.8 184.3L354.3 184.3L354.8 184.3L355.3 184.3L355.8 184.3L356.3 184.3L356.8 184.3L357.3 184.3L357.8 184.3L358.3 184.3L358.8 184.3L359.3 184.3L359.8 184.3L360.3 184.3L360.8 184.3L361.3 184.3L361.8 184.3L362.3 184.3L362.8 184.3L363.3 184.3L363.8 184.3L364.3 184.3L364.8 184.3L365.3 184.3L365.8 184.3L366.3 184.3L366.8 184.3L367.3 184.3L367.8 184.3L368.3 184.3L368.8 184.2L369.3 184.2L369.8 184.2L370.3 184.2L370.8 184.2L371.3 184.2L371.8 184.2L372.3 184.2L372.8 184.2L373.3 184.2L373.8 184.2L374.3 184.2L374.8 184.2L375.3 184.2L375.8 184.2L376.3 184.2L376.8 184.2L377.3 184.2L377.8 184.1L378.3 184.1L378.8 184.1L379.3 184.1L379.8 184.1L380.3 184.1L380.8 184.1L381.3 184.1L381.8 184.1L382.3 184.1L382.8 184.1L383.3 184.1L383.8 184L384.3 184L384.8 184L385.3 184L385.8 184L386.3 184L386.8 184L387.3 184L387.8 183.9L388.3 183.9L388.8 183.9L389.3 183.9L389.8 183.9L390.3 183.9L390.8 183.9L391.3 183.8L391.8 183.8L392.3 183.8L392.8 183.8L393.3 183.8L393.8 183.8L394.3 183.7L394.8 183.7L395.3 183.7L395.8 183.7L396.3 183.7L396.8 183.6L397.3 183.6L397.8 183.6L398.3 183.6L398.8 183.5L399.3 183.5L399.8 183.5L400.3 183.5L400.8 183.4L401.3 183.4L401.8 183.4L402.3 183.3L402.8 183.3L403.3 183.3L403.8 183.2L404.3 183.2L404.8 183.2L405.3 183.1L405.8 183.1L406.3 183L406.8 183L407.3 183L407.8 182.9L408.3 182.9L408.8 182.8L409.3 182.8L409.8 182.7L410.3 182.7L410.8 182.6L411.3 182.6L411.8 182.5L412.3 182.4L412.8 182.4L413.3 182.3L413.8 182.2L414.3 182.2L414.8 182.1L415.3 182L415.8 181.9L416.3 181.8L416.8 181.8L417.3 181.7L417.8 181.6L418.3 181.5L418.8 181.4L419.3 181.4L419.8 181.3L420.3 181.2L420.8 181.1L421.3 181L421.8 180.9L422.3 180.8L422.8 180.7L423.3 180.5L423.8 180.4L424.3 180.3L424.8 180.1L425.3 180L425.8 179.8L426.3 179.7L426.8 179.5L427.3 179.3L427.8 179.1L428.3 178.9L428.8 178.6L429.3 178.4L429.8 178.1L430.3 177.8L430.8 177.5L431.3 177.2L431.8 176.9L432.3 176.5L432.8 176.1L433.3 175.7L433.8 175.2L434.3 174.7L434.8 174.2L435.3 173.6L435.8 173L436.3 172.4L436.8 171.7L437.3 170.9L437.8 170.2L438.3 169.3L438.8 168.4L439.3 167.5L439.8 166.5L440.3 165.4L440.8 164.3L441.3 163.1L441.8 161.9L442.3 160.6L442.8 159.2L443.3 157.8L443.8 156.3L444.3 154.8L444.8 153.3L445.3 151.7L445.8 150.1L446.3 148.5L446.8 146.9L447.3 145.3L447.8 143.7L448.3 142.2L448.8 140.8L449.3 139.5L449.8 138.4L450.3 137.4L450.8 136.6L451.3 136L451.8 135.6L452.3 135.4L452.8 135.5L453.3 135.8L453.8 136.4L454.3 137.1L454.8 138.1L455.3 139.3L455.8 140.6L456.3 142L456.8 143.5L457.3 145.1L457.8 146.7L458.3 148.3L458.8 149.9L459.3 151.4L459.8 153L460.3 154.4L460.8 155.9L461.3 157.3L461.8 158.6L462.3 159.8L462.8 161L463.3 162.1L463.8 163.2L464.3 164.2L464.8 165.1L465.3 166L465.8 166.8L466.3 167.6L466.8 168.4L467.3 169L467.8 169.7L468.3 170.3L468.8 170.8L469.3 171.4L469.8 171.8L470.3 172.3L470.8 172.7L471.3 173.1L471.8 173.4L472.3 173.8L472.8 174.1L473.3 174.3L473.8 174.6L474.3 174.8L474.8 175L475.3 175.2L475.8 175.3L476.3 175.5L476.8 175.6L477.3 175.7L477.8 175.8L478.3 175.9L478.8 176L479.3 176.1L479.8 176.2L480.3 176.2L480.8 176.3L481.3 176.3L481.8 176.4L482.3 176.4L482.8 176.4L483.3 176.5L483.8 176.5L484.3 176.4L484.8 176.4L485.3 176.3L485.8 176.2L486.3 176.1L486.8 175.9L487.3 175.7L487.8 175.4L488.3 175.1L488.8 174.7L489.3 174.3L489.8 173.8L490.3 173.2L490.8 172.5L491.3 171.8L491.8 170.9L492.3 170L492.8 169L493.3 167.9L493.8 166.6L494.3 165.3L494.8 163.9L495.3 162.3L495.8 160.7L496.3 158.9L496.8 157.1L497.3 155.1L497.8 153.1L498.3 151L498.8 148.8L499.3 146.5L499.8 144.2L500.3 141.9L500.8 139.6L501.3 137.3L501.8 134.9L502.3 132.7L502.8 130.5L503.3 128.4L503.8 126.4L504.3 124.6L504.8 122.9L505.3 121.4L505.8 120.1L506.3 119L506.8 118.2L507.3 117.6L507.8 117.5L508.3 117.9L508.8 118.7L509.3 119.8L509.8 121L510.3 122.5L510.8 124L511.3 125.5L511.8 127L512.3 128.6L512.8 130.1L513.3 131.7L513.8 133.4L514.3 135.1L514.8 137.1L515.3 139.2L515.8 141.5L516.3 143.9L516.8 146.5L517.3 149.2L517.8 151.9L518.3 154.6L518.8 157.2L519.3 159.7L519.8 162.1L520.3 164.4L520.8 166.4L521.3 168.3L521.8 170.1L522.3 171.6L522.8 173L523.3 174.2L523.8 175.3L524.3 176.3L524.8 177.1L525.3 177.8L525.8 178.4L526.3 179L526.8 179.4L527.3 179.9L527.8 180.2L528.3 180.5L528.8 180.8L529.3 181.1L529.8 181.3L530.3 181.5L530.8 181.7L531.3 181.8L531.8 182L532.3 182.1L532.8 182.3L533.3 182.4L533.8 182.5L534.3 182.6L534.8 182.7L535.3 182.8L535.8 183L536.3 183.1L536.8 183.2L537.3 183.3L537.8 183.4L538.3 183.5L538.8 183.6L539.3 183.7L539.8 183.7L540.3 183.8L540.8 183.9L541.3 184L541.8 184L542.3 184.1L542.8 184.2L543.3 184.2L543.8 184.3L544.3 184.4L544.8 184.4L545.3 184.5L545.8 184.5L546.3 184.6L546.8 184.6L547.3 184.7L547.8 184.7L548.3 184.8L548.8 184.8L549.3 184.8L549.8 184.9L550.3 184.9L550.8 185L551.3 185L551.8 185L552.3 185.1L552.8 185.1L553.3 185.1L553.8 185.2L554.3 185.2L554.8 185.2L555.3 185.3L555.8 185.3L556.3 185.3L556.8 185.4L557.3 185.4L557.8 185.4L558.3 185.4L558.8 185.5L559.3 185.5L559.8 185.5L560.3 185.5L560.8 185.6L561.3 185.6L561.8 185.6L562.3 185.6L562.8 185.7L563.3 185.7L563.8 185.7L564.3 185.7L564.8 185.8L565.3 185.8L565.8 185.8L566.3 185.8L566.8 185.8L567.3 185.8L567.8 185.9L568.3 185.9L568.8 185.9L569.3 185.9L569.8 185.9L570.3 186L570.8 186L571.3 186L571.8 186L572.3 186L572.8 186L573.3 186.1L573.8 186.1L574.3 186.1L574.8 186.1L575.3 186.1L575.8 186.1L576.3 186.1L576.8 186.2L577.3 186.2L577.8 186.2L578.3 186.2L578.8 186.2L579.3 186.2L579.8 186.2L580.3 186.3L580.8 186.3L581.3 186.3L581.8 186.3L582.3 186.3L582.8 186.3L583.3 186.3L583.8 186.3L584.3 186.4L584.8 186.4L585.3 186.4L585.8 186.4L586.3 186.4L586.8 186.4L587.3 186.4L587.8 186.4L588.3 186.5L588.8 186.5L589.3 186.5L589.8 186.5L590.3 186.5L590.8 186.5L591.3 186.5L591.8 186.5L592.3 186.5L592.8 186.5L593.3 186.6L593.8 186.6L594.3 186.6L594.8 186.6L595.3 186.6L595.8 186.6L596.3 186.6L596.8 186.6L597.3 186.6L597.8 186.6L598.3 186.7L598.8 186.7L599.3 186.7L599.8 186.7L600.3 186.7L600.8 186.7L601.3 186.7L601.8 186.7L602.3 186.7L602.8 186.7L603.3 186.8L603.8 186.8L604.3 186.8L604.8 186.8L605.3 186.8L605.8 186.8L606.3 186.8L606.8 186.8L607.3 186.8L607.8 186.8L608.3 186.8L608.8 186.8L609.3 186.9L609.8 186.9L610.3 186.9L610.8 186.9L611.3 186.9L611.8 186.9L612.3 186.9L612.8 186.9L613.3 186.9L613.8 186.9L614.3 186.9L614.8 186.9L615.3 187L615.8 187L616.3 187L616.8 187L617.3 187L617.8 187L618.3 187L618.8 187L619.3 187" fill="none" stroke="#000" stroke-width="1.6"/>
<path d="M342.8 184.5L343.3 184.5L343.8 184.5L344.3 184.5L344.8 184.5L345.3 184.5L345.8 184.5L346.3 184.5L346.8 184.5L347.3 184.5L347.8 184.5L348.3 184.5L348.8 184.5L349.3 184.5L349.8 184.5L350.3 184.5L350.8 184.5L351.3 184.5L351.8 184.5L352.3 184.5L352.8 184.5L353.3 184.5L353.8 184.5L354.3 184.5L354.8 184.5L355.3 184.5L355.8 184.5L356.3 184.5L356.8 184.5L357.3 184.5L357.8 184.5L358.3 184.5L358.8 184.5L359.3 184.5L359.8 184.5L360.3 184.5L360.8 184.5L361.3 184.5L361.8 184.5L362.3 184.5L362.8 184.5L363.3 184.5L363.8 184.5L364.3 184.5L364.8 184.5L365.3 184.5L365.8 184.5L366.3 184.5L366.8 184.5L367.3 184.5L367.8 184.5L368.3 184.5L368.8 184.5L369.3 184.5L369.8 184.5L370.3 184.5L370.8 184.5L371.3 184.5L371.8 184.5L372.3 184.5L372.8 184.5L373.3 184.5L373.8 184.5L374.3 184.5L374.8 184.5L375.3 184.5L375.8 184.5L376.3 184.5L376.8 184.5L377.3 184.5L377.8 184.5L378.3 184.5L378.8 184.5L379.3 184.5L379.8 184.5L380.3 184.5L380.8 184.5L381.3 184.4L381.8 184.4L382.3 184.4L382.8 184.4L383.3 184.4L383.8 184.4L384.3 184.4L384.8 184.4L385.3 184.4L385.8 184.4L386.3 184.4L386.8 184.4L387.3 184.4L387.8 184.4L388.3 184.4L388.8 184.3L389.3 184.3L389.8 184.3L390.3 184.3L390.8 184.3L391.3 184.3L391.8 184.3L392.3 184.3L392.8 184.3L393.3 184.3L393.8 184.2L394.3 184.2L394.8 184.2L395.3 184.2L395.8 184.2L396.3 184.2L396.8 184.2L397.3 184.1L397.8 184.1L398.3 184.1L398.8 184.1L399.3 184.1L399.8 184.1L400.3 184L400.8 184L401.3 184L401.8 184L402.3 184L402.8 183.9L403.3 183.9L403.8 183.9L404.3 183.9L404.8 183.8L405.3 183.8L405.8 183.8L406.3 183.7L406.8 183.7L407.3 183.7L407.8 183.7L408.3 183.6L408.8 183.6L409.3 183.5L409.8 183.5L410.3 183.5L410.8 183.4L411.3 183.4L411.8 183.3L412.3 183.3L412.8 183.3L413.3 183.2L413.8 183.2L414.3 183.1L414.8 183L415.3 183L415.8 182.9L416.3 182.9L416.8 182.8L417.3 182.7L417.8 182.7L418.3 182.6L418.8 182.5L419.3 182.4L419.8 182.4L420.3 182.3L420.8 182.2L421.3 182.1L421.8 182L422.3 181.9L422.8 181.8L423.3 181.6L423.8 181.5L424.3 181.4L424.8 181.2L425.3 181.1L425.8 180.9L426.3 180.8L426.8 180.6L427.3 180.4L427.8 180.2L428.3 180L428.8 179.8L429.3 179.5L429.8 179.3L430.3 179L430.8 178.7L431.3 178.4L431.8 178L432.3 177.7L432.8 177.3L433.3 176.9L433.8 176.4L434.3 175.9L434.8 175.4L435.3 174.8L435.8 174.2L436.3 173.6L436.8 172.9L437.3 172.2L437.8 171.4L438.3 170.5L438.8 169.7L439.3 168.7L439.8 167.7L440.3 166.7L440.8 165.5L441.3 164.4L441.8 163.1L442.3 161.8L442.8 160.5L443.3 159.1L443.8 157.6L444.3 156.1L444.8 154.6L445.3 153L445.8 151.4L446.3 149.8L446.8 148.2L447.3 146.6L447.8 145.1L448.3 143.6L448.8 142.2L449.3 140.9L449.8 139.8L450.3 138.8L450.8 138L451.3 137.4L451.8 137L452.3 136.9L452.8 137L453.3 137.3L453.8 137.9L454.3 138.7L454.8 139.7L455.3 140.8L455.8 142.2L456.3 143.6L456.8 145.1L457.3 146.7L457.8 148.3L458.3 149.9L458.8 151.5L459.3 153.1L459.8 154.7L460.3 156.2L460.8 157.6L461.3 159L461.8 160.3L462.3 161.6L462.8 162.8L463.3 164L463.8 165.1L464.3 166.1L464.8 167L465.3 168L465.8 168.8L466.3 169.6L466.8 170.4L467.3 171.1L467.8 171.8L468.3 172.4L468.8 173L469.3 173.6L469.8 174.1L470.3 174.6L470.8 175.1L471.3 175.6L471.8 176L472.3 176.4L472.8 176.8L473.3 177.2L473.8 177.5L474.3 177.8L474.8 178.1L475.3 178.4L475.8 178.7L476.3 179L476.8 179.2L477.3 179.5L477.8 179.7L478.3 179.9L478.8 180.1L479.3 180.3L479.8 180.5L480.3 180.7L480.8 180.9L481.3 181L481.8 181.2L482.3 181.3L482.8 181.5L483.3 181.6L483.8 181.7L484.3 181.9L484.8 182L485.3 182.1L485.8 182.2L486.3 182.3L486.8 182.5L487.3 182.6L487.8 182.7L488.3 182.7L488.8 182.8L489.3 182.9L489.8 183L490.3 183.1L490.8 183.2L491.3 183.3L491.8 183.3L492.3 183.4L492.8 183.5L493.3 183.5L493.8 183.6L494.3 183.7L494.8 183.7L495.3 183.8L495.8 183.8L496.3 183.9L496.8 184L497.3 184L497.8 184.1L498.3 184.1L498.8 184.2L499.3 184.2L499.8 184.3L500.3 184.3L500.8 184.3L501.3 184.4L501.8 184.4L502.3 184.5L502.8 184.5L503.3 184.5L503.8 184.6L504.3 184.6L504.8 184.7L505.3 184.7L505.8 184.7L506.3 184.8L506.8 184.8L507.3 184.8L507.8 184.9L508.3 184.9L508.8 184.9L509.3 184.9L509.8 185L510.3 185L510.8 185L511.3 185.1L511.8 185.1L512.3 185.1L512.8 185.1L513.3 185.2L513.8 185.2L514.3 185.2L514.8 185.2L515.3 185.3L515.8 185.3L516.3 185.3L516.8 185.3L517.3 185.3L517.8 185.4L518.3 185.4L518.8 185.4L519.3 185.4L519.8 185.4L520.3 185.5L520.8 185.5L521.3 185.5L521.8 185.5L522.3 185.5L522.8 185.6L523.3 185.6L523.8 185.6L524.3 185.6L524.8 185.6L525.3 185.6L525.8 185.7L526.3 185.7L526.8 185.7L527.3 185.7L527.8 185.7L528.3 185.7L528.8 185.7L529.3 185.8L529.8 185.8L530.3 185.8L530.8 185.8L531.3 185.8L531.8 185.8L532.3 185.9L532.8 185.9L533.3 185.9L533.8 185.9L534.3 185.9L534.8 185.9L535.3 185.9L535.8 185.9L536.3 186L536.8 186L537.3 186L537.8 186L538.3 186L538.8 186L539.3 186L539.8 186L540.3 186.1L540.8 186.1L541.3 186.1L541.8 186.1L542.3 186.1L542.8 186.1L543.3 186.1L543.8 186.1L544.3 186.1L544.8 186.1L545.3 186.2L545.8 186.2L546.3 186.2L546.8 186.2L547.3 186.2L547.8 186.2L548.3 186.2L548.8 186.2L549.3 186.2L549.8 186.3L550.3 186.3L550.8 186.3L551.3 186.3L551.8 186.3L552.3 186.3L552.8 186.3L553.3 186.3L553.8 186.3L554.3 186.3L554.8 186.3L555.3 186.4L555.8 186.4L556.3 186.4L556.8 186.4L557.3 186.4L557.8 186.4L558.3 186.4L558.8 186.4L559.3 186.4L559.8 186.4L560.3 186.4L560.8 186.4L561.3 186.5L561.8 186.5L562.3 186.5L562.8 186.5L563.3 186.5L563.8 186.5L564.3 186.5L564.8 186.5L565.3 186.5L565.8 186.5L566.3 186.5L566.8 186.5L567.3 186.6L567.8 186.6L568.3 186.6L568.8 186.6L569.3 186.6L569.8 186.6L570.3 186.6L570.8 186.6L571.3 186.6L571.8 186.6L572.3 186.6L572.8 186.6L573.3 186.6L573.8 186.7L574.3 186.7L574.8 186.7L575.3 186.7L575.8 186.7L576.3 186.7L576.8 186.7L577.3 186.7L577.8 186.7L578.3 186.7L578.8 186.7L579.3 186.7L579.8 186.7L580.3 186.7L580.8 186.8L581.3 186.8L581.8 186.8L582.3 186.8L582.8 186.8L583.3 186.8L583.8 186.8L584.3 186.8L584.8 186.8L585.3 186.8L585.8 186.8L586.3 186.8L586.8 186.8L587.3 186.8L587.8 186.8L588.3 186.9L588.8 186.9L589.3 186.9L589.8 186.9L590.3 186.9L590.8 186.9L591.3 186.9L591.8 186.9L592.3 186.9L592.8 186.9L593.3 186.9L593.8 186.9L594.3 186.9L594.8 186.9L595.3 186.9L595.8 186.9L596.3 187L596.8 187L597.3 187L597.8 187L598.3 187L598.8 187L599.3 187L599.8 187L600.3 187L600.8 187L601.3 187L601.8 187L602.3 187L602.8 187L603.3 187L603.8 187L604.3 187.1L604.8 187.1L605.3 187.1L605.8 187.1L606.3 187.1L606.8 187.1L607.3 187.1L607.8 187.1L608.3 187.1L608.8 187.1L609.3 187.1L609.8 187.1L610.3 187.1L610.8 187.1L611.3 187.1L611.8 187.1L612.3 187.1L612.8 187.2L613.3 187.2L613.8 187.2L614.3 187.2L614.8 187.2L615.3 187.2L615.8 187.2L616.3 187.2L616.8 187.2L617.3 187.2L617.8 187.2L618.3 187.2L618.8 187.2L619.3 187.2L619.3 187.4L618.8 187.4L618.3 187.4L617.8 187.4L617.3 187.4L616.8 187.4L616.3 187.4L615.8 187.4L615.3 187.4L614.8 187.4L614.3 187.4L613.8 187.3L613.3 187.3L612.8 187.3L612.3 187.3L611.8 187.3L611.3 187.3L610.8 187.3L610.3 187.3L609.8 187.3L609.3 187.3L608.8 187.3L608.3 187.3L607.8 187.3L607.3 187.3L606.8 187.3L606.3 187.3L605.8 187.3L605.3 187.3L604.8 187.3L604.3 187.3L603.8 187.3L603.3 187.2L602.8 187.2L602.3 187.2L601.8 187.2L601.3 187.2L600.8 187.2L600.3 187.2L599.8 187.2L599.3 187.2L598.8 187.2L598.3 187.2L597.8 187.2L597.3 187.2L596.8 187.2L596.3 187.2L595.8 187.2L595.3 187.2L594.8 187.2L594.3 187.2L593.8 187.2L593.3 187.2L592.8 187.2L592.3 187.1L591.8 187.1L591.3 187.1L590.8 187.1L590.3 187.1L589.8 187.1L589.3 187.1L588.8 187.1L588.3 187.1L587.8 187.1L587.3 187.1L586.8 187.1L586.3 187.1L585.8 187.1L585.3 187.1L584.8 187.1L584.3 187.1L583.8 187.1L583.3 187.1L582.8 187.1L582.3 187.1L581.8 187L581.3 187L580.8 187L580.3 187L579.8 187L579.3 187L578.8 187L578.3 187L577.8 187L577.3 187L576.8 187L576.3 187L575.8 187L575.3 187L574.8 187L574.3 187L573.8 187L573.3 187L572.8 187L572.3 187L571.8 187L571.3 186.9L570.8 186.9L570.3 186.9L569.8 186.9L569.3 186.9L568.8 186.9L568.3 186.9L567.8 186.9L567.3 186.9L566.8 186.9L566.3 186.9L565.8 186.9L565.3 186.9L564.8 186.9L564.3 186.9L563.8 186.9L563.3 186.9L562.8 186.9L562.3 186.9L561.8 186.9L561.3 186.9L560.8 186.8L560.3 186.8L559.8 186.8L559.3 186.8L558.8 186.8L558.3 186.8L557.8 186.8L557.3 186.8L556.8 186.8L556.3 186.8L555.8 186.8L555.3 186.8L554.8 186.8L554.3 186.8L553.8 186.8L553.3 186.8L552.8 186.8L552.3 186.8L551.8 186.8L551.3 186.8L550.8 186.8L550.3 186.8L549.8 186.7L549.3 186.7L548.8 186.7L548.3 186.7L547.8 186.7L547.3 186.7L546.8 186.7L546.3 186.7L545.8 186.7L545.3 186.7L544.8 186.7L544.3 186.7L543.8 186.7L543.3 186.7L542.8 186.7L542.3 186.7L541.8 186.7L541.3 186.7L540.8 186.7L540.3 186.7L539.8 186.7L539.3 186.6L538.8 186.6L538.3 186.6L537.8 186.6L537.3 186.6L536.8 186.6L536.3 186.6L535.8 186.6L535.3 186.6L534.8 186.6L534.3 186.6L533.8 186.6L533.3 186.6L532.8 186.6L532.3 186.6L531.8 186.6L531.3 186.6L530.8 186.6L530.3 186.6L529.8 186.6L529.3 186.6L528.8 186.5L528.3 186.5L527.8 186.5L527.3 186.5L526.8 186.5L526.3 186.5L525.8 186.5L525.3 186.5L524.8 186.5L524.3 186.5L523.8 186.5L523.3 186.5L522.8 186.5L522.3 186.5L521.8 186.5L521.3 186.5L520.8 186.5L520.3 186.5L519.8 186.5L519.3 186.5L518.8 186.5L518.3 186.4L517.8 186.4L517.3 186.4L516.8 186.4L516.3 186.4L515.8 186.4L515.3 186.4L514.8 186.4L514.3 186.4L513.8 186.4L513.3 186.4L512.8 186.4L512.3 186.4L511.8 186.4L511.3 186.4L510.8 186.4L510.3 186.4L509.8 186.4L509.3 186.4L508.8 186.4L508.3 186.4L507.8 186.4L507.3 186.3L506.8 186.3L506.3 186.3L505.8 186.3L505.3 186.3L504.8 186.3L504.3 186.3L503.8 186.3L503.3 186.3L502.8 186.3L502.3 186.3L501.8 186.3L501.3 186.3L500.8 186.3L500.3 186.3L499.8 186.3L499.3 186.3L498.8 186.3L498.3 186.3L497.8 186.3L497.3 186.3L496.8 186.2L496.3 186.2L495.8 186.2L495.3 186.2L494.8 186.2L494.3 186.2L493.8 186.2L493.3 186.2L492.8 186.2L492.3 186.2L491.8 186.2L491.3 186.2L490.8 186.2L490.3 186.2L489.8 186.2L489.3 186.2L488.8 186.2L488.3 186.2L487.8 186.2L487.3 186.2L486.8 186.2L486.3 186.1L485.8 186.1L485.3 186.1L484.8 186.1L484.3 186.1L483.8 186.1L483.3 186.1L482.8 186.1L482.3 186.1L481.8 186.1L481.3 186.1L480.8 186.1L480.3 186.1L479.8 186.1L479.3 186.1L478.8 186.1L478.3 186.1L477.8 186.1L477.3 186.1L476.8 186.1L476.3 186.1L475.8 186.1L475.3 186L474.8 186L474.3 186L473.8 186L473.3 186L472.8 186L472.3 186L471.8 186L471.3 186L470.8 186L470.3 186L469.8 186L469.3 186L468.8 186L468.3 186L467.8 186L467.3 186L466.8 186L466.3 186L465.8 186L465.3 186L464.8 185.9L464.3 185.9L463.8 185.9L463.3 185.9L462.8 185.9L462.3 185.9L461.8 185.9L461.3 185.9L460.8 185.9L460.3 185.9L459.8 185.9L459.3 185.9L458.8 185.9L458.3 185.9L457.8 185.9L457.3 185.9L456.8 185.9L456.3 185.9L455.8 185.9L455.3 185.9L454.8 185.9L454.3 185.8L453.8 185.8L453.3 185.8L452.8 185.8L452.3 185.8L451.8 185.8L451.3 185.8L450.8 185.8L450.3 185.8L449.8 185.8L449.3 185.8L448.8 185.8L448.3 185.8L447.8 185.8L447.3 185.8L446.8 185.8L446.3 185.8L445.8 185.8L445.3 185.8L444.8 185.8L444.3 185.8L443.8 185.7L443.3 185.7L442.8 185.7L442.3 185.7L441.8 185.7L441.3 185.7L440.8 185.7L440.3 185.7L439.8 185.7L439.3 185.7L438.8 185.7L438.3 185.7L437.8 185.7L437.3 185.7L436.8 185.7L436.3 185.7L435.8 185.7L435.3 185.7L434.8 185.7L434.3 185.7L433.8 185.7L433.3 185.7L432.8 185.6L432.3 185.6L431.8 185.6L431.3 185.6L430.8 185.6L430.3 185.6L429.8 185.6L429.3 185.6L428.8 185.6L428.3 185.6L427.8 185.6L427.3 185.6L426.8 185.6L426.3 185.6L425.8 185.6L425.3 185.6L424.8 185.6L424.3 185.6L423.8 185.6L423.3 185.6L422.8 185.6L422.3 185.5L421.8 185.5L421.3 185.5L420.8 185.5L420.3 185.5L419.8 185.5L419.3 185.5L418.8 185.5L418.3 185.5L417.8 185.5L417.3 185.5L416.8 185.5L416.3 185.5L415.8 185.5L415.3 185.5L414.8 185.5L414.3 185.5L413.8 185.5L413.3 185.5L412.8 185.5L412.3 185.5L411.8 185.4L411.3 185.4L410.8 185.4L410.3 185.4L409.8 185.4L409.3 185.4L408.8 185.4L408.3 185.4L407.8 185.4L407.3 185.4L406.8 185.4L406.3 185.4L405.8 185.4L405.3 185.4L404.8 185.4L404.3 185.4L403.8 185.4L403.3 185.4L402.8 185.4L402.3 185.4L401.8 185.4L401.3 185.3L400.8 185.3L400.3 185.3L399.8 185.3L399.3 185.3L398.8 185.3L398.3 185.3L397.8 185.3L397.3 185.3L396.8 185.3L396.3 185.3L395.8 185.3L395.3 185.3L394.8 185.3L394.3 185.3L393.8 185.3L393.3 185.3L392.8 185.3L392.3 185.3L391.8 185.3L391.3 185.3L390.8 185.3L390.3 185.2L389.8 185.2L389.3 185.2L388.8 185.2L388.3 185.2L387.8 185.2L387.3 185.2L386.8 185.2L386.3 185.2L385.8 185.2L385.3 185.2L384.8 185.2L384.3 185.2L383.8 185.2L383.3 185.2L382.8 185.2L382.3 185.2L381.8 185.2L381.3 185.2L380.8 185.2L380.3 185.2L379.8 185.1L379.3 185.1L378.8 185.1L378.3 185.1L377.8 185.1L377.3 185.1L376.8 185.1L376.3 185.1L375.8 185.1L375.3 185.1L374.8 185.1L374.3 185.1L373.8 185.1L373.3 185.1L372.8 185.1L372.3 185.1L371.8 185.1L371.3 185.1L370.8 185.1L370.3 185.1L369.8 185.1L369.3 185L368.8 185L368.3 185L367.8 185L367.3 185L366.8 185L366.3 185L365.8 185L365.3 185L364.8 185L364.3 185L363.8 185L363.3 185L362.8 185L362.3 185L361.8 185L361.3 185L360.8 185L360.3 185L359.8 185L359.3 185L358.8 185L358.3 184.9L357.8 184.9L357.3 184.9L356.8 184.9L356.3 184.9L355.8 184.9L355.3 184.9L354.8 184.9L354.3 184.9L353.8 184.9L353.3 184.9L352.8 184.9L352.3 184.9L351.8 184.9L351.3 184.9L350.8 184.9L350.3 184.9L349.8 184.9L349.3 184.9L348.8 184.9L348.3 184.9L347.8 184.8L347.3 184.8L346.8 184.8L346.3 184.8L345.8 184.8L345.3 184.8L344.8 184.8L344.3 184.8L343.8 184.8L343.3 184.8L342.8 184.8Z" fill="url(#gg16)"/>
<path d="M367.3 184.5L367.8 184.5L368.3 184.5L368.8 184.5L369.3 184.5L369.8 184.5L370.3 184.5L370.8 184.5L371.3 184.5L371.8 184.5L372.3 184.5L372.8 184.5L373.3 184.5L373.8 184.5L374.3 184.5L374.8 184.5L375.3 184.5L375.8 184.5L376.3 184.5L376.8 184.5L377.3 184.5L377.8 184.5L378.3 184.5L378.8 184.5L379.3 184.5L379.8 184.5L380.3 184.5L380.8 184.5L381.3 184.4L381.8 184.4L382.3 184.4L382.8 184.4L383.3 184.4L383.8 184.4L384.3 184.4L384.8 184.4L385.3 184.4L385.8 184.4L386.3 184.4L386.8 184.4L387.3 184.4L387.8 184.4L388.3 184.4L388.8 184.3L389.3 184.3L389.8 184.3L390.3 184.3L390.8 184.3L391.3 184.3L391.8 184.3L392.3 184.3L392.8 184.3L393.3 184.3L393.8 184.2L394.3 184.2L394.8 184.2L395.3 184.2L395.8 184.2L396.3 184.2L396.8 184.2L397.3 184.1L397.8 184.1L398.3 184.1L398.8 184.1L399.3 184.1L399.8 184.1L400.3 184L400.8 184L401.3 184L401.8 184L402.3 184L402.8 183.9L403.3 183.9L403.8 183.9L404.3 183.9L404.8 183.8L405.3 183.8L405.8 183.8L406.3 183.7L406.8 183.7L407.3 183.7L407.8 183.7L408.3 183.6L408.8 183.6L409.3 183.5L409.8 183.5L410.3 183.5L410.8 183.4L411.3 183.4L411.8 183.3L412.3 183.3L412.8 183.3L413.3 183.2L413.8 183.2L414.3 183.1L414.8 183L415.3 183L415.8 182.9L416.3 182.9L416.8 182.8L417.3 182.7L417.8 182.7L418.3 182.6L418.8 182.5L419.3 182.4L419.8 182.4L420.3 182.3L420.8 182.2L421.3 182.1L421.8 182L422.3 181.9L422.8 181.8L423.3 181.6L423.8 181.5L424.3 181.4L424.8 181.2L425.3 181.1L425.8 180.9L426.3 180.8L426.8 180.6L427.3 180.4L427.8 180.2L428.3 180L428.8 179.8L429.3 179.5L429.8 179.3L430.3 179L430.8 178.7L431.3 178.4L431.8 178L432.3 177.7L432.8 177.3L433.3 176.9L433.8 176.4L434.3 175.9L434.8 175.4L435.3 174.8L435.8 174.2L436.3 173.6L436.8 172.9L437.3 172.2L437.8 171.4L438.3 170.5L438.8 169.7L439.3 168.7L439.8 167.7L440.3 166.7L440.8 165.5L441.3 164.4L441.8 163.1L442.3 161.8L442.8 160.5L443.3 159.1L443.8 157.6L444.3 156.1L444.8 154.6L445.3 153L445.8 151.4L446.3 149.8L446.8 148.2L447.3 146.6L447.8 145.1L448.3 143.6L448.8 142.2L449.3 140.9L449.8 139.8L450.3 138.8L450.8 138L451.3 137.4L451.8 137L452.3 136.9L452.8 137L453.3 137.3L453.8 137.9L454.3 138.7L454.8 139.7L455.3 140.8L455.8 142.2L456.3 143.6L456.8 145.1L457.3 146.7L457.8 148.3L458.3 149.9L458.8 151.5L459.3 153.1L459.8 154.7L460.3 156.2L460.8 157.6L461.3 159L461.8 160.3L462.3 161.6L462.8 162.8L463.3 164L463.8 165.1L464.3 166.1L464.8 167L465.3 168L465.8 168.8L466.3 169.6L466.8 170.4L467.3 171.1L467.8 171.8L468.3 172.4L468.8 173L469.3 173.6L469.8 174.1L470.3 174.6L470.8 175.1L471.3 175.6L471.8 176L472.3 176.4L472.8 176.8L473.3 177.2L473.8 177.5L474.3 177.8L474.8 178.1L475.3 178.4L475.8 178.7L476.3 179L476.8 179.2L477.3 179.5L477.8 179.7L478.3 179.9L478.8 180.1L479.3 180.3L479.8 180.5L480.3 180.7L480.8 180.9L481.3 181L481.8 181.2L482.3 181.3L482.8 181.5L483.3 181.6L483.8 181.7L484.3 181.9L484.8 182L485.3 182.1L485.8 182.2L486.3 182.3L486.8 182.5L487.3 182.6L487.8 182.7L488.3 182.7L488.8 182.8L489.3 182.9L489.8 183L490.3 183.1L490.8 183.2L491.3 183.3L491.8 183.3L492.3 183.4L492.8 183.5L493.3 183.5L493.8 183.6L494.3 183.7L494.8 183.7L495.3 183.8L495.8 183.8L496.3 183.9L496.8 184L497.3 184L497.8 184.1L498.3 184.1L498.8 184.2L499.3 184.2L499.8 184.3L500.3 184.3L500.8 184.3L501.3 184.4L501.8 184.4L502.3 184.5L502.8 184.5L503.3 184.5L503.8 184.6L504.3 184.6L504.8 184.7L505.3 184.7L505.8 184.7L506.3 184.8L506.8 184.8L507.3 184.8L507.8 184.9L508.3 184.9L508.8 184.9L509.3 184.9L509.8 185L510.3 185L510.8 185L511.3 185.1L511.8 185.1L512.3 185.1L512.8 185.1L513.3 185.2L513.8 185.2L514.3 185.2L514.8 185.2L515.3 185.3L515.8 185.3L516.3 185.3L516.8 185.3L517.3 185.3L517.8 185.4L518.3 185.4L518.8 185.4L519.3 185.4L519.8 185.4L520.3 185.5L520.8 185.5L521.3 185.5L521.8 185.5L522.3 185.5L522.8 185.6L523.3 185.6L523.8 185.6L524.3 185.6L524.8 185.6L525.3 185.6L525.8 185.7L526.3 185.7L526.8 185.7L527.3 185.7L527.8 185.7L528.3 185.7L528.8 185.7L529.3 185.8L529.8 185.8L530.3 185.8L530.8 185.8L531.3 185.8L531.8 185.8L532.3 185.9L532.8 185.9L533.3 185.9L533.8 185.9L534.3 185.9L534.8 185.9L535.3 185.9L535.8 185.9L536.3 186L536.8 186L537.3 186L537.8 186L538.3 186L538.8 186L539.3 186L539.8 186L540.3 186.1L540.8 186.1L541.3 186.1L541.8 186.1L542.3 186.1L542.8 186.1L543.3 186.1L543.8 186.1L544.3 186.1L544.8 186.1L545.3 186.2L545.8 186.2L546.3 186.2L546.8 186.2L547.3 186.2L547.8 186.2L548.3 186.2L548.8 186.2" fill="none" stroke="#12a012" stroke-width="1.2"/>
<path d="M383.3 185.1L383.8 185.1L384.3 185.1L384.8 185.1L385.3 185.1L385.8 185.1L386.3 185.1L386.8 185.1L387.3 185.1L387.8 185.1L388.3 185.1L388.8 185.1L389.3 185.1L389.8 185.1L390.3 185.1L390.8 185.1L391.3 185.1L391.8 185.1L392.3 185.1L392.8 185.1L393.3 185.1L393.8 185.1L394.3 185.1L394.8 185.1L395.3 185.1L395.8 185.1L396.3 185.2L396.8 185.2L397.3 185.2L397.8 185.2L398.3 185.2L398.8 185.2L399.3 185.2L399.8 185.2L400.3 185.2L400.8 185.2L401.3 185.2L401.8 185.2L402.3 185.2L402.8 185.2L403.3 185.2L403.8 185.2L404.3 185.2L404.8 185.2L405.3 185.2L405.8 185.2L406.3 185.2L406.8 185.2L407.3 185.2L407.8 185.2L408.3 185.2L408.8 185.2L409.3 185.2L409.8 185.2L410.3 185.2L410.8 185.2L411.3 185.2L411.8 185.2L412.3 185.2L412.8 185.3L413.3 185.3L413.8 185.3L414.3 185.3L414.8 185.3L415.3 185.3L415.8 185.3L416.3 185.3L416.8 185.3L417.3 185.3L417.8 185.3L418.3 185.3L418.8 185.3L419.3 185.3L419.8 185.3L420.3 185.3L420.8 185.3L421.3 185.3L421.8 185.3L422.3 185.3L422.8 185.3L423.3 185.3L423.8 185.3L424.3 185.3L424.8 185.3L425.3 185.3L425.8 185.3L426.3 185.3L426.8 185.3L427.3 185.3L427.8 185.3L428.3 185.3L428.8 185.3L429.3 185.3L429.8 185.3L430.3 185.3L430.8 185.3L431.3 185.3L431.8 185.3L432.3 185.3L432.8 185.3L433.3 185.3L433.8 185.3L434.3 185.3L434.8 185.3L435.3 185.3L435.8 185.3L436.3 185.3L436.8 185.3L437.3 185.3L437.8 185.3L438.3 185.3L438.8 185.3L439.3 185.3L439.8 185.3L440.3 185.3L440.8 185.3L441.3 185.3L441.8 185.3L442.3 185.3L442.8 185.3L443.3 185.3L443.8 185.3L444.3 185.3L444.8 185.3L445.3 185.3L445.8 185.3L446.3 185.3L446.8 185.3L447.3 185.3L447.8 185.3L448.3 185.3L448.8 185.3L449.3 185.3L449.8 185.3L450.3 185.2L450.8 185.2L451.3 185.2L451.8 185.2L452.3 185.2L452.8 185.2L453.3 185.2L453.8 185.2L454.3 185.2L454.8 185.2L455.3 185.2L455.8 185.2L456.3 185.2L456.8 185.2L457.3 185.1L457.8 185.1L458.3 185.1L458.8 185.1L459.3 185.1L459.8 185.1L460.3 185.1L460.8 185.1L461.3 185.1L461.8 185L462.3 185L462.8 185L463.3 185L463.8 185L464.3 185L464.8 184.9L465.3 184.9L465.8 184.9L466.3 184.9L466.8 184.9L467.3 184.8L467.8 184.8L468.3 184.8L468.8 184.8L469.3 184.7L469.8 184.7L470.3 184.7L470.8 184.7L471.3 184.6L471.8 184.6L472.3 184.6L472.8 184.5L473.3 184.5L473.8 184.5L474.3 184.4L474.8 184.4L475.3 184.3L475.8 184.3L476.3 184.2L476.8 184.2L477.3 184.1L477.8 184L478.3 184L478.8 183.9L479.3 183.8L479.8 183.8L480.3 183.7L480.8 183.6L481.3 183.5L481.8 183.4L482.3 183.2L482.8 183.1L483.3 182.9L483.8 182.8L484.3 182.6L484.8 182.4L485.3 182.1L485.8 181.9L486.3 181.6L486.8 181.3L487.3 180.9L487.8 180.5L488.3 180.1L488.8 179.6L489.3 179L489.8 178.4L490.3 177.7L490.8 177L491.3 176.1L491.8 175.2L492.3 174.2L492.8 173.1L493.3 172L493.8 170.7L494.3 169.3L494.8 167.8L495.3 166.3L495.8 164.6L496.3 162.8L496.8 160.9L497.3 159L497.8 157L498.3 154.8L498.8 152.7L499.3 150.4L499.8 148.2L500.3 145.9L500.8 143.6L501.3 141.4L501.8 139.1L502.3 137L502.8 135L503.3 133.1L503.8 131.3L504.3 129.8L504.8 128.4L505.3 127.3L505.8 126.5L506.3 126L506.8 125.8L507.3 126.1L507.8 126.9L508.3 128.3L508.8 130.2L509.3 132.5L509.8 135.1L510.3 138L510.8 141L511.3 144L511.8 147.1L512.3 150.1L512.8 153.1L513.3 155.9L513.8 158.6L514.3 161.1L514.8 163.5L515.3 165.6L515.8 167.6L516.3 169.5L516.8 171.2L517.3 172.7L517.8 174L518.3 175.2L518.8 176.3L519.3 177.2L519.8 178.1L520.3 178.8L520.8 179.4L521.3 180L521.8 180.5L522.3 181L522.8 181.4L523.3 181.7L523.8 182L524.3 182.3L524.8 182.5L525.3 182.8L525.8 183L526.3 183.1L526.8 183.3L527.3 183.5L527.8 183.6L528.3 183.7L528.8 183.9L529.3 184L529.8 184.1L530.3 184.2L530.8 184.3L531.3 184.4L531.8 184.5L532.3 184.6L532.8 184.6L533.3 184.7L533.8 184.8L534.3 184.8L534.8 184.9L535.3 185L535.8 185L536.3 185.1L536.8 185.1L537.3 185.2L537.8 185.2L538.3 185.3L538.8 185.3L539.3 185.4L539.8 185.4L540.3 185.5L540.8 185.5L541.3 185.5L541.8 185.6L542.3 185.6L542.8 185.6L543.3 185.7L543.8 185.7L544.3 185.7L544.8 185.8L545.3 185.8L545.8 185.8L546.3 185.8L546.8 185.9L547.3 185.9L547.8 185.9L548.3 185.9L548.8 186L549.3 186L549.8 186L550.3 186L550.8 186L551.3 186.1L551.8 186.1L552.3 186.1L552.8 186.1L553.3 186.1L553.8 186.2L554.3 186.2L554.8 186.2L555.3 186.2L555.8 186.2L556.3 186.2L556.8 186.3L557.3 186.3L557.8 186.3L558.3 186.3L558.8 186.3L559.3 186.3L559.8 186.3L560.3 186.4L560.8 186.4L561.3 186.4L561.8 186.4L562.3 186.4L562.8 186.4L563.3 186.4L563.8 186.5L564.3 186.5L564.8 186.5L565.3 186.5L565.8 186.5L566.3 186.5L566.8 186.5L567.3 186.5L567.8 186.5L568.3 186.6L568.8 186.6L569.3 186.6L569.8 186.6L570.3 186.6L570.8 186.6L571.3 186.6L571.8 186.6L572.3 186.6L572.8 186.6L573.3 186.7L573.8 186.7L574.3 186.7L574.8 186.7L575.3 186.7L575.8 186.7L576.3 186.7L576.8 186.7L577.3 186.7L577.8 186.7L578.3 186.7L578.8 186.8L579.3 186.8L579.8 186.8L580.3 186.8L580.8 186.8L581.3 186.8L581.8 186.8L582.3 186.8L582.8 186.8L583.3 186.8L583.8 186.8L584.3 186.8L584.8 186.8L585.3 186.9L585.8 186.9L586.3 186.9L586.8 186.9L587.3 186.9L587.8 186.9L588.3 186.9L588.8 186.9L589.3 186.9L589.8 186.9L590.3 186.9L590.8 186.9L591.3 186.9L591.8 186.9L592.3 187L592.8 187L593.3 187L593.8 187L594.3 187L594.8 187L595.3 187L595.8 187L596.3 187L596.8 187L597.3 187L597.8 187L598.3 187L598.8 187L599.3 187L599.8 187.1L600.3 187.1L600.8 187.1L601.3 187.1L601.8 187.1L602.3 187.1L602.8 187.1L603.3 187.1L603.8 187.1L604.3 187.1L604.8 187.1L605.3 187.1L605.8 187.1L606.3 187.1L606.8 187.1L607.3 187.1L607.8 187.2L608.3 187.2L608.8 187.2L609.3 187.2L609.8 187.2L610.3 187.2L610.8 187.2L611.3 187.2L611.8 187.2L612.3 187.2L612.8 187.2L613.3 187.2L613.8 187.2L614.3 187.2L614.3 187.4L613.8 187.3L613.3 187.3L612.8 187.3L612.3 187.3L611.8 187.3L611.3 187.3L610.8 187.3L610.3 187.3L609.8 187.3L609.3 187.3L608.8 187.3L608.3 187.3L607.8 187.3L607.3 187.3L606.8 187.3L606.3 187.3L605.8 187.3L605.3 187.3L604.8 187.3L604.3 187.3L603.8 187.3L603.3 187.2L602.8 187.2L602.3 187.2L601.8 187.2L601.3 187.2L600.8 187.2L600.3 187.2L599.8 187.2L599.3 187.2L598.8 187.2L598.3 187.2L597.8 187.2L597.3 187.2L596.8 187.2L596.3 187.2L595.8 187.2L595.3 187.2L594.8 187.2L594.3 187.2L593.8 187.2L593.3 187.2L592.8 187.2L592.3 187.1L591.8 187.1L591.3 187.1L590.8 187.1L590.3 187.1L589.8 187.1L589.3 187.1L588.8 187.1L588.3 187.1L587.8 187.1L587.3 187.1L586.8 187.1L586.3 187.1L585.8 187.1L585.3 187.1L584.8 187.1L584.3 187.1L583.8 187.1L583.3 187.1L582.8 187.1L582.3 187.1L581.8 187L581.3 187L580.8 187L580.3 187L579.8 187L579.3 187L578.8 187L578.3 187L577.8 187L577.3 187L576.8 187L576.3 187L575.8 187L575.3 187L574.8 187L574.3 187L573.8 187L573.3 187L572.8 187L572.3 187L571.8 187L571.3 186.9L570.8 186.9L570.3 186.9L569.8 186.9L569.3 186.9L568.8 186.9L568.3 186.9L567.8 186.9L567.3 186.9L566.8 186.9L566.3 186.9L565.8 186.9L565.3 186.9L564.8 186.9L564.3 186.9L563.8 186.9L563.3 186.9L562.8 186.9L562.3 186.9L561.8 186.9L561.3 186.9L560.8 186.8L560.3 186.8L559.8 186.8L559.3 186.8L558.8 186.8L558.3 186.8L557.8 186.8L557.3 186.8L556.8 186.8L556.3 186.8L555.8 186.8L555.3 186.8L554.8 186.8L554.3 186.8L553.8 186.8L553.3 186.8L552.8 186.8L552.3 186.8L551.8 186.8L551.3 186.8L550.8 186.8L550.3 186.8L549.8 186.7L549.3 186.7L548.8 186.7L548.3 186.7L547.8 186.7L547.3 186.7L546.8 186.7L546.3 186.7L545.8 186.7L545.3 186.7L544.8 186.7L544.3 186.7L543.8 186.7L543.3 186.7L542.8 186.7L542.3 186.7L541.8 186.7L541.3 186.7L540.8 186.7L540.3 186.7L539.8 186.7L539.3 186.6L538.8 186.6L538.3 186.6L537.8 186.6L537.3 186.6L536.8 186.6L536.3 186.6L535.8 186.6L535.3 186.6L534.8 186.6L534.3 186.6L533.8 186.6L533.3 186.6L532.8 186.6L532.3 186.6L531.8 186.6L531.3 186.6L530.8 186.6L530.3 186.6L529.8 186.6L529.3 186.6L528.8 186.5L528.3 186.5L527.8 186.5L527.3 186.5L526.8 186.5L526.3 186.5L525.8 186.5L525.3 186.5L524.8 186.5L524.3 186.5L523.8 186.5L523.3 186.5L522.8 186.5L522.3 186.5L521.8 186.5L521.3 186.5L520.8 186.5L520.3 186.5L519.8 186.5L519.3 186.5L518.8 186.5L518.3 186.4L517.8 186.4L517.3 186.4L516.8 186.4L516.3 186.4L515.8 186.4L515.3 186.4L514.8 186.4L514.3 186.4L513.8 186.4L513.3 186.4L512.8 186.4L512.3 186.4L511.8 186.4L511.3 186.4L510.8 186.4L510.3 186.4L509.8 186.4L509.3 186.4L508.8 186.4L508.3 186.4L507.8 186.4L507.3 186.3L506.8 186.3L506.3 186.3L505.8 186.3L505.3 186.3L504.8 186.3L504.3 186.3L503.8 186.3L503.3 186.3L502.8 186.3L502.3 186.3L501.8 186.3L501.3 186.3L500.8 186.3L500.3 186.3L499.8 186.3L499.3 186.3L498.8 186.3L498.3 186.3L497.8 186.3L497.3 186.3L496.8 186.2L496.3 186.2L495.8 186.2L495.3 186.2L494.8 186.2L494.3 186.2L493.8 186.2L493.3 186.2L492.8 186.2L492.3 186.2L491.8 186.2L491.3 186.2L490.8 186.2L490.3 186.2L489.8 186.2L489.3 186.2L488.8 186.2L488.3 186.2L487.8 186.2L487.3 186.2L486.8 186.2L486.3 186.1L485.8 186.1L485.3 186.1L484.8 186.1L484.3 186.1L483.8 186.1L483.3 186.1L482.8 186.1L482.3 186.1L481.8 186.1L481.3 186.1L480.8 186.1L480.3 186.1L479.8 186.1L479.3 186.1L478.8 186.1L478.3 186.1L477.8 186.1L477.3 186.1L476.8 186.1L476.3 186.1L475.8 186.1L475.3 186L474.8 186L474.3 186L473.8 186L473.3 186L472.8 186L472.3 186L471.8 186L471.3 186L470.8 186L470.3 186L469.8 186L469.3 186L468.8 186L468.3 186L467.8 186L467.3 186L466.8 186L466.3 186L465.8 186L465.3 186L464.8 185.9L464.3 185.9L463.8 185.9L463.3 185.9L462.8 185.9L462.3 185.9L461.8 185.9L461.3 185.9L460.8 185.9L460.3 185.9L459.8 185.9L459.3 185.9L458.8 185.9L458.3 185.9L457.8 185.9L457.3 185.9L456.8 185.9L456.3 185.9L455.8 185.9L455.3 185.9L454.8 185.9L454.3 185.8L453.8 185.8L453.3 185.8L452.8 185.8L452.3 185.8L451.8 185.8L451.3 185.8L450.8 185.8L450.3 185.8L449.8 185.8L449.3 185.8L448.8 185.8L448.3 185.8L447.8 185.8L447.3 185.8L446.8 185.8L446.3 185.8L445.8 185.8L445.3 185.8L444.8 185.8L444.3 185.8L443.8 185.7L443.3 185.7L442.8 185.7L442.3 185.7L441.8 185.7L441.3 185.7L440.8 185.7L440.3 185.7L439.8 185.7L439.3 185.7L438.8 185.7L438.3 185.7L437.8 185.7L437.3 185.7L436.8 185.7L436.3 185.7L435.8 185.7L435.3 185.7L434.8 185.7L434.3 185.7L433.8 185.7L433.3 185.7L432.8 185.6L432.3 185.6L431.8 185.6L431.3 185.6L430.8 185.6L430.3 185.6L429.8 185.6L429.3 185.6L428.8 185.6L428.3 185.6L427.8 185.6L427.3 185.6L426.8 185.6L426.3 185.6L425.8 185.6L425.3 185.6L424.8 185.6L424.3 185.6L423.8 185.6L423.3 185.6L422.8 185.6L422.3 185.5L421.8 185.5L421.3 185.5L420.8 185.5L420.3 185.5L419.8 185.5L419.3 185.5L418.8 185.5L418.3 185.5L417.8 185.5L417.3 185.5L416.8 185.5L416.3 185.5L415.8 185.5L415.3 185.5L414.8 185.5L414.3 185.5L413.8 185.5L413.3 185.5L412.8 185.5L412.3 185.5L411.8 185.4L411.3 185.4L410.8 185.4L410.3 185.4L409.8 185.4L409.3 185.4L408.8 185.4L408.3 185.4L407.8 185.4L407.3 185.4L406.8 185.4L406.3 185.4L405.8 185.4L405.3 185.4L404.8 185.4L404.3 185.4L403.8 185.4L403.3 185.4L402.8 185.4L402.3 185.4L401.8 185.4L401.3 185.3L400.8 185.3L400.3 185.3L399.8 185.3L399.3 185.3L398.8 185.3L398.3 185.3L397.8 185.3L397.3 185.3L396.8 185.3L396.3 185.3L395.8 185.3L395.3 185.3L394.8 185.3L394.3 185.3L393.8 185.3L393.3 185.3L392.8 185.3L392.3 185.3L391.8 185.3L391.3 185.3L390.8 185.3L390.3 185.2L389.8 185.2L389.3 185.2L388.8 185.2L388.3 185.2L387.8 185.2L387.3 185.2L386.8 185.2L386.3 185.2L385.8 185.2L385.3 185.2L384.8 185.2L384.3 185.2L383.8 185.2L383.3 185.2Z" fill="url(#gb17)"/>
<path d="M446.8 185.3L447.3 185.3L447.8 185.3L448.3 185.3L448.8 185.3L449.3 185.3L449.8 185.3L450.3 185.2L450.8 185.2L451.3 185.2L451.8 185.2L452.3 185.2L452.8 185.2L453.3 185.2L453.8 185.2L454.3 185.2L454.8 185.2L455.3 185.2L455.8 185.2L456.3 185.2L456.8 185.2L457.3 185.1L457.8 185.1L458.3 185.1L458.8 185.1L459.3 185.1L459.8 185.1L460.3 185.1L460.8 185.1L461.3 185.1L461.8 185L462.3 185L462.8 185L463.3 185L463.8 185L464.3 185L464.8 184.9L465.3 184.9L465.8 184.9L466.3 184.9L466.8 184.9L467.3 184.8L467.8 184.8L468.3 184.8L468.8 184.8L469.3 184.7L469.8 184.7L470.3 184.7L470.8 184.7L471.3 184.6L471.8 184.6L472.3 184.6L472.8 184.5L473.3 184.5L473.8 184.5L474.3 184.4L474.8 184.4L475.3 184.3L475.8 184.3L476.3 184.2L476.8 184.2L477.3 184.1L477.8 184L478.3 184L478.8 183.9L479.3 183.8L479.8 183.8L480.3 183.7L480.8 183.6L481.3 183.5L481.8 183.4L482.3 183.2L482.8 183.1L483.3 182.9L483.8 182.8L484.3 182.6L484.8 182.4L485.3 182.1L485.8 181.9L486.3 181.6L486.8 181.3L487.3 180.9L487.8 180.5L488.3 180.1L488.8 179.6L489.3 179L489.8 178.4L490.3 177.7L490.8 177L491.3 176.1L491.8 175.2L492.3 174.2L492.8 173.1L493.3 172L493.8 170.7L494.3 169.3L494.8 167.8L495.3 166.3L495.8 164.6L496.3 162.8L496.8 160.9L497.3 159L497.8 157L498.3 154.8L498.8 152.7L499.3 150.4L499.8 148.2L500.3 145.9L500.8 143.6L501.3 141.4L501.8 139.1L502.3 137L502.8 135L503.3 133.1L503.8 131.3L504.3 129.8L504.8 128.4L505.3 127.3L505.8 126.5L506.3 126L506.8 125.8L507.3 126.1L507.8 126.9L508.3 128.3L508.8 130.2L509.3 132.5L509.8 135.1L510.3 138L510.8 141L511.3 144L511.8 147.1L512.3 150.1L512.8 153.1L513.3 155.9L513.8 158.6L514.3 161.1L514.8 163.5L515.3 165.6L515.8 167.6L516.3 169.5L516.8 171.2L517.3 172.7L517.8 174L518.3 175.2L518.8 176.3L519.3 177.2L519.8 178.1L520.3 178.8L520.8 179.4L521.3 180L521.8 180.5L522.3 181L522.8 181.4L523.3 181.7L523.8 182L524.3 182.3L524.8 182.5L525.3 182.8L525.8 183L526.3 183.1L526.8 183.3L527.3 183.5L527.8 183.6L528.3 183.7L528.8 183.9L529.3 184L529.8 184.1L530.3 184.2L530.8 184.3L531.3 184.4L531.8 184.5L532.3 184.6L532.8 184.6L533.3 184.7L533.8 184.8L534.3 184.8L534.8 184.9L535.3 185L535.8 185L536.3 185.1L536.8 185.1L537.3 185.2L537.8 185.2L538.3 185.3L538.8 185.3L539.3 185.4L539.8 185.4L540.3 185.5L540.8 185.5L541.3 185.5L541.8 185.6L542.3 185.6L542.8 185.6L543.3 185.7L543.8 185.7L544.3 185.7L544.8 185.8L545.3 185.8L545.8 185.8L546.3 185.8L546.8 185.9L547.3 185.9L547.8 185.9L548.3 185.9L548.8 186L549.3 186L549.8 186L550.3 186L550.8 186L551.3 186.1L551.8 186.1L552.3 186.1L552.8 186.1L553.3 186.1L553.8 186.2L554.3 186.2L554.8 186.2L555.3 186.2L555.8 186.2L556.3 186.2L556.8 186.3L557.3 186.3L557.8 186.3L558.3 186.3L558.8 186.3L559.3 186.3" fill="none" stroke="#3a84e2" stroke-width="1.2"/>
<path d="M467.3 185.8L467.8 185.9L468.3 185.9L468.8 185.9L469.3 185.9L469.8 185.9L470.3 185.9L470.8 185.9L471.3 185.9L471.8 185.9L472.3 185.9L472.8 185.9L473.3 185.9L473.8 185.9L474.3 185.9L474.8 185.9L475.3 185.9L475.8 185.9L476.3 185.9L476.8 185.9L477.3 185.9L477.8 185.9L478.3 185.9L478.8 185.9L479.3 185.9L479.8 185.9L480.3 185.9L480.8 185.9L481.3 185.9L481.8 185.9L482.3 185.9L482.8 185.9L483.3 185.8L483.8 185.8L484.3 185.8L484.8 185.8L485.3 185.8L485.8 185.8L486.3 185.8L486.8 185.8L487.3 185.8L487.8 185.8L488.3 185.8L488.8 185.8L489.3 185.8L489.8 185.8L490.3 185.7L490.8 185.7L491.3 185.7L491.8 185.7L492.3 185.7L492.8 185.7L493.3 185.7L493.8 185.6L494.3 185.6L494.8 185.6L495.3 185.6L495.8 185.5L496.3 185.5L496.8 185.5L497.3 185.4L497.8 185.4L498.3 185.3L498.8 185.3L499.3 185.2L499.8 185.2L500.3 185.1L500.8 185L501.3 184.9L501.8 184.8L502.3 184.6L502.8 184.4L503.3 184.2L503.8 184L504.3 183.7L504.8 183.3L505.3 182.8L505.8 182.3L506.3 181.7L506.8 181L507.3 180.2L507.8 179.3L508.3 178.2L508.8 177.1L509.3 175.8L509.8 174.5L510.3 173L510.8 171.5L511.3 170L511.8 168.5L512.3 166.9L512.8 165.5L513.3 164.3L513.8 163.2L514.3 162.5L514.8 162L515.3 161.9L515.8 162.2L516.3 162.8L516.8 163.7L517.3 164.9L517.8 166.2L518.3 167.7L518.8 169.3L519.3 170.8L519.8 172.4L520.3 173.8L520.8 175.3L521.3 176.6L521.8 177.8L522.3 178.9L522.8 179.9L523.3 180.8L523.8 181.5L524.3 182.2L524.8 182.8L525.3 183.3L525.8 183.7L526.3 184L526.8 184.3L527.3 184.6L527.8 184.8L528.3 184.9L528.8 185.1L529.3 185.2L529.8 185.3L530.3 185.4L530.8 185.5L531.3 185.6L531.8 185.6L532.3 185.7L532.8 185.7L533.3 185.8L533.8 185.8L534.3 185.9L534.8 185.9L535.3 186L535.8 186L536.3 186L536.8 186.1L537.3 186.1L537.8 186.1L538.3 186.1L538.8 186.2L539.3 186.2L539.8 186.2L540.3 186.2L540.8 186.2L541.3 186.3L541.8 186.3L542.3 186.3L542.8 186.3L543.3 186.3L543.8 186.4L544.3 186.4L544.8 186.4L545.3 186.4L545.8 186.4L546.3 186.4L546.8 186.4L547.3 186.5L547.8 186.5L548.3 186.5L548.8 186.5L549.3 186.5L549.8 186.5L550.3 186.5L550.8 186.5L551.3 186.5L551.8 186.6L552.3 186.6L552.8 186.6L553.3 186.6L553.8 186.6L554.3 186.6L554.8 186.6L555.3 186.6L555.8 186.6L556.3 186.6L556.8 186.7L557.3 186.7L557.8 186.7L558.3 186.7L558.8 186.7L559.3 186.7L559.8 186.7L560.3 186.7L560.8 186.7L561.3 186.7L561.8 186.7L562.3 186.7L562.8 186.7L563.3 186.8L563.3 186.9L562.8 186.9L562.3 186.9L561.8 186.9L561.3 186.9L560.8 186.8L560.3 186.8L559.8 186.8L559.3 186.8L558.8 186.8L558.3 186.8L557.8 186.8L557.3 186.8L556.8 186.8L556.3 186.8L555.8 186.8L555.3 186.8L554.8 186.8L554.3 186.8L553.8 186.8L553.3 186.8L552.8 186.8L552.3 186.8L551.8 186.8L551.3 186.8L550.8 186.8L550.3 186.8L549.8 186.7L549.3 186.7L548.8 186.7L548.3 186.7L547.8 186.7L547.3 186.7L546.8 186.7L546.3 186.7L545.8 186.7L545.3 186.7L544.8 186.7L544.3 186.7L543.8 186.7L543.3 186.7L542.8 186.7L542.3 186.7L541.8 186.7L541.3 186.7L540.8 186.7L540.3 186.7L539.8 186.7L539.3 186.6L538.8 186.6L538.3 186.6L537.8 186.6L537.3 186.6L536.8 186.6L536.3 186.6L535.8 186.6L535.3 186.6L534.8 186.6L534.3 186.6L533.8 186.6L533.3 186.6L532.8 186.6L532.3 186.6L531.8 186.6L531.3 186.6L530.8 186.6L530.3 186.6L529.8 186.6L529.3 186.6L528.8 186.5L528.3 186.5L527.8 186.5L527.3 186.5L526.8 186.5L526.3 186.5L525.8 186.5L525.3 186.5L524.8 186.5L524.3 186.5L523.8 186.5L523.3 186.5L522.8 186.5L522.3 186.5L521.8 186.5L521.3 186.5L520.8 186.5L520.3 186.5L519.8 186.5L519.3 186.5L518.8 186.5L518.3 186.4L517.8 186.4L517.3 186.4L516.8 186.4L516.3 186.4L515.8 186.4L515.3 186.4L514.8 186.4L514.3 186.4L513.8 186.4L513.3 186.4L512.8 186.4L512.3 186.4L511.8 186.4L511.3 186.4L510.8 186.4L510.3 186.4L509.8 186.4L509.3 186.4L508.8 186.4L508.3 186.4L507.8 186.4L507.3 186.3L506.8 186.3L506.3 186.3L505.8 186.3L505.3 186.3L504.8 186.3L504.3 186.3L503.8 186.3L503.3 186.3L502.8 186.3L502.3 186.3L501.8 186.3L501.3 186.3L500.8 186.3L500.3 186.3L499.8 186.3L499.3 186.3L498.8 186.3L498.3 186.3L497.8 186.3L497.3 186.3L496.8 186.2L496.3 186.2L495.8 186.2L495.3 186.2L494.8 186.2L494.3 186.2L493.8 186.2L493.3 186.2L492.8 186.2L492.3 186.2L491.8 186.2L491.3 186.2L490.8 186.2L490.3 186.2L489.8 186.2L489.3 186.2L488.8 186.2L488.3 186.2L487.8 186.2L487.3 186.2L486.8 186.2L486.3 186.1L485.8 186.1L485.3 186.1L484.8 186.1L484.3 186.1L483.8 186.1L483.3 186.1L482.8 186.1L482.3 186.1L481.8 186.1L481.3 186.1L480.8 186.1L480.3 186.1L479.8 186.1L479.3 186.1L478.8 186.1L478.3 186.1L477.8 186.1L477.3 186.1L476.8 186.1L476.3 186.1L475.8 186.1L475.3 186L474.8 186L474.3 186L473.8 186L473.3 186L472.8 186L472.3 186L471.8 186L471.3 186L470.8 186L470.3 186L469.8 186L469.3 186L468.8 186L468.3 186L467.8 186L467.3 186Z" fill="url(#gq18)"/>
<path d="M492.3 185.7L492.8 185.7L493.3 185.7L493.8 185.6L494.3 185.6L494.8 185.6L495.3 185.6L495.8 185.5L496.3 185.5L496.8 185.5L497.3 185.4L497.8 185.4L498.3 185.3L498.8 185.3L499.3 185.2L499.8 185.2L500.3 185.1L500.8 185L501.3 184.9L501.8 184.8L502.3 184.6L502.8 184.4L503.3 184.2L503.8 184L504.3 183.7L504.8 183.3L505.3 182.8L505.8 182.3L506.3 181.7L506.8 181L507.3 180.2L507.8 179.3L508.3 178.2L508.8 177.1L509.3 175.8L509.8 174.5L510.3 173L510.8 171.5L511.3 170L511.8 168.5L512.3 166.9L512.8 165.5L513.3 164.3L513.8 163.2L514.3 162.5L514.8 162L515.3 161.9L515.8 162.2L516.3 162.8L516.8 163.7L517.3 164.9L517.8 166.2L518.3 167.7L518.8 169.3L519.3 170.8L519.8 172.4L520.3 173.8L520.8 175.3L521.3 176.6L521.8 177.8L522.3 178.9L522.8 179.9L523.3 180.8L523.8 181.5L524.3 182.2L524.8 182.8L525.3 183.3L525.8 183.7L526.3 184L526.8 184.3L527.3 184.6L527.8 184.8L528.3 184.9L528.8 185.1L529.3 185.2L529.8 185.3L530.3 185.4L530.8 185.5L531.3 185.6L531.8 185.6L532.3 185.7L532.8 185.7L533.3 185.8L533.8 185.8L534.3 185.9L534.8 185.9L535.3 186L535.8 186L536.3 186L536.8 186.1L537.3 186.1L537.8 186.1L538.3 186.1" fill="none" stroke="#4a20f0" stroke-width="1.2"/>
<path d="M342.8 184.8L343.3 184.8L343.8 184.8L344.3 184.8L344.8 184.8L345.3 184.8L345.8 184.8L346.3 184.8L346.8 184.8L347.3 184.8L347.8 184.8L348.3 184.9L348.8 184.9L349.3 184.9L349.8 184.9L350.3 184.9L350.8 184.9L351.3 184.9L351.8 184.9L352.3 184.9L352.8 184.9L353.3 184.9L353.8 184.9L354.3 184.9L354.8 184.9L355.3 184.9L355.8 184.9L356.3 184.9L356.8 184.9L357.3 184.9L357.8 184.9L358.3 184.9L358.8 185L359.3 185L359.8 185L360.3 185L360.8 185L361.3 185L361.8 185L362.3 185L362.8 185L363.3 185L363.8 185L364.3 185L364.8 185L365.3 185L365.8 185L366.3 185L366.8 185L367.3 185L367.8 185L368.3 185L368.8 185L369.3 185L369.8 185.1L370.3 185.1L370.8 185.1L371.3 185.1L371.8 185.1L372.3 185.1L372.8 185.1L373.3 185.1L373.8 185.1L374.3 185.1L374.8 185.1L375.3 185.1L375.8 185.1L376.3 185.1L376.8 185.1L377.3 185.1L377.8 185.1L378.3 185.1L378.8 185.1L379.3 185.1L379.8 185.1L380.3 185.2L380.8 185.2L381.3 185.2L381.8 185.2L382.3 185.2L382.8 185.2L383.3 185.2L383.8 185.2L384.3 185.2L384.8 185.2L385.3 185.2L385.8 185.2L386.3 185.2L386.8 185.2L387.3 185.2L387.8 185.2L388.3 185.2L388.8 185.2L389.3 185.2L389.8 185.2L390.3 185.2L390.8 185.3L391.3 185.3L391.8 185.3L392.3 185.3L392.8 185.3L393.3 185.3L393.8 185.3L394.3 185.3L394.8 185.3L395.3 185.3L395.8 185.3L396.3 185.3L396.8 185.3L397.3 185.3L397.8 185.3L398.3 185.3L398.8 185.3L399.3 185.3L399.8 185.3L400.3 185.3L400.8 185.3L401.3 185.3L401.8 185.4L402.3 185.4L402.8 185.4L403.3 185.4L403.8 185.4L404.3 185.4L404.8 185.4L405.3 185.4L405.8 185.4L406.3 185.4L406.8 185.4L407.3 185.4L407.8 185.4L408.3 185.4L408.8 185.4L409.3 185.4L409.8 185.4L410.3 185.4L410.8 185.4L411.3 185.4L411.8 185.4L412.3 185.5L412.8 185.5L413.3 185.5L413.8 185.5L414.3 185.5L414.8 185.5L415.3 185.5L415.8 185.5L416.3 185.5L416.8 185.5L417.3 185.5L417.8 185.5L418.3 185.5L418.8 185.5L419.3 185.5L419.8 185.5L420.3 185.5L420.8 185.5L421.3 185.5L421.8 185.5L422.3 185.5L422.8 185.6L423.3 185.6L423.8 185.6L424.3 185.6L424.8 185.6L425.3 185.6L425.8 185.6L426.3 185.6L426.8 185.6L427.3 185.6L427.8 185.6L428.3 185.6L428.8 185.6L429.3 185.6L429.8 185.6L430.3 185.6L430.8 185.6L431.3 185.6L431.8 185.6L432.3 185.6L432.8 185.6L433.3 185.7L433.8 185.7L434.3 185.7L434.8 185.7L435.3 185.7L435.8 185.7L436.3 185.7L436.8 185.7L437.3 185.7L437.8 185.7L438.3 185.7L438.8 185.7L439.3 185.7L439.8 185.7L440.3 185.7L440.8 185.7L441.3 185.7L441.8 185.7L442.3 185.7L442.8 185.7L443.3 185.7L443.8 185.7L444.3 185.8L444.8 185.8L445.3 185.8L445.8 185.8L446.3 185.8L446.8 185.8L447.3 185.8L447.8 185.8L448.3 185.8L448.8 185.8L449.3 185.8L449.8 185.8L450.3 185.8L450.8 185.8L451.3 185.8L451.8 185.8L452.3 185.8L452.8 185.8L453.3 185.8L453.8 185.8L454.3 185.8L454.8 185.9L455.3 185.9L455.8 185.9L456.3 185.9L456.8 185.9L457.3 185.9L457.8 185.9L458.3 185.9L458.8 185.9L459.3 185.9L459.8 185.9L460.3 185.9L460.8 185.9L461.3 185.9L461.8 185.9L462.3 185.9L462.8 185.9L463.3 185.9L463.8 185.9L464.3 185.9L464.8 185.9L465.3 186L465.8 186L466.3 186L466.8 186L467.3 186L467.8 186L468.3 186L468.8 186L469.3 186L469.8 186L470.3 186L470.8 186L471.3 186L471.8 186L472.3 186L472.8 186L473.3 186L473.8 186L474.3 186L474.8 186L475.3 186L475.8 186.1L476.3 186.1L476.8 186.1L477.3 186.1L477.8 186.1L478.3 186.1L478.8 186.1L479.3 186.1L479.8 186.1L480.3 186.1L480.8 186.1L481.3 186.1L481.8 186.1L482.3 186.1L482.8 186.1L483.3 186.1L483.8 186.1L484.3 186.1L484.8 186.1L485.3 186.1L485.8 186.1L486.3 186.1L486.8 186.2L487.3 186.2L487.8 186.2L488.3 186.2L488.8 186.2L489.3 186.2L489.8 186.2L490.3 186.2L490.8 186.2L491.3 186.2L491.8 186.2L492.3 186.2L492.8 186.2L493.3 186.2L493.8 186.2L494.3 186.2L494.8 186.2L495.3 186.2L495.8 186.2L496.3 186.2L496.8 186.2L497.3 186.3L497.8 186.3L498.3 186.3L498.8 186.3L499.3 186.3L499.8 186.3L500.3 186.3L500.8 186.3L501.3 186.3L501.8 186.3L502.3 186.3L502.8 186.3L503.3 186.3L503.8 186.3L504.3 186.3L504.8 186.3L505.3 186.3L505.8 186.3L506.3 186.3L506.8 186.3L507.3 186.3L507.8 186.4L508.3 186.4L508.8 186.4L509.3 186.4L509.8 186.4L510.3 186.4L510.8 186.4L511.3 186.4L511.8 186.4L512.3 186.4L512.8 186.4L513.3 186.4L513.8 186.4L514.3 186.4L514.8 186.4L515.3 186.4L515.8 186.4L516.3 186.4L516.8 186.4L517.3 186.4L517.8 186.4L518.3 186.4L518.8 186.5L519.3 186.5L519.8 186.5L520.3 186.5L520.8 186.5L521.3 186.5L521.8 186.5L522.3 186.5L522.8 186.5L523.3 186.5L523.8 186.5L524.3 186.5L524.8 186.5L525.3 186.5L525.8 186.5L526.3 186.5L526.8 186.5L527.3 186.5L527.8 186.5L528.3 186.5L528.8 186.5L529.3 186.6L529.8 186.6L530.3 186.6L530.8 186.6L531.3 186.6L531.8 186.6L532.3 186.6L532.8 186.6L533.3 186.6L533.8 186.6L534.3 186.6L534.8 186.6L535.3 186.6L535.8 186.6L536.3 186.6L536.8 186.6L537.3 186.6L537.8 186.6L538.3 186.6L538.8 186.6L539.3 186.6L539.8 186.7L540.3 186.7L540.8 186.7L541.3 186.7L541.8 186.7L542.3 186.7L542.8 186.7L543.3 186.7L543.8 186.7L544.3 186.7L544.8 186.7L545.3 186.7L545.8 186.7L546.3 186.7L546.8 186.7L547.3 186.7L547.8 186.7L548.3 186.7L548.8 186.7L549.3 186.7L549.8 186.7L550.3 186.8L550.8 186.8L551.3 186.8L551.8 186.8L552.3 186.8L552.8 186.8L553.3 186.8L553.8 186.8L554.3 186.8L554.8 186.8L555.3 186.8L555.8 186.8L556.3 186.8L556.8 186.8L557.3 186.8L557.8 186.8L558.3 186.8L558.8 186.8L559.3 186.8L559.8 186.8L560.3 186.8L560.8 186.8L561.3 186.9L561.8 186.9L562.3 186.9L562.8 186.9L563.3 186.9L563.8 186.9L564.3 186.9L564.8 186.9L565.3 186.9L565.8 186.9L566.3 186.9L566.8 186.9L567.3 186.9L567.8 186.9L568.3 186.9L568.8 186.9L569.3 186.9L569.8 186.9L570.3 186.9L570.8 186.9L571.3 186.9L571.8 187L572.3 187L572.8 187L573.3 187L573.8 187L574.3 187L574.8 187L575.3 187L575.8 187L576.3 187L576.8 187L577.3 187L577.8 187L578.3 187L578.8 187L579.3 187L579.8 187L580.3 187L580.8 187L581.3 187L581.8 187L582.3 187.1L582.8 187.1L583.3 187.1L583.8 187.1L584.3 187.1L584.8 187.1L585.3 187.1L585.8 187.1L586.3 187.1L586.8 187.1L587.3 187.1L587.8 187.1L588.3 187.1L588.8 187.1L589.3 187.1L589.8 187.1L590.3 187.1L590.8 187.1L591.3 187.1L591.8 187.1L592.3 187.1L592.8 187.2L593.3 187.2L593.8 187.2L594.3 187.2L594.8 187.2L595.3 187.2L595.8 187.2L596.3 187.2L596.8 187.2L597.3 187.2L597.8 187.2L598.3 187.2L598.8 187.2L599.3 187.2L599.8 187.2L600.3 187.2L600.8 187.2L601.3 187.2L601.8 187.2L602.3 187.2L602.8 187.2L603.3 187.2L603.8 187.3L604.3 187.3L604.8 187.3L605.3 187.3L605.8 187.3L606.3 187.3L606.8 187.3L607.3 187.3L607.8 187.3L608.3 187.3L608.8 187.3L609.3 187.3L609.8 187.3L610.3 187.3L610.8 187.3L611.3 187.3L611.8 187.3L612.3 187.3L612.8 187.3L613.3 187.3L613.8 187.3L614.3 187.4L614.8 187.4L615.3 187.4L615.8 187.4L616.3 187.4L616.8 187.4L617.3 187.4L617.8 187.4L618.3 187.4L618.8 187.4L619.3 187.4" fill="none" stroke="#12a012" stroke-width="1.7"/>
<rect x="23" y="16" width="277.3" height="182" fill="none" stroke="#000" stroke-width="1.6"/><line x1="30.40" y1="198" x2="30.40" y2="194" stroke="#000" stroke-width="1.4"/><line x1="67.80" y1="198" x2="67.80" y2="194" stroke="#000" stroke-width="1.4"/><line x1="105.20" y1="198" x2="105.20" y2="194" stroke="#000" stroke-width="1.4"/><line x1="142.60" y1="198" x2="142.60" y2="194" stroke="#000" stroke-width="1.4"/><line x1="180.00" y1="198" x2="180.00" y2="194" stroke="#000" stroke-width="1.4"/><line x1="217.40" y1="198" x2="217.40" y2="194" stroke="#000" stroke-width="1.4"/><line x1="254.80" y1="198" x2="254.80" y2="194" stroke="#000" stroke-width="1.4"/><line x1="292.20" y1="198" x2="292.20" y2="194" stroke="#000" stroke-width="1.4"/><line x1="49.10" y1="198" x2="49.10" y2="195.8" stroke="#000" stroke-width="1.4"/><line x1="86.50" y1="198" x2="86.50" y2="195.8" stroke="#000" stroke-width="1.4"/><line x1="123.90" y1="198" x2="123.90" y2="195.8" stroke="#000" stroke-width="1.4"/><line x1="161.30" y1="198" x2="161.30" y2="195.8" stroke="#000" stroke-width="1.4"/><line x1="198.70" y1="198" x2="198.70" y2="195.8" stroke="#000" stroke-width="1.4"/><line x1="236.10" y1="198" x2="236.10" y2="195.8" stroke="#000" stroke-width="1.4"/><line x1="273.50" y1="198" x2="273.50" y2="195.8" stroke="#000" stroke-width="1.4"/>
<rect x="342.8" y="16" width="276.7" height="182" fill="none" stroke="#000" stroke-width="1.6"/><line x1="342.80" y1="198" x2="342.80" y2="194" stroke="#000" stroke-width="1.4"/><line x1="377.38" y1="198" x2="377.38" y2="194" stroke="#000" stroke-width="1.4"/><line x1="411.96" y1="198" x2="411.96" y2="194" stroke="#000" stroke-width="1.4"/><line x1="446.54" y1="198" x2="446.54" y2="194" stroke="#000" stroke-width="1.4"/><line x1="481.12" y1="198" x2="481.12" y2="194" stroke="#000" stroke-width="1.4"/><line x1="515.70" y1="198" x2="515.70" y2="194" stroke="#000" stroke-width="1.4"/><line x1="550.28" y1="198" x2="550.28" y2="194" stroke="#000" stroke-width="1.4"/><line x1="584.86" y1="198" x2="584.86" y2="194" stroke="#000" stroke-width="1.4"/><line x1="619.44" y1="198" x2="619.44" y2="194" stroke="#000" stroke-width="1.4"/><line x1="360.09" y1="198" x2="360.09" y2="195.8" stroke="#000" stroke-width="1.4"/><line x1="394.67" y1="198" x2="394.67" y2="195.8" stroke="#000" stroke-width="1.4"/><line x1="429.25" y1="198" x2="429.25" y2="195.8" stroke="#000" stroke-width="1.4"/><line x1="463.83" y1="198" x2="463.83" y2="195.8" stroke="#000" stroke-width="1.4"/><line x1="498.41" y1="198" x2="498.41" y2="195.8" stroke="#000" stroke-width="1.4"/><line x1="532.99" y1="198" x2="532.99" y2="195.8" stroke="#000" stroke-width="1.4"/><line x1="567.57" y1="198" x2="567.57" y2="195.8" stroke="#000" stroke-width="1.4"/><line x1="602.15" y1="198" x2="602.15" y2="195.8" stroke="#000" stroke-width="1.4"/>
<text x="30.40" y="211.8" font-family="Liberation Sans" font-weight="bold" font-size="13" fill="#000" text-anchor="middle" >885</text>
<text x="67.80" y="211.8" font-family="Liberation Sans" font-weight="bold" font-size="13" fill="#000" text-anchor="middle" >880</text>
<text x="105.20" y="211.8" font-family="Liberation Sans" font-weight="bold" font-size="13" fill="#000" text-anchor="middle" >875</text>
<text x="142.60" y="211.8" font-family="Liberation Sans" font-weight="bold" font-size="13" fill="#000" text-anchor="middle" >870</text>
<text x="180.00" y="211.8" font-family="Liberation Sans" font-weight="bold" font-size="13" fill="#000" text-anchor="middle" >865</text>
<text x="217.40" y="211.8" font-family="Liberation Sans" font-weight="bold" font-size="13" fill="#000" text-anchor="middle" >860</text>
<text x="254.80" y="211.8" font-family="Liberation Sans" font-weight="bold" font-size="13" fill="#000" text-anchor="middle" >855</text>
<text x="292.20" y="211.8" font-family="Liberation Sans" font-weight="bold" font-size="13" fill="#000" text-anchor="middle" >850</text>
<text x="342.80" y="211.8" font-family="Liberation Sans" font-weight="bold" font-size="13" fill="#000" text-anchor="middle" >242</text>
<text x="377.38" y="211.8" font-family="Liberation Sans" font-weight="bold" font-size="13" fill="#000" text-anchor="middle" >240</text>
<text x="411.96" y="211.8" font-family="Liberation Sans" font-weight="bold" font-size="13" fill="#000" text-anchor="middle" >238</text>
<text x="446.54" y="211.8" font-family="Liberation Sans" font-weight="bold" font-size="13" fill="#000" text-anchor="middle" >236</text>
<text x="481.12" y="211.8" font-family="Liberation Sans" font-weight="bold" font-size="13" fill="#000" text-anchor="middle" >234</text>
<text x="515.70" y="211.8" font-family="Liberation Sans" font-weight="bold" font-size="13" fill="#000" text-anchor="middle" >232</text>
<text x="550.28" y="211.8" font-family="Liberation Sans" font-weight="bold" font-size="13" fill="#000" text-anchor="middle" >230</text>
<text x="584.86" y="211.8" font-family="Liberation Sans" font-weight="bold" font-size="13" fill="#000" text-anchor="middle" >228</text>
<text x="619.44" y="211.8" font-family="Liberation Sans" font-weight="bold" font-size="13" fill="#000" text-anchor="middle" >226</text>
<text x="161.5" y="229" font-family="Liberation Sans" font-weight="bold" font-size="13" fill="#000" text-anchor="middle" >Binding energy (eV)</text>
<text x="481" y="229" font-family="Liberation Sans" font-weight="bold" font-size="13" fill="#000" text-anchor="middle" >Binding energy (eV)</text>
<text transform="translate(11.6,101.8) rotate(-90)" font-family="Liberation Sans" font-weight="bold" font-size="13.5" text-anchor="middle">Intensity (a.u.)</text>
<text transform="translate(331.6,101.8) rotate(-90)" font-family="Liberation Sans" font-weight="bold" font-size="13.5" text-anchor="middle">Intensity (a.u.)</text>
<text x="-0.6" y="24.7" font-family="Liberation Sans" font-size="33">a</text>
<text x="320.2" y="25.3" font-family="Liberation Sans" font-size="32.5">b</text>
<text x="27" y="31.3" font-family="Liberation Sans" font-weight="bold" font-size="13">NiO/MoO<tspan font-size="8.6" dy="5.2">2</tspan><tspan dy="-5.2">-100-2</tspan></text>
<text x="27" y="122.2" font-family="Liberation Sans" font-weight="bold" font-size="13">NiO/MoO<tspan font-size="8.6" dy="5.2">2</tspan><tspan dy="-5.2">-100</tspan></text>
<text x="347" y="31.3" font-family="Liberation Sans" font-weight="bold" font-size="13">NiO/MoO<tspan font-size="8.6" dy="5.2">2</tspan><tspan dy="-5.2">-100-2</tspan></text>
<text x="347" y="122.2" font-family="Liberation Sans" font-weight="bold" font-size="13">NiO/MoO<tspan font-size="8.6" dy="5.2">2</tspan><tspan dy="-5.2">-100</tspan></text>
<text x="295.5" y="31.5" font-family="Liberation Sans" font-weight="bold" font-size="13" text-anchor="end">Ni 2<tspan font-style="italic">p</tspan></text>
<text x="614.5" y="31.5" font-family="Liberation Sans" font-weight="bold" font-size="13" text-anchor="end">Mo 3<tspan font-style="italic">d</tspan></text>
<text x="50.5" y="53.7" font-family="Liberation Sans" font-weight="bold" font-size="13">Ni 2<tspan font-style="italic">p</tspan><tspan font-size="8.6" letter-spacing="-0.5" dx="0.8" dy="5.3">1/2</tspan></text>
<text x="189.5" y="43.8" font-family="Liberation Sans" font-weight="bold" font-size="13">Ni 2<tspan font-style="italic">p</tspan><tspan font-size="8.6" letter-spacing="-0.5" dx="0.8" dy="5.3">3/2</tspan></text>
<text x="95.5" y="83" font-family="Liberation Sans" font-weight="bold" font-size="13" fill="#16a016">Ni<tspan font-size="7.8" dy="-6.8">2+</tspan></text>
<text x="139" y="87" font-family="Liberation Sans" font-weight="bold" font-size="13" fill="#f010e8">Ni<tspan font-size="7.8" dy="-6.8">0</tspan></text>
<text x="222.5" y="71.2" font-family="Liberation Sans" font-weight="bold" font-size="13" fill="#16a016">Ni<tspan font-size="7.8" dy="-6.8">2+</tspan></text>
<text x="269.5" y="66.5" font-family="Liberation Sans" font-weight="bold" font-size="13" fill="#f010e8">Ni<tspan font-size="7.8" dy="-6.8">0</tspan></text>
<text x="61.5" y="146.7" font-family="Liberation Sans" font-weight="bold" font-size="13" fill="#4f34ea" text-anchor="start" >Sat.</text>
<text x="197" y="145.6" font-family="Liberation Sans" font-weight="bold" font-size="13" fill="#4f34ea" text-anchor="start" >Sat.</text>
<text x="429.5" y="60.5" font-family="Liberation Sans" font-weight="bold" font-size="13" fill="#16a016">Mo<tspan font-size="8" dy="-6.5">6+</tspan><tspan dy="6.5"> 3</tspan><tspan font-style="italic">d</tspan><tspan font-size="8.6" letter-spacing="-0.5" dy="5.3">5/2</tspan></text>
<text x="485.5" y="44.5" font-family="Liberation Sans" font-weight="bold" font-size="13" fill="#3279dc">Mo<tspan font-size="8" dy="-6.5">4+</tspan><tspan dy="6.5"> 3</tspan><tspan font-style="italic">d</tspan><tspan font-size="8.6" letter-spacing="-0.5" dy="5.3">3/2</tspan></text>
<text x="528.5" y="87" font-family="Liberation Sans" font-weight="bold" font-size="13" fill="#4f34ea">Mo<tspan font-size="8" dy="-6.5">3+</tspan><tspan dy="6.5"> 3</tspan><tspan font-style="italic">d</tspan><tspan font-size="8.6" letter-spacing="-0.5" dy="5.3">3/2</tspan></text>
</svg></body></html>
